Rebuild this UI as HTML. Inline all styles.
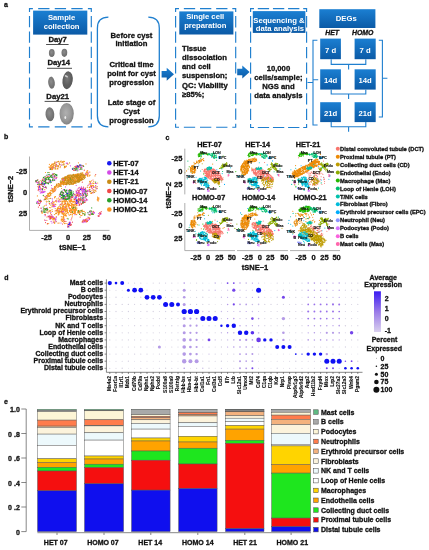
<!DOCTYPE html>
<html><head><meta charset="utf-8"><style>
html,body{margin:0;padding:0;background:#fff;width:429px;height:550px;overflow:hidden}
svg{display:block;font-family:"Liberation Sans",Arial,sans-serif}
</style></head><body>
<svg width="429" height="550" viewBox="0 0 429 550">
<defs>
<linearGradient id="hdr" x1="0" y1="0" x2="0" y2="1">
<stop offset="0" stop-color="#1b7fd2"/><stop offset="1" stop-color="#0b5aa6"/></linearGradient>
<radialGradient id="kidA" cx="0.45" cy="0.4" r="0.65">
<stop offset="0" stop-color="#8e8e8e"/><stop offset="0.6" stop-color="#767676"/><stop offset="0.88" stop-color="#6e6e6e"/><stop offset="1" stop-color="#c8c8c8"/></radialGradient>
<radialGradient id="kidB" cx="0.45" cy="0.4" r="0.65">
<stop offset="0" stop-color="#7a7a7a"/><stop offset="0.6" stop-color="#5e5e5e"/><stop offset="0.88" stop-color="#5a5a5a"/><stop offset="1" stop-color="#b8b8b8"/></radialGradient>
<radialGradient id="kidC" cx="0.45" cy="0.45" r="0.6">
<stop offset="0" stop-color="#b0b0b0"/><stop offset="0.6" stop-color="#999"/><stop offset="0.88" stop-color="#858585"/><stop offset="1" stop-color="#c8c8c8"/></radialGradient>
<linearGradient id="cbar" x1="0" y1="0" x2="0" y2="1">
<stop offset="0" stop-color="#3a1cf2"/><stop offset="0.5" stop-color="#9a7ae8"/><stop offset="1" stop-color="#d9d0ee"/></linearGradient>
</defs>
<rect width="429" height="550" fill="#fff"/>
<text x="4" y="7.2" font-size="7" text-anchor="start" fill="#111" font-weight="bold" stroke="#111" stroke-width="0.3">a</text>
<path d="M32.9,8.6 L29.5,8.6 L29.5,12.0" fill="none" stroke="#1f7fcf" stroke-width="1.15"/>
<path d="M87.89999999999999,8.6 L91.3,8.6 L91.3,12.0" fill="none" stroke="#1f7fcf" stroke-width="1.15"/>
<path d="M32.9,126.9 L29.5,126.9 L29.5,123.5" fill="none" stroke="#1f7fcf" stroke-width="1.15"/>
<path d="M87.89999999999999,126.9 L91.3,126.9 L91.3,123.5" fill="none" stroke="#1f7fcf" stroke-width="1.15"/>
<path d="M38.17,8.6h11.3M54.75,8.6h11.3M71.33,8.6h11.3" stroke="#1f7fcf" stroke-width="1.15" fill="none"/>
<path d="M38.17,126.9h11.3M54.75,126.9h11.3M71.33,126.9h11.3" stroke="#1f7fcf" stroke-width="1.15" fill="none"/>
<path d="M29.5,16.05v11.3M29.5,31.40v11.3M29.5,46.75v11.3M29.5,62.10v11.3M29.5,77.45v11.3M29.5,92.80v11.3M29.5,108.15v11.3" stroke="#1f7fcf" stroke-width="1.15" fill="none"/>
<path d="M91.3,16.05v11.3M91.3,31.40v11.3M91.3,46.75v11.3M91.3,62.10v11.3M91.3,77.45v11.3M91.3,92.80v11.3M91.3,108.15v11.3" stroke="#1f7fcf" stroke-width="1.15" fill="none"/>
<rect x="33.1" y="10.6" width="54.20" height="24.00" fill="url(#hdr)"/>
<text x="61.6" y="19.9" font-size="7.7" text-anchor="middle" fill="#fff" font-weight="bold">Sample</text>
<text x="61.6" y="28.7" font-size="7.7" text-anchor="middle" fill="#fff" font-weight="bold">collection</text>
<text x="57.7" y="41.6" font-size="7.7" text-anchor="middle" fill="#111" font-weight="bold" stroke="#111" stroke-width="0.3">Day7</text>
<line x1="46.1" y1="44.5" x2="68.6" y2="44.5" stroke="#222" stroke-width="0.8"/>
<text x="58.8" y="64.6" font-size="7.7" text-anchor="middle" fill="#111" font-weight="bold" stroke="#111" stroke-width="0.3">Day14</text>
<line x1="47" y1="68.3" x2="72" y2="68.3" stroke="#222" stroke-width="0.8"/>
<text x="57.7" y="98.6" font-size="7.7" text-anchor="middle" fill="#111" font-weight="bold" stroke="#111" stroke-width="0.3">Day21</text>
<line x1="44.6" y1="101.4" x2="70.7" y2="101.4" stroke="#222" stroke-width="0.8"/>
<ellipse cx="51.8" cy="53.0" rx="2.9" ry="4.0" fill="url(#kidA)"/>
<ellipse cx="64.4" cy="52.8" rx="2.9" ry="4.1" fill="url(#kidA)"/>
<ellipse cx="51.5" cy="82.7" rx="3.3" ry="6.1" transform="rotate(-6 51.5 82.7)" fill="url(#kidA)"/>
<ellipse cx="67.6" cy="80.3" rx="5.1" ry="9.0" transform="rotate(8 67.6 80.3)" fill="url(#kidB)"/>
<ellipse cx="66.3" cy="76.3" rx="1.8" ry="0.9" transform="rotate(30 66.3 76.3)" fill="#e8e8e8" opacity="0.8"/>
<ellipse cx="49.9" cy="114.3" rx="4.4" ry="7.0" transform="rotate(-5 49.9 114.3)" fill="url(#kidA)"/>
<ellipse cx="66.7" cy="113.8" rx="7.1" ry="10.9" fill="url(#kidC)"/>
<ellipse cx="65.3" cy="117.5" rx="0.9" ry="1.6" fill="#f4f4f4" opacity="0.9"/>
<path d="M108.4,17.2 Q97.4,17.2 97.4,28.2 V115.8 Q97.4,126.8 108.4,126.8" fill="none" stroke="#1f7fcf" stroke-width="1.3"/>
<path d="M148.3,17.2 Q159.3,17.2 159.3,28.2 V115.8 Q159.3,126.8 148.3,126.8" fill="none" stroke="#1f7fcf" stroke-width="1.3"/>
<text x="131.5" y="37.6" font-size="7.7" text-anchor="middle" fill="#111" font-weight="bold" stroke="#111" stroke-width="0.3">Before cyst</text>
<text x="131.5" y="46.4" font-size="7.7" text-anchor="middle" fill="#111" font-weight="bold" stroke="#111" stroke-width="0.3">initiation</text>
<text x="131.5" y="67.0" font-size="7.7" text-anchor="middle" fill="#111" font-weight="bold" stroke="#111" stroke-width="0.3">Critical time</text>
<text x="131.5" y="76.0" font-size="7.7" text-anchor="middle" fill="#111" font-weight="bold" stroke="#111" stroke-width="0.3">point for cyst</text>
<text x="131.5" y="85.2" font-size="7.7" text-anchor="middle" fill="#111" font-weight="bold" stroke="#111" stroke-width="0.3">progression</text>
<text x="131.5" y="104.8" font-size="7.7" text-anchor="middle" fill="#111" font-weight="bold" stroke="#111" stroke-width="0.3">Late stage of</text>
<text x="131.5" y="114.0" font-size="7.7" text-anchor="middle" fill="#111" font-weight="bold" stroke="#111" stroke-width="0.3">Cyst</text>
<text x="131.5" y="122.9" font-size="7.7" text-anchor="middle" fill="#111" font-weight="bold" stroke="#111" stroke-width="0.3">progression</text>
<path d="M161.6,71.1 H166.7 V67.8 L174.0,74.3 L166.7,80.8 V77.5 H161.6 Z" fill="url(#hdr)"/>
<path d="M237.2,68.8 H242.29999999999998 V65.5 L249.6,72.0 L242.29999999999998,78.5 V75.2 H237.2 Z" fill="url(#hdr)"/>
<path d="M179.0,8.6 L175.6,8.6 L175.6,12.0" fill="none" stroke="#1f7fcf" stroke-width="1.15"/>
<path d="M232.29999999999998,8.6 L235.7,8.6 L235.7,12.0" fill="none" stroke="#1f7fcf" stroke-width="1.15"/>
<path d="M179.0,127.2 L175.6,127.2 L175.6,123.8" fill="none" stroke="#1f7fcf" stroke-width="1.15"/>
<path d="M232.29999999999998,127.2 L235.7,127.2 L235.7,123.8" fill="none" stroke="#1f7fcf" stroke-width="1.15"/>
<path d="M183.85,8.6h11.3M200.00,8.6h11.3M216.15,8.6h11.3" stroke="#1f7fcf" stroke-width="1.15" fill="none"/>
<path d="M183.85,127.2h11.3M200.00,127.2h11.3M216.15,127.2h11.3" stroke="#1f7fcf" stroke-width="1.15" fill="none"/>
<path d="M175.6,16.09v11.3M175.6,31.48v11.3M175.6,46.86v11.3M175.6,62.25v11.3M175.6,77.64v11.3M175.6,93.03v11.3M175.6,108.41v11.3" stroke="#1f7fcf" stroke-width="1.15" fill="none"/>
<path d="M235.7,16.09v11.3M235.7,31.48v11.3M235.7,46.86v11.3M235.7,62.25v11.3M235.7,77.64v11.3M235.7,93.03v11.3M235.7,108.41v11.3" stroke="#1f7fcf" stroke-width="1.15" fill="none"/>
<rect x="179.3" y="11.4" width="54.10" height="23.10" fill="url(#hdr)"/>
<text x="205.2" y="19.1" font-size="7.7" text-anchor="middle" fill="#fff" font-weight="bold">Single cell</text>
<text x="205.3" y="27.8" font-size="7.7" text-anchor="middle" fill="#fff" font-weight="bold">preparation</text>
<text x="182.1" y="51.0" font-size="7.7" text-anchor="start" fill="#111" font-weight="bold" stroke="#111" stroke-width="0.3">Tissue</text>
<text x="182.1" y="60.15" font-size="7.7" text-anchor="start" fill="#111" font-weight="bold" stroke="#111" stroke-width="0.3">dissociation</text>
<text x="182.1" y="69.3" font-size="7.7" text-anchor="start" fill="#111" font-weight="bold" stroke="#111" stroke-width="0.3">and cell</text>
<text x="182.1" y="78.45" font-size="7.7" text-anchor="start" fill="#111" font-weight="bold" stroke="#111" stroke-width="0.3">suspension;</text>
<text x="182.1" y="87.6" font-size="7.7" text-anchor="start" fill="#111" font-weight="bold" stroke="#111" stroke-width="0.3">QC: Viability</text>
<text x="182.1" y="96.75" font-size="7.7" text-anchor="start" fill="#111" font-weight="bold" stroke="#111" stroke-width="0.3">≥85%;</text>
<path d="M254.0,8.6 L250.6,8.6 L250.6,12.0" fill="none" stroke="#1f7fcf" stroke-width="1.15"/>
<path d="M303.20000000000005,8.6 L306.6,8.6 L306.6,12.0" fill="none" stroke="#1f7fcf" stroke-width="1.15"/>
<path d="M254.0,127.5 L250.6,127.5 L250.6,124.1" fill="none" stroke="#1f7fcf" stroke-width="1.15"/>
<path d="M303.20000000000005,127.5 L306.6,127.5 L306.6,124.1" fill="none" stroke="#1f7fcf" stroke-width="1.15"/>
<path d="M257.82,8.6h11.3M272.95,8.6h11.3M288.07,8.6h11.3" stroke="#1f7fcf" stroke-width="1.15" fill="none"/>
<path d="M257.82,127.5h11.3M272.95,127.5h11.3M288.07,127.5h11.3" stroke="#1f7fcf" stroke-width="1.15" fill="none"/>
<path d="M250.6,16.12v11.3M250.6,31.55v11.3M250.6,46.98v11.3M250.6,62.40v11.3M250.6,77.83v11.3M250.6,93.25v11.3M250.6,108.67v11.3" stroke="#1f7fcf" stroke-width="1.15" fill="none"/>
<path d="M306.6,16.12v11.3M306.6,31.55v11.3M306.6,46.98v11.3M306.6,62.40v11.3M306.6,77.83v11.3M306.6,93.25v11.3M306.6,108.67v11.3" stroke="#1f7fcf" stroke-width="1.15" fill="none"/>
<rect x="252.8" y="11.1" width="52.60" height="21.80" fill="url(#hdr)"/>
<text x="278.9" y="22.7" font-size="7.7" text-anchor="middle" fill="#fff" font-weight="bold">Sequencing &amp;</text>
<text x="279.9" y="31.1" font-size="7.7" text-anchor="middle" fill="#fff" font-weight="bold">data analysis</text>
<text x="278.4" y="70.9" font-size="7.7" text-anchor="middle" fill="#111" font-weight="bold" stroke="#111" stroke-width="0.3">10,000</text>
<text x="278.4" y="79.8" font-size="7.7" text-anchor="middle" fill="#111" font-weight="bold" stroke="#111" stroke-width="0.3">cells/sample;</text>
<text x="278.4" y="88.8" font-size="7.7" text-anchor="middle" fill="#111" font-weight="bold" stroke="#111" stroke-width="0.3">NGS and</text>
<text x="278.4" y="97.9" font-size="7.7" text-anchor="middle" fill="#111" font-weight="bold" stroke="#111" stroke-width="0.3">data analysis</text>
<rect x="319.3" y="9.2" width="56.10" height="18.80" fill="url(#hdr)"/>
<text x="346.2" y="21.4" font-size="7.7" text-anchor="middle" fill="#fff" font-weight="bold">DEGs</text>
<text x="332.2" y="34.6" font-size="6.9" text-anchor="middle" fill="#111" font-weight="bold" font-style="italic" stroke="#111" stroke-width="0.3">HET</text>
<text x="362.7" y="34.6" font-size="6.9" text-anchor="middle" fill="#111" font-weight="bold" font-style="italic" stroke="#111" stroke-width="0.3">HOMO</text>
<rect x="320.2" y="38.6" width="20.70" height="20.60" fill="url(#hdr)"/>
<text x="330.54999999999995" y="52.50000000000001" font-size="7.7" text-anchor="middle" fill="#fff" font-weight="bold">7 d</text>
<rect x="354.6" y="38.6" width="21.10" height="20.60" fill="url(#hdr)"/>
<text x="365.15" y="52.50000000000001" font-size="7.7" text-anchor="middle" fill="#fff" font-weight="bold">7 d</text>
<rect x="320.2" y="69.3" width="20.70" height="20.30" fill="url(#hdr)"/>
<text x="330.54999999999995" y="83.04999999999998" font-size="7.7" text-anchor="middle" fill="#fff" font-weight="bold">14d</text>
<rect x="354.6" y="69.3" width="21.10" height="20.30" fill="url(#hdr)"/>
<text x="365.15" y="83.04999999999998" font-size="7.7" text-anchor="middle" fill="#fff" font-weight="bold">14d</text>
<rect x="320.2" y="102.2" width="20.70" height="19.90" fill="url(#hdr)"/>
<text x="330.54999999999995" y="115.75" font-size="7.7" text-anchor="middle" fill="#fff" font-weight="bold">21d</text>
<rect x="354.6" y="102.2" width="21.10" height="19.90" fill="url(#hdr)"/>
<text x="365.15" y="115.75" font-size="7.7" text-anchor="middle" fill="#fff" font-weight="bold">21d</text>
<path d="M331.2,59.2 V64.4 H365.8 V59.2 M348.6,64.4 V69.4" fill="none" stroke="#1f7fcf" stroke-width="1.1"/>
<path d="M331.2,89.6 V94.0 H365.8 V89.6 M348.6,94.0 V99.0" fill="none" stroke="#1f7fcf" stroke-width="1.1"/>
<path d="M331.2,122.1 V126.7 H365.8 V122.1 M348.6,126.7 V131.7" fill="none" stroke="#1f7fcf" stroke-width="1.1"/>
<path d="M317.4,40.2 H313.0 V125.0 H317.6 M313,79.8 H318.2 M307.5,82.5 H313" fill="none" stroke="#1f7fcf" stroke-width="1.1"/>
<path d="M378.8,40.2 H382.4 V117.0 H378.8 M382.4,78.2 H387.4" fill="none" stroke="#1f7fcf" stroke-width="1.1"/>
<text x="4" y="138.5" font-size="7" text-anchor="start" fill="#111" font-weight="bold" stroke="#111" stroke-width="0.3">b</text>
<path d="M29.5,156.5 V230.4 H109.5" fill="none" stroke="#9a9a9a" stroke-width="0.8"/>
<text x="27.2" y="173.8" font-size="7.5" text-anchor="end" fill="#111" font-weight="bold" stroke="#111" stroke-width="0.3">-25</text>
<text x="27.2" y="195.2" font-size="7.5" text-anchor="end" fill="#111" font-weight="bold" stroke="#111" stroke-width="0.3">0</text>
<text x="27.2" y="215.6" font-size="7.5" text-anchor="end" fill="#111" font-weight="bold" stroke="#111" stroke-width="0.3">25</text>
<text x="46.6" y="240.2" font-size="7.5" text-anchor="middle" fill="#111" font-weight="bold" stroke="#111" stroke-width="0.3">-25</text>
<text x="68" y="240.2" font-size="7.5" text-anchor="middle" fill="#111" font-weight="bold" stroke="#111" stroke-width="0.3">0</text>
<text x="86.8" y="240.2" font-size="7.5" text-anchor="middle" fill="#111" font-weight="bold" stroke="#111" stroke-width="0.3">25</text>
<text x="106.7" y="240.2" font-size="7.5" text-anchor="middle" fill="#111" font-weight="bold" stroke="#111" stroke-width="0.3">50</text>
<text x="72.5" y="249.6" font-size="7.5" text-anchor="middle" fill="#111" font-weight="bold" stroke="#111" stroke-width="0.3">tSNE−1</text>
<text x="13.2" y="189" font-size="7.5" text-anchor="middle" fill="#111" font-weight="bold" transform="rotate(-90 13.2 189)" stroke="#111" stroke-width="0.3">tSNE−2</text>
<path stroke="#c98c16" stroke-width="1.20" stroke-linecap="round" d="M54.4 163.4h0M55.0 167.0h0M55.1 168.8h0M53.6 167.2h0M57.5 161.8h0M63.8 165.0h0M55.2 167.9h0M60.0 164.8h0M67.2 163.4h0M50.3 169.0h0M54.1 165.5h0M57.6 166.1h0M56.6 164.7h0M62.3 164.8h0M61.2 161.1h0M64.6 167.4h0M55.0 162.2h0M58.5 161.4h0M52.5 169.1h0M65.9 166.5h0M62.7 162.3h0M53.8 164.4h0M52.1 164.3h0M58.4 166.8h0M64.5 166.4h0M63.9 161.3h0M57.9 168.8h0M55.6 165.8h0M58.6 165.8h0M52.0 166.6h0M59.3 163.8h0M63.8 164.4h0M47.2 177.5h0M54.3 173.6h0M49.5 181.9h0M41.0 180.5h0M43.7 179.0h0M48.0 176.6h0M46.2 177.5h0M56.1 178.0h0M49.2 177.2h0M62.3 180.0h0M73.6 180.0h0M74.2 178.7h0M75.4 182.5h0M68.8 177.7h0M74.9 179.4h0M76.2 175.9h0M61.3 182.0h0M73.6 183.6h0M65.0 182.0h0M75.3 181.9h0M66.8 178.5h0M80.8 180.4h0M76.9 178.0h0M69.9 177.0h0M68.3 182.7h0M79.7 179.9h0M72.6 178.6h0M71.5 177.1h0M65.6 178.1h0M68.4 184.0h0M66.5 184.7h0M71.5 183.0h0M79.4 177.2h0M72.7 177.3h0M73.4 174.8h0M67.3 176.7h0M61.6 183.6h0M76.4 180.9h0M73.3 177.7h0M62.0 178.5h0M78.8 179.3h0M74.0 176.8h0M63.0 183.9h0M67.3 179.6h0M65.6 178.5h0M72.3 182.9h0M60.8 180.9h0M77.3 176.7h0M71.8 176.5h0M60.3 181.8h0M77.5 175.0h0M68.8 183.5h0M81.0 175.3h0M76.0 178.5h0M73.7 174.7h0M76.5 181.4h0M68.0 179.2h0M64.4 178.6h0M71.3 178.3h0M65.4 180.4h0M77.8 180.8h0M67.7 178.5h0M79.6 179.4h0M63.9 180.5h0M72.5 175.5h0M79.6 175.1h0M67.5 182.4h0M63.0 177.8h0M67.6 180.5h0M78.6 180.4h0M65.0 182.3h0M64.7 179.8h0M69.8 182.8h0M71.8 180.8h0M63.7 182.2h0M77.8 182.3h0M73.7 181.6h0M65.9 183.0h0M78.1 180.1h0M75.8 180.0h0M67.6 181.6h0M70.3 182.6h0M73.9 176.4h0M70.7 180.9h0M76.3 182.9h0M75.6 181.5h0M72.3 184.2h0M71.8 176.0h0M81.5 177.6h0M73.3 179.5h0M72.1 180.8h0M65.4 182.7h0M67.3 175.9h0M68.2 175.2h0M70.1 181.8h0M65.6 177.9h0M81.5 177.7h0M78.1 177.0h0M63.7 184.0h0M74.5 178.6h0M68.5 181.6h0M78.5 177.7h0M71.8 175.6h0M69.0 183.6h0M68.2 177.7h0M76.0 176.3h0M67.0 180.2h0M74.9 180.4h0M81.2 180.3h0M79.2 179.2h0M74.5 176.3h0M62.9 178.6h0M67.3 176.8h0M77.4 174.9h0M74.5 181.7h0M81.0 180.4h0M65.1 182.8h0M76.8 177.7h0M72.2 176.9h0M63.4 181.2h0M70.0 176.2h0M71.5 179.9h0M70.9 180.3h0M78.9 176.6h0M74.9 180.2h0M71.7 179.3h0M74.0 177.3h0M68.4 179.9h0M77.0 175.4h0M69.9 180.4h0M67.5 183.7h0M71.1 177.2h0M82.5 178.7h0M67.3 178.5h0M73.7 180.4h0M80.3 178.1h0M74.3 180.5h0M81.0 178.6h0M74.8 180.8h0M75.0 175.8h0M71.1 182.3h0M78.5 182.2h0M69.2 183.3h0M72.4 176.8h0M69.4 178.1h0M75.6 183.1h0M72.1 174.7h0M78.6 178.8h0M69.3 175.0h0M70.8 178.8h0M74.2 176.0h0M75.9 175.9h0M78.1 180.3h0M75.8 174.3h0M67.7 182.6h0M79.6 177.6h0M68.7 180.9h0M74.7 175.2h0M68.7 181.6h0M69.4 178.8h0M72.6 177.1h0M78.5 176.3h0M73.4 177.1h0M80.0 176.4h0M74.6 182.9h0M66.0 179.9h0M79.4 181.8h0M79.6 181.0h0M72.6 176.9h0M78.8 179.8h0M67.2 176.2h0M77.6 175.1h0M74.3 180.7h0M64.4 178.5h0M78.0 177.7h0M79.0 180.7h0M74.1 183.0h0M71.9 179.2h0M63.9 178.0h0M75.7 177.2h0M69.3 180.1h0M67.8 176.2h0M77.2 174.8h0M68.1 180.4h0M79.7 177.6h0M66.7 183.4h0M64.1 177.8h0M61.5 182.2h0M71.5 184.1h0M61.9 182.5h0M66.2 181.3h0M82.1 179.0h0M69.0 184.1h0M78.4 180.2h0M75.1 176.7h0M76.5 174.4h0M65.3 177.0h0M63.5 178.5h0M75.8 175.5h0M79.5 179.1h0M68.6 183.4h0M73.6 175.4h0M62.0 183.7h0M66.1 179.8h0M67.1 183.9h0M64.0 181.0h0M80.7 179.3h0M70.5 177.5h0M62.0 179.4h0M62.0 183.8h0M78.1 176.5h0M71.4 176.3h0M80.2 174.8h0M62.7 178.1h0M75.6 175.5h0M62.4 182.5h0M65.8 177.7h0M76.8 181.6h0M76.5 177.5h0M68.5 183.6h0M70.3 174.8h0M71.7 183.3h0M65.1 184.2h0M63.7 179.8h0M60.4 182.1h0M71.1 175.7h0M79.4 181.6h0M76.0 177.3h0M81.7 177.3h0M72.3 179.7h0M66.5 183.8h0M62.8 183.4h0M60.9 182.8h0M72.4 181.4h0M80.3 179.9h0M63.0 181.2h0M65.8 176.9h0M63.5 182.1h0M63.7 181.9h0M68.8 179.3h0M77.4 176.6h0M79.3 181.4h0M65.7 179.9h0M68.5 180.4h0M70.0 179.9h0M75.1 181.9h0M74.2 176.5h0M73.7 176.5h0M70.9 184.2h0M67.4 181.9h0M74.6 183.5h0M66.2 180.3h0M62.8 179.2h0M66.2 178.0h0M73.2 182.6h0M73.4 180.6h0M76.2 178.1h0M74.0 178.7h0M65.1 178.0h0M69.0 180.9h0M68.9 183.7h0M72.8 179.1h0M76.9 174.9h0M79.7 177.1h0M68.9 179.4h0M76.2 175.0h0M68.5 181.9h0M80.0 181.0h0M77.4 180.7h0M71.5 182.4h0M77.7 179.1h0M82.1 178.0h0M78.7 181.8h0M68.7 179.6h0M76.1 176.4h0M72.5 178.1h0M78.7 181.5h0M69.6 176.7h0M63.7 181.9h0M68.3 183.7h0M70.7 183.9h0M61.5 182.3h0M73.4 184.2h0M72.3 181.2h0M68.5 181.1h0M81.9 179.1h0M62.2 180.2h0M73.0 179.9h0M81.9 177.1h0M68.0 180.5h0M78.9 178.1h0M80.8 179.5h0M69.0 176.5h0M71.8 179.5h0M64.6 182.3h0M73.6 174.4h0M77.6 176.2h0M79.4 178.7h0M64.7 180.9h0M66.5 182.1h0M68.7 176.2h0M76.5 174.4h0M64.1 181.3h0M74.7 182.0h0M68.0 182.5h0M63.6 178.8h0M80.8 178.4h0M70.1 178.6h0M70.4 181.0h0M79.1 176.0h0M78.2 176.1h0M65.5 179.7h0M64.8 179.0h0M71.8 182.4h0M63.9 179.7h0M72.1 175.4h0M68.7 179.1h0M63.7 184.5h0M65.1 177.7h0M74.9 177.2h0M75.3 174.5h0M70.9 183.1h0M63.5 179.7h0M69.7 184.6h0M81.7 177.4h0M69.7 176.1h0M66.9 184.6h0M68.0 177.6h0M65.8 184.5h0M71.9 179.9h0M77.4 177.1h0M72.6 177.3h0M79.0 176.1h0M62.8 182.0h0M71.1 177.5h0M66.7 177.7h0M75.9 176.3h0M81.3 180.2h0M75.9 180.2h0M69.9 181.5h0M66.6 184.1h0M73.7 175.8h0M81.3 179.8h0M63.3 178.2h0M67.9 175.6h0M73.9 175.7h0M73.5 181.3h0M70.4 181.6h0M77.3 176.1h0M79.7 178.9h0M64.9 176.9h0M76.3 174.3h0M69.6 182.4h0M70.7 184.1h0M77.6 181.6h0M69.5 175.4h0M63.7 183.8h0M76.7 181.5h0M73.5 183.9h0M72.0 176.8h0M68.1 179.3h0M66.5 176.9h0M74.8 176.1h0M67.7 178.2h0M63.6 181.8h0M78.7 178.5h0M64.4 182.7h0M71.2 182.3h0M62.4 179.3h0M65.9 177.6h0M69.5 176.0h0M70.5 178.3h0M72.1 175.4h0M69.4 176.8h0M74.4 176.3h0M78.4 181.5h0M64.7 182.4h0M78.6 181.4h0M78.4 174.4h0M78.6 175.8h0M79.6 179.2h0M76.1 177.8h0M83.9 177.5h0M84.9 175.7h0M76.9 175.6h0M76.6 178.6h0M80.6 180.1h0M75.9 176.8h0M84.3 178.6h0M79.5 175.0h0M80.5 175.9h0M80.1 177.8h0M78.4 176.4h0M78.6 174.5h0M82.1 178.6h0M82.4 177.0h0M81.8 179.8h0M81.7 174.7h0M77.7 178.4h0M76.6 178.4h0M81.2 175.7h0M81.0 175.6h0M80.5 173.5h0M77.5 173.9h0M78.0 176.9h0M77.9 177.5h0M80.7 177.1h0M79.0 173.5h0M84.1 176.2h0M82.2 173.1h0M81.5 178.4h0M77.7 176.0h0M81.1 174.2h0M82.4 175.6h0M82.2 179.1h0M77.6 178.9h0M83.3 177.4h0M76.6 176.2h0M85.2 177.4h0M81.0 173.3h0M81.9 174.4h0M80.4 179.1h0M77.1 179.4h0M80.8 174.8h0M78.9 174.0h0M81.1 177.9h0M78.5 174.2h0M84.6 178.1h0M77.8 179.4h0M79.4 176.5h0M83.8 175.1h0M81.0 173.1h0M78.2 179.9h0M79.1 176.5h0M79.2 175.6h0M81.1 175.1h0M80.7 180.2h0M77.2 178.4h0M78.3 176.9h0M81.5 178.4h0M83.4 177.0h0M78.9 175.1h0M82.0 174.7h0M82.9 176.2h0M79.1 177.1h0M76.0 176.0h0M85.3 175.5h0M77.6 175.0h0M84.1 175.5h0M80.9 174.9h0M76.0 175.8h0M79.5 179.9h0M81.9 180.0h0M83.1 175.5h0M76.2 177.1h0M78.0 175.1h0M76.9 175.3h0M77.6 176.2h0M82.0 179.0h0M80.9 173.2h0M84.0 174.7h0M77.5 177.3h0M82.4 179.4h0M79.1 178.7h0M79.8 178.0h0M76.0 176.6h0M81.5 175.0h0M81.1 174.5h0M81.8 180.0h0M81.9 178.0h0M77.3 179.1h0M83.5 175.4h0M81.4 176.8h0M81.3 175.1h0M78.4 178.5h0M83.0 174.6h0M85.1 175.3h0M81.3 179.8h0M75.6 177.2h0M78.2 178.9h0M76.2 177.3h0M78.7 174.1h0M83.4 179.2h0M80.7 177.5h0M83.4 175.7h0M82.2 172.8h0M80.0 179.4h0M81.0 175.7h0M85.0 176.7h0M77.7 175.2h0M60.4 185.7h0M60.2 184.6h0M63.4 183.4h0M63.5 184.8h0M62.4 181.6h0M62.1 181.8h0M61.1 186.3h0M59.2 186.4h0M60.6 183.1h0M61.0 182.9h0M60.5 186.2h0M63.5 182.8h0M64.9 182.7h0M59.4 184.9h0M59.2 186.4h0M62.0 183.3h0M63.5 183.5h0M64.9 182.7h0M61.0 184.2h0M64.0 181.1h0M60.6 183.8h0M64.8 183.8h0M62.7 182.5h0M64.2 182.2h0M63.4 184.1h0M63.0 182.6h0M63.1 184.0h0M62.9 183.5h0M55.8 189.2h0M53.5 191.5h0M49.9 192.5h0M47.6 197.0h0M48.6 194.8h0M51.9 191.0h0M49.9 193.4h0M54.0 191.5h0M52.9 190.7h0M48.0 193.7h0M46.4 195.5h0M52.8 188.5h0M60.8 183.8h0M58.9 185.7h0M56.5 185.3h0M50.0 192.6h0M50.6 194.1h0M54.2 189.0h0M57.2 186.0h0M56.8 184.6h0M54.6 187.5h0M54.6 186.5h0M58.3 183.9h0M48.9 196.4h0M47.2 196.5h0M56.6 184.7h0M49.7 193.3h0M50.8 194.9h0M55.6 186.1h0M62.3 211.2h0M66.8 209.1h0M75.9 210.2h0M75.0 211.1h0M76.9 208.0h0M66.8 204.0h0M72.8 207.1h0M70.4 214.6h0M73.3 205.9h0M68.7 200.0h0M62.8 214.0h0M62.3 205.8h0M69.6 211.4h0M62.1 202.5h0M65.1 208.8h0M60.6 207.3h0M74.9 205.6h0M70.9 209.8h0M73.6 204.7h0M70.8 202.8h0M70.1 197.9h0M67.5 210.1h0M65.0 200.8h0M72.9 208.6h0M67.1 201.7h0M70.3 201.5h0M66.5 200.1h0M92.7 192.4h0M97.2 188.6h0M95.3 182.8h0M95.7 185.7h0M89.8 189.6h0M87.8 190.9h0M94.9 190.6h0M89.9 189.4h0M89.2 189.6h0M93.8 191.9h0M95.1 187.4h0M91.3 193.4h0M90.6 182.1h0M94.6 192.5h0M90.6 185.9h0M87.3 187.2h0M91.4 193.3h0M96.8 188.2h0M91.4 187.5h0M89.8 181.4h0M58.7 214.1h0M58.8 210.7h0M57.9 207.8h0M57.0 211.2h0M58.4 211.1h0M56.8 210.1h0M50.9 205.1h0M46.2 212.2h0M63.0 199.5h0M65.0 202.8h0M48.0 201.5h0M60.1 206.6h0M64.0 198.0h0M62.8 206.3h0M49.7 210.9h0M49.1 198.5h0M58.1 212.0h0M56.2 221.7h0M54.2 222.2h0M55.0 197.0h0M48.9 211.8h0M52.3 217.4h0M50.7 198.4h0M55.7 213.7h0M50.1 210.7h0M58.6 183.6h0M68.0 203.2h0M80.3 199.3h0M71.4 210.3h0M92.2 185.4h0M49.2 172.6h0M59.3 195.0h0M73.7 183.6h0M85.6 200.8h0M85.5 196.9h0M86.1 174.5h0M69.6 162.9h0"/>
<path stroke="#fb9420" stroke-width="1.20" stroke-linecap="round" d="M50.2 167.6h0M49.9 167.4h0M56.5 162.2h0M57.6 168.5h0M53.8 163.5h0M55.3 168.9h0M60.3 166.3h0M58.7 161.7h0M53.1 168.2h0M66.2 165.8h0M57.3 168.0h0M49.1 167.2h0M63.1 161.3h0M57.0 169.0h0M65.4 167.2h0M51.7 164.6h0M58.4 166.3h0M56.2 165.1h0M60.4 161.3h0M52.2 163.9h0M60.1 162.1h0M55.3 165.0h0M57.8 165.5h0M50.4 165.9h0M64.3 161.4h0M67.4 163.9h0M61.9 162.7h0M63.7 162.9h0M54.9 162.2h0M55.4 163.8h0M52.7 169.2h0M62.3 161.9h0M55.7 166.5h0M52.4 164.7h0M53.6 167.3h0M49.0 167.0h0M60.1 167.6h0M59.2 163.2h0M64.3 167.8h0M52.5 167.5h0M52.8 167.3h0M51.9 169.7h0M50.9 167.8h0M53.5 165.7h0M51.7 165.4h0M50.1 168.3h0M53.0 168.3h0M51.6 167.4h0M53.5 165.8h0M52.1 166.7h0M51.2 168.6h0M52.2 167.2h0M51.3 168.1h0M50.3 166.3h0M53.2 166.4h0M51.7 169.6h0M50.9 165.7h0M52.3 168.5h0M50.1 168.4h0M53.6 174.7h0M43.5 180.3h0M50.1 180.3h0M45.6 180.2h0M45.7 182.2h0M45.5 178.4h0M44.6 180.8h0M47.8 179.5h0M44.8 189.7h0M38.6 184.6h0M41.9 191.4h0M46.3 187.9h0M39.8 189.5h0M74.7 178.3h0M76.2 180.2h0M68.2 178.4h0M65.3 183.5h0M67.0 177.3h0M75.8 174.5h0M62.3 180.3h0M71.8 178.5h0M76.6 174.6h0M74.3 180.8h0M74.5 183.3h0M74.8 174.9h0M76.1 178.1h0M69.6 176.4h0M64.0 183.7h0M69.5 175.8h0M64.5 179.6h0M64.6 184.3h0M71.9 178.4h0M67.7 179.7h0M72.8 183.9h0M66.5 181.0h0M62.1 178.7h0M63.7 179.3h0M80.5 178.4h0M81.8 177.3h0M65.7 176.5h0M69.9 180.0h0M71.7 178.9h0M62.6 183.6h0M75.0 180.1h0M78.7 176.5h0M82.5 173.2h0M79.0 174.2h0M83.0 173.1h0M81.2 176.6h0M82.8 176.5h0M77.8 178.8h0M83.0 175.0h0M59.6 184.5h0M62.4 182.6h0M61.2 186.0h0M64.0 181.6h0M63.4 181.2h0M65.1 182.5h0M61.1 184.7h0M60.3 183.9h0M62.8 184.3h0M60.7 184.7h0M61.8 183.2h0M62.1 182.7h0M53.2 191.4h0M52.0 190.2h0M59.1 184.2h0M54.2 190.8h0M49.2 196.2h0M57.0 183.9h0M58.5 186.3h0M47.5 195.1h0M51.8 193.4h0M51.3 190.2h0M60.5 183.5h0M48.6 196.2h0M52.6 189.6h0M50.5 192.6h0M49.0 195.2h0M49.1 195.8h0M54.3 188.4h0M57.0 185.5h0M55.2 190.3h0M60.1 183.9h0M54.9 187.6h0M56.3 186.4h0M46.6 197.8h0M53.3 191.9h0M53.6 191.8h0M56.0 188.5h0M47.0 197.8h0M57.5 187.1h0M55.9 187.3h0M55.5 187.4h0M47.6 195.4h0M47.3 199.1h0M49.2 193.6h0M58.2 185.2h0M50.7 190.6h0M48.8 193.4h0M53.2 189.6h0M53.1 190.9h0M52.6 188.6h0M53.2 189.8h0M53.2 192.2h0M52.4 191.8h0M57.0 184.0h0M49.6 196.3h0M54.9 187.4h0M47.9 193.9h0M58.1 187.3h0M54.7 186.9h0M49.4 193.0h0M50.6 193.4h0M50.3 191.0h0M54.3 187.7h0M52.5 192.0h0M61.1 184.1h0M54.1 191.6h0M53.7 191.6h0M52.5 188.9h0M50.3 195.6h0M55.6 190.1h0M59.6 184.2h0M50.5 192.9h0M86.9 190.9h0M76.0 194.0h0M77.2 199.5h0M79.3 195.1h0M80.5 188.6h0M83.9 198.1h0M80.7 196.2h0M79.0 191.6h0M77.8 194.1h0M77.6 193.6h0M75.3 196.6h0M77.1 192.8h0M82.0 200.1h0M81.9 190.2h0M82.3 189.5h0M79.5 194.7h0M86.3 196.4h0M81.0 203.7h0M76.1 202.5h0M84.3 189.7h0M66.5 208.2h0M65.7 204.0h0M71.3 199.8h0M64.3 209.6h0M66.4 200.9h0M62.7 206.4h0M63.2 206.3h0M70.6 212.4h0M70.9 199.5h0M71.6 212.2h0M63.8 210.4h0M66.6 199.0h0M71.9 204.5h0M65.3 201.6h0M63.8 204.4h0M70.5 201.6h0M65.7 198.8h0M68.2 203.8h0M64.7 209.2h0M73.6 199.0h0M73.2 206.1h0M75.8 208.3h0M65.0 206.5h0M64.1 202.1h0M72.3 210.6h0M62.5 213.5h0M69.5 200.8h0M72.2 215.0h0M65.9 205.4h0M63.2 212.8h0M65.5 214.6h0M69.5 204.0h0M67.9 212.7h0M67.4 204.1h0M74.6 210.6h0M63.3 211.3h0M76.0 203.1h0M70.3 212.5h0M69.9 201.2h0M74.9 207.6h0M72.2 214.0h0M73.6 201.3h0M62.7 206.6h0M68.4 204.7h0M66.1 199.2h0M64.3 210.0h0M67.5 210.3h0M65.2 211.6h0M64.7 213.2h0M72.3 201.3h0M65.2 209.4h0M70.9 214.1h0M65.8 209.3h0M71.7 204.7h0M61.7 212.3h0M72.9 205.2h0M63.9 207.2h0M74.1 209.4h0M61.0 209.0h0M74.1 211.4h0M76.0 202.2h0M65.8 210.5h0M70.9 211.2h0M66.6 210.8h0M72.7 204.3h0M67.1 212.8h0M64.9 212.9h0M75.7 209.8h0M75.2 202.7h0M67.2 211.4h0M71.6 205.9h0M71.5 199.7h0M68.2 206.2h0M66.6 198.5h0M65.2 198.9h0M65.8 211.7h0M77.1 205.2h0M66.5 215.9h0M70.3 208.5h0M70.9 199.7h0M71.7 212.3h0M64.7 204.4h0M61.8 207.7h0M69.7 200.6h0M68.1 206.7h0M66.0 207.0h0M72.6 201.8h0M66.3 207.0h0M64.4 200.6h0M65.9 215.2h0M62.8 213.7h0M66.3 213.6h0M65.5 207.8h0M60.5 204.4h0M71.7 200.5h0M65.1 206.8h0M64.0 213.3h0M66.5 199.3h0M61.9 211.9h0M62.0 213.8h0M75.0 201.0h0M74.1 204.8h0M69.2 210.5h0M71.6 209.5h0M76.6 205.7h0M66.0 198.5h0M75.9 203.3h0M69.2 208.6h0M73.1 199.0h0M69.4 201.9h0M61.9 210.7h0M62.4 203.7h0M63.8 210.4h0M68.4 214.0h0M65.1 214.3h0M63.4 201.1h0M71.4 206.8h0M65.2 214.6h0M64.7 201.2h0M73.2 213.5h0M73.5 202.1h0M61.6 203.9h0M60.4 208.3h0M71.3 201.4h0M66.2 209.3h0M65.0 203.3h0M67.8 201.8h0M65.0 203.3h0M70.2 200.6h0M65.2 215.8h0M62.3 204.2h0M62.4 207.7h0M73.6 208.8h0M71.2 200.5h0M76.2 202.5h0M61.0 205.2h0M64.6 209.3h0M60.4 208.0h0M73.4 202.0h0M74.9 201.9h0M62.6 201.2h0M72.5 214.9h0M66.1 215.7h0M74.9 211.4h0M68.9 206.8h0M66.5 206.3h0M66.0 201.2h0M69.2 205.6h0M63.4 205.3h0M71.0 212.4h0M69.7 204.9h0M65.3 209.9h0M66.4 210.9h0M68.9 204.2h0M64.3 210.4h0M66.1 200.3h0M69.5 211.1h0M73.3 204.5h0M75.4 204.5h0M60.1 209.3h0M69.4 204.7h0M66.6 210.6h0M68.2 205.2h0M75.3 206.6h0M75.1 208.6h0M73.7 206.8h0M75.2 208.9h0M71.9 203.5h0M67.8 204.1h0M64.4 210.6h0M70.3 210.4h0M71.9 204.2h0M63.7 206.6h0M69.5 197.7h0M69.9 209.8h0M65.0 199.3h0M68.3 204.0h0M61.6 211.3h0M70.8 205.5h0M70.6 214.5h0M62.6 201.7h0M68.2 212.7h0M70.2 205.4h0M64.3 200.0h0M63.6 215.1h0M70.2 201.8h0M67.0 204.9h0M63.6 209.0h0M68.7 207.0h0M76.4 204.6h0M67.6 203.1h0M71.2 203.7h0M76.6 208.0h0M70.7 208.7h0M63.1 211.7h0M63.6 214.3h0M69.7 200.5h0M71.5 207.3h0M62.1 210.1h0M74.6 207.2h0M74.1 213.4h0M68.7 206.5h0M62.3 207.2h0M63.6 207.8h0M72.9 202.2h0M65.2 206.5h0M67.3 208.9h0M64.1 208.7h0M68.1 212.7h0M64.7 204.0h0M67.5 211.8h0M63.9 214.7h0M74.0 201.3h0M62.1 211.3h0M73.4 209.7h0M75.0 208.8h0M71.1 208.9h0M60.7 211.7h0M73.5 201.4h0M76.5 209.5h0M61.7 212.8h0M74.3 204.0h0M74.6 211.0h0M71.9 207.8h0M63.2 209.6h0M63.0 208.5h0M66.4 206.2h0M69.3 215.2h0M65.3 202.3h0M71.7 206.5h0M68.0 206.9h0M62.1 208.7h0M64.0 207.7h0M73.8 210.6h0M75.0 211.8h0M71.1 209.9h0M76.7 214.6h0M77.7 212.7h0M72.3 208.0h0M75.5 208.7h0M76.8 210.1h0M75.5 211.0h0M75.4 211.6h0M77.9 211.9h0M72.6 209.6h0M74.1 210.1h0M75.4 212.8h0M74.5 212.4h0M72.8 207.2h0M75.9 209.8h0M75.2 210.2h0M78.2 210.7h0M71.2 209.4h0M72.7 212.4h0M75.3 210.8h0M75.8 214.2h0M73.7 211.1h0M74.4 211.1h0M74.0 213.0h0M74.7 213.4h0M72.9 207.7h0M77.9 211.1h0M75.6 212.7h0M75.2 209.8h0M75.2 208.2h0M72.2 211.0h0M74.2 212.7h0M78.0 166.8h0M83.3 165.8h0M89.2 176.1h0M89.0 176.1h0M87.7 173.3h0M86.9 171.2h0M89.9 172.0h0M85.8 173.5h0M87.7 175.3h0M87.7 170.6h0M87.5 176.2h0M90.1 175.2h0M86.4 172.3h0M87.4 174.4h0M86.2 172.5h0M87.5 175.5h0M88.5 174.0h0M87.3 172.1h0M85.4 173.8h0M88.0 172.9h0M89.4 175.3h0M86.5 174.0h0M86.8 175.1h0M90.0 191.9h0M93.6 190.9h0M92.3 188.4h0M92.2 185.5h0M91.9 192.7h0M90.1 182.5h0M95.4 183.5h0M96.0 191.2h0M95.8 187.9h0M89.3 187.6h0M89.9 181.8h0M90.3 191.9h0M87.3 190.3h0M93.8 181.6h0M91.4 180.9h0M87.9 185.5h0M89.6 190.1h0M93.5 186.7h0M89.3 183.9h0M92.0 190.5h0M89.9 187.2h0M91.8 193.0h0M91.0 193.4h0M95.8 191.2h0M91.7 185.8h0M95.3 190.0h0M93.5 185.3h0M90.4 185.9h0M91.2 183.8h0M92.7 183.2h0M93.8 189.5h0M93.7 183.4h0M39.7 203.6h0M41.3 201.6h0M38.7 200.1h0M38.3 203.2h0M39.5 200.9h0M44.5 208.7h0M45.1 208.7h0M44.1 209.3h0M41.8 212.6h0M41.2 211.1h0M42.4 211.9h0M47.0 210.2h0M42.2 213.2h0M47.4 208.3h0M45.6 209.5h0M41.9 213.0h0M44.3 208.4h0M44.2 211.1h0M41.6 211.7h0M53.2 202.4h0M53.4 205.0h0M54.9 204.1h0M52.8 201.4h0M54.3 205.8h0M54.3 201.9h0M53.8 205.9h0M54.0 205.1h0M53.5 205.8h0M52.2 203.5h0M53.3 204.4h0M53.1 203.5h0M53.1 203.6h0M53.0 202.2h0M50.4 216.9h0M55.1 218.7h0M53.0 219.8h0M53.8 218.8h0M48.2 216.7h0M54.1 219.9h0M54.5 217.9h0M50.6 217.5h0M51.0 218.7h0M53.4 218.1h0M49.0 216.5h0M49.7 217.9h0M49.9 215.5h0M50.1 216.2h0M54.2 218.9h0M50.7 219.0h0M51.5 216.8h0M51.6 217.9h0M52.3 216.4h0M57.8 209.4h0M57.5 210.3h0M59.2 208.3h0M57.2 209.4h0M59.0 213.0h0M59.2 210.6h0M58.0 207.9h0M58.2 213.9h0M56.2 212.8h0M57.7 208.5h0M58.5 212.2h0M57.3 209.3h0M57.8 212.5h0M59.5 211.9h0M58.0 208.4h0M59.6 208.5h0M58.9 214.1h0M58.2 215.0h0M56.5 213.4h0M57.3 208.5h0M56.9 210.6h0M58.9 212.5h0M58.9 208.3h0M57.5 211.0h0M61.3 219.1h0M62.8 221.2h0M61.3 219.6h0M63.1 216.7h0M64.0 218.0h0M63.0 216.5h0M62.6 221.1h0M63.8 217.5h0M63.6 218.7h0M61.3 220.7h0M63.6 214.7h0M63.8 218.5h0M63.4 217.4h0M63.1 219.2h0M62.4 221.4h0M64.7 215.7h0M64.7 215.7h0M63.5 220.3h0M63.5 216.3h0M63.3 219.6h0M87.8 218.9h0M85.7 220.4h0M86.5 219.0h0M86.4 222.0h0M86.4 218.9h0M83.0 220.7h0M88.4 217.9h0M89.8 218.2h0M82.7 222.1h0M82.7 221.3h0M87.5 221.2h0M88.5 217.5h0M82.1 221.9h0M86.3 221.2h0M87.1 221.6h0M90.5 210.9h0M90.4 215.0h0M93.0 212.5h0M92.2 213.6h0M89.4 214.9h0M93.4 214.4h0M92.8 211.8h0M91.1 214.2h0M92.7 213.3h0M92.5 214.0h0M83.0 211.4h0M81.2 211.6h0M79.4 211.6h0M78.5 211.8h0M81.9 215.5h0M79.8 213.9h0M78.2 213.0h0M80.1 212.3h0M80.0 211.9h0M80.9 211.9h0M84.7 214.4h0M85.2 212.7h0M79.0 213.0h0M78.9 211.9h0M83.4 213.8h0M81.0 210.4h0M79.4 212.1h0M81.1 215.6h0M82.6 214.0h0M79.5 210.8h0M83.1 213.8h0M84.8 214.5h0M82.3 211.0h0M80.8 215.3h0M78.7 211.3h0M82.2 210.2h0M82.5 213.6h0M84.2 211.4h0M97.7 198.7h0M98.8 199.2h0M98.4 200.8h0M98.8 197.9h0M97.8 197.9h0M97.2 199.8h0M97.8 199.8h0M98.9 198.1h0M98.0 200.8h0M97.6 197.1h0M55.8 204.7h0M64.3 223.6h0M49.1 203.1h0M49.6 216.8h0M47.0 210.2h0M63.6 208.6h0M61.3 201.2h0M54.6 197.8h0M53.3 221.9h0M60.3 198.9h0M45.0 198.4h0M51.8 216.1h0M62.4 198.6h0M59.2 199.4h0M58.0 223.1h0M46.6 202.0h0M44.2 196.3h0M49.8 203.4h0M46.1 205.4h0M56.4 213.0h0M61.0 210.5h0M46.2 201.0h0M45.7 199.0h0M62.5 212.3h0M46.0 199.2h0M55.2 210.9h0M52.5 218.8h0M51.8 203.1h0M63.8 222.3h0M50.6 213.3h0M59.0 200.5h0M56.9 198.9h0M55.4 220.0h0M44.4 205.9h0M52.6 205.0h0M54.5 222.0h0M55.5 196.5h0M45.0 199.5h0M65.2 223.3h0M54.2 218.7h0M59.5 196.2h0M56.7 201.1h0M48.8 200.0h0M52.3 206.1h0M50.8 211.1h0M47.3 223.9h0M53.4 218.4h0M54.4 214.6h0M62.4 209.0h0M52.4 211.5h0M58.9 206.7h0M52.1 209.7h0M62.3 219.7h0M49.6 207.5h0M55.2 208.6h0M45.4 214.8h0M61.7 197.7h0M64.6 221.3h0M50.1 210.4h0M55.0 222.8h0M52.0 203.7h0M59.8 212.8h0M48.7 223.6h0M57.4 210.8h0M63.7 205.1h0M58.4 198.1h0M54.4 223.3h0M56.7 201.8h0M56.3 216.7h0M46.9 220.3h0M62.2 218.1h0M61.4 211.6h0M45.3 197.7h0M60.0 212.2h0M51.9 206.9h0M64.1 164.0h0M45.5 172.5h0M93.6 211.3h0M95.0 175.9h0M66.9 223.5h0M77.5 166.0h0M71.6 178.7h0M78.4 162.8h0M86.0 163.9h0M46.6 198.4h0M61.3 216.7h0M78.9 195.5h0M62.6 213.7h0M50.2 207.7h0M61.4 192.7h0M68.1 164.2h0M97.7 183.0h0M78.5 196.7h0M66.2 166.6h0M47.9 210.9h0M67.2 218.4h0M61.5 188.5h0M54.7 197.1h0M49.4 164.3h0M59.1 223.0h0M72.3 216.8h0M37.4 195.9h0M40.9 208.2h0M46.9 217.0h0"/>
<path stroke="#d44ae6" stroke-width="1.20" stroke-linecap="round" d="M53.3 167.7h0M67.3 163.2h0M50.7 168.5h0M56.3 165.1h0M61.5 165.1h0M56.3 162.8h0M66.3 163.2h0M45.2 178.8h0M53.9 176.0h0M54.1 175.6h0M47.7 182.9h0M47.0 179.7h0M44.8 178.3h0M50.4 180.8h0M44.1 183.5h0M55.9 177.1h0M52.7 173.7h0M50.4 179.6h0M54.8 178.8h0M48.5 178.1h0M53.0 179.8h0M45.9 182.2h0M51.1 176.0h0M49.0 175.5h0M44.0 179.0h0M56.5 178.6h0M52.6 176.8h0M52.7 176.4h0M42.9 181.9h0M44.5 180.1h0M55.4 175.8h0M53.2 178.5h0M45.5 182.0h0M52.8 181.0h0M49.6 180.4h0M46.1 179.6h0M45.2 183.7h0M44.2 180.4h0M46.2 175.8h0M48.7 182.2h0M50.0 176.2h0M54.8 180.5h0M45.0 183.9h0M55.3 178.8h0M49.8 180.7h0M44.3 180.3h0M40.1 188.7h0M44.1 184.7h0M42.7 186.1h0M46.4 188.1h0M42.7 192.7h0M45.3 187.4h0M39.5 186.6h0M43.4 184.7h0M40.4 190.0h0M42.4 183.2h0M43.8 187.0h0M40.3 193.0h0M42.6 186.4h0M41.2 192.2h0M38.3 189.3h0M42.0 184.1h0M42.2 192.7h0M46.3 187.8h0M43.1 191.6h0M44.6 184.9h0M45.1 191.6h0M41.0 183.9h0M44.0 192.4h0M42.6 190.8h0M41.3 189.7h0M44.5 187.5h0M41.8 183.7h0M41.4 183.5h0M40.9 193.0h0M44.1 191.5h0M40.0 191.5h0M42.0 192.6h0M39.9 188.1h0M43.6 192.3h0M42.8 189.8h0M38.8 189.3h0M42.1 192.4h0M39.5 189.7h0M64.2 189.8h0M61.3 195.1h0M67.2 190.1h0M73.2 194.4h0M68.1 191.6h0M60.6 195.8h0M71.4 192.8h0M61.2 191.7h0M66.7 194.5h0M72.7 197.3h0M71.0 190.0h0M66.9 199.0h0M69.9 193.3h0M68.3 198.2h0M73.2 194.0h0M69.3 189.8h0M70.5 198.8h0M65.5 197.2h0M69.1 197.9h0M65.3 199.6h0M68.1 198.1h0M66.3 198.2h0M70.6 194.2h0M61.0 195.0h0M69.5 193.5h0M61.6 192.4h0M73.5 196.0h0M67.0 198.4h0M68.1 193.4h0M63.8 198.3h0M71.7 190.7h0M69.9 196.7h0M63.9 189.7h0M63.1 190.0h0M60.8 193.9h0M68.8 197.0h0M65.6 194.6h0M66.4 196.5h0M63.7 195.2h0M72.1 196.9h0M65.0 198.9h0M73.7 193.8h0M62.8 194.0h0M66.6 193.4h0M70.0 191.6h0M63.2 193.3h0M71.5 196.0h0M69.9 191.1h0M68.7 195.5h0M82.3 192.2h0M85.1 195.9h0M83.9 190.9h0M82.1 193.3h0M76.3 192.6h0M81.4 195.2h0M84.6 200.8h0M82.2 203.0h0M79.6 199.7h0M78.9 192.7h0M85.0 192.3h0M81.5 186.8h0M78.2 198.0h0M79.9 204.8h0M76.9 203.1h0M78.6 190.9h0M84.4 191.0h0M79.9 187.4h0M77.2 200.5h0M76.5 191.4h0M77.9 201.9h0M84.3 199.9h0M78.1 188.6h0M82.8 191.0h0M78.5 199.9h0M85.5 192.0h0M82.6 188.8h0M85.5 192.7h0M85.3 191.4h0M77.8 193.2h0M81.5 188.7h0M85.0 188.9h0M81.8 189.9h0M81.5 188.7h0M83.1 188.1h0M82.2 191.2h0M86.6 191.4h0M76.6 203.4h0M85.4 188.6h0M81.8 190.0h0M82.9 196.6h0M81.4 189.1h0M79.2 199.1h0M76.3 201.6h0M79.0 193.9h0M84.9 189.7h0M76.5 196.9h0M76.6 203.7h0M82.4 188.9h0M85.9 198.2h0M84.3 191.9h0M83.2 199.2h0M77.1 190.0h0M76.6 193.4h0M81.3 189.8h0M76.2 200.3h0M83.1 190.6h0M80.7 200.3h0M76.2 198.9h0M78.8 196.0h0M80.0 195.4h0M81.9 200.0h0M84.0 200.9h0M83.3 187.7h0M75.5 196.7h0M83.0 189.4h0M78.5 190.9h0M80.7 200.3h0M84.8 191.3h0M87.1 191.4h0M83.9 191.9h0M85.4 193.1h0M86.0 196.1h0M85.8 189.3h0M79.6 195.4h0M84.1 191.2h0M86.2 199.2h0M80.0 198.5h0M80.2 198.2h0M81.6 188.1h0M80.3 202.3h0M75.9 200.2h0M80.2 188.6h0M83.0 192.3h0M83.0 200.9h0M79.8 190.9h0M79.0 205.1h0M86.1 193.5h0M84.7 193.6h0M78.4 193.0h0M79.5 193.4h0M76.2 203.0h0M83.2 202.4h0M76.2 195.9h0M81.8 195.3h0M77.9 192.4h0M76.5 191.9h0M85.7 191.6h0M74.7 199.5h0M85.2 197.1h0M77.7 192.8h0M86.2 200.7h0M84.1 202.1h0M77.8 203.6h0M77.9 167.5h0M76.5 168.0h0M80.6 165.9h0M72.2 168.8h0M76.9 165.3h0M76.7 166.8h0M75.4 168.7h0M77.5 166.4h0M81.8 167.7h0M81.7 167.4h0M81.7 165.0h0M79.5 164.8h0M79.5 165.6h0M78.3 166.1h0M76.6 170.6h0M75.1 168.1h0M77.1 167.5h0M82.0 166.2h0M77.7 166.5h0M79.1 169.7h0M75.9 166.1h0M86.9 174.1h0M85.7 174.1h0M89.0 172.2h0M87.0 173.8h0M91.6 187.7h0M93.5 187.4h0M90.7 183.4h0M93.0 192.9h0M88.1 191.2h0M87.8 190.6h0M95.0 186.6h0M89.2 190.8h0M90.1 184.2h0M91.4 187.9h0M90.7 191.4h0M96.6 188.8h0M95.6 183.3h0M88.3 185.0h0M96.3 183.6h0M37.4 201.3h0M36.8 202.2h0M40.5 200.7h0M40.8 200.6h0M37.8 202.5h0M40.4 202.7h0M38.1 201.8h0M37.9 203.7h0M40.5 200.0h0M38.0 202.6h0M38.2 201.6h0M39.7 203.8h0M46.6 208.4h0M47.0 208.0h0M41.4 211.6h0M44.9 212.5h0M42.1 210.1h0M47.1 207.9h0M45.7 208.5h0M47.4 209.9h0M52.2 204.1h0M53.4 206.7h0M52.9 206.3h0M52.5 201.2h0M54.4 205.0h0M53.6 204.4h0M51.6 216.7h0M53.6 217.3h0M55.8 219.5h0M49.1 216.0h0M52.6 217.3h0M55.7 220.2h0M55.3 219.3h0M49.8 216.0h0M53.2 216.6h0M49.2 217.7h0M85.7 221.9h0M89.5 219.0h0M88.0 217.2h0M88.3 220.2h0M82.8 222.1h0M86.3 219.5h0M83.3 219.5h0M84.8 221.5h0M87.9 219.9h0M89.4 219.5h0M84.3 221.3h0M83.8 220.6h0M84.4 221.9h0M83.1 222.6h0M88.0 220.4h0M69.3 224.4h0M70.5 222.5h0M69.7 222.7h0M68.4 224.0h0M68.5 223.9h0M70.1 223.8h0M68.6 224.2h0M67.5 226.5h0M69.9 221.9h0M92.7 213.6h0M91.9 211.7h0M89.2 212.2h0M90.4 212.7h0M89.9 211.1h0M88.3 214.0h0M94.4 212.6h0M93.1 213.4h0M94.5 213.0h0M90.4 214.1h0M93.7 212.2h0M100.3 213.1h0M98.6 213.6h0M100.7 214.3h0M98.8 216.5h0M101.0 213.7h0M38.4 183.5h0M37.4 184.0h0M36.5 180.3h0M36.1 181.9h0M36.2 180.7h0M37.5 182.4h0M65.0 207.3h0M61.0 223.0h0M62.0 199.5h0M51.4 202.6h0M51.9 223.0h0M54.2 206.7h0M58.0 201.1h0M59.7 196.6h0M50.8 212.4h0M45.9 196.5h0M52.4 198.9h0M58.8 201.1h0M64.6 219.7h0M53.7 222.3h0M45.7 220.3h0M51.1 221.4h0M60.1 200.0h0M45.1 215.7h0M62.7 211.9h0M49.9 219.4h0M56.2 217.4h0M59.1 209.7h0M51.9 215.2h0M46.2 204.1h0M48.1 216.2h0M61.2 204.1h0M56.0 218.9h0M70.4 165.8h0M63.4 211.4h0M59.0 201.9h0M63.4 180.1h0M51.5 185.5h0M76.0 202.1h0M41.3 208.2h0M87.6 199.9h0M55.2 206.4h0M65.5 186.9h0M69.0 196.7h0M51.7 188.2h0M93.0 189.6h0M59.5 205.0h0M55.9 221.5h0M74.9 214.7h0M63.1 179.2h0M76.2 185.5h0"/>
<path stroke="#f04848" stroke-width="1.20" stroke-linecap="round" d="M59.8 164.3h0M56.1 166.6h0M54.6 177.2h0M45.2 176.8h0M54.3 176.6h0M51.3 175.3h0M56.8 177.5h0M42.4 179.2h0M47.9 176.7h0M45.3 181.4h0M52.6 174.7h0M41.4 181.5h0M47.9 182.7h0M46.0 182.9h0M52.8 179.7h0M38.4 187.7h0M38.5 189.1h0M39.3 185.3h0M40.3 184.7h0M41.1 188.6h0M40.8 184.7h0M45.6 187.2h0M42.9 188.6h0M40.3 187.1h0M41.4 182.8h0M41.9 185.1h0M42.1 182.9h0M38.2 190.6h0M38.1 186.4h0M43.2 186.8h0M42.7 186.5h0M41.5 184.4h0M64.6 198.3h0M62.8 195.9h0M64.9 190.8h0M72.7 197.2h0M71.6 197.6h0M71.1 196.5h0M63.0 192.9h0M69.6 189.5h0M62.6 192.0h0M65.1 191.5h0M65.3 199.2h0M67.3 196.4h0M64.6 190.5h0M62.6 192.4h0M70.8 193.3h0M70.6 194.5h0M72.6 197.2h0M71.1 191.3h0M71.1 194.2h0M72.7 196.8h0M65.4 197.9h0M64.5 195.9h0M63.1 196.4h0M71.0 198.8h0M85.5 190.0h0M75.4 198.7h0M81.5 204.4h0M77.9 200.7h0M85.0 202.4h0M80.9 198.9h0M77.1 194.1h0M82.6 201.0h0M86.5 199.7h0M82.7 198.2h0M79.4 204.8h0M83.6 195.4h0M82.8 198.0h0M87.6 194.9h0M79.6 190.1h0M79.8 200.4h0M77.6 195.4h0M77.8 190.2h0M79.3 205.2h0M78.1 194.6h0M78.6 203.1h0M86.0 195.3h0M84.5 202.5h0M79.2 196.1h0M74.7 199.6h0M80.1 199.2h0M74.8 194.4h0M87.0 191.9h0M78.7 198.7h0M82.5 193.5h0M83.3 202.9h0M76.8 201.5h0M78.3 191.0h0M83.8 194.3h0M82.7 202.2h0M78.9 187.8h0M83.3 188.8h0M82.2 199.9h0M85.3 188.2h0M76.1 195.3h0M78.5 199.7h0M80.0 199.9h0M74.6 199.7h0M76.0 191.0h0M83.6 187.0h0M81.5 203.6h0M83.5 199.9h0M87.4 193.5h0M83.2 188.8h0M78.7 202.9h0M82.4 194.9h0M81.4 188.2h0M80.5 193.6h0M79.0 192.4h0M76.8 196.2h0M79.7 204.1h0M76.0 166.6h0M80.2 169.5h0M74.9 166.7h0M75.1 169.2h0M76.9 166.9h0M75.3 167.3h0M78.9 165.9h0M73.4 169.1h0M83.2 165.9h0M79.6 167.0h0M77.4 167.0h0M73.7 170.5h0M78.1 166.5h0M74.7 170.2h0M81.4 167.9h0M90.1 191.3h0M91.4 186.6h0M91.9 186.3h0M38.7 200.1h0M41.3 201.1h0M39.0 203.6h0M40.3 201.2h0M40.6 201.8h0M40.4 200.7h0M39.0 203.4h0M40.2 201.5h0M38.9 203.3h0M38.6 203.5h0M48.8 216.6h0M51.8 216.9h0M54.0 218.5h0M50.3 217.5h0M50.3 216.7h0M50.7 218.4h0M87.1 221.5h0M84.0 220.9h0M82.8 221.2h0M85.3 219.4h0M86.0 220.6h0M85.0 221.0h0M84.3 220.1h0M87.2 221.4h0M89.4 218.2h0M87.2 220.9h0M69.7 224.5h0M71.3 224.5h0M72.4 222.2h0M70.1 225.1h0M69.2 222.6h0M67.7 227.1h0M68.0 224.3h0M68.0 225.5h0M69.7 225.5h0M70.7 223.8h0M70.9 225.4h0M68.5 226.6h0M100.7 213.1h0M101.2 211.7h0M100.4 213.5h0M99.9 212.9h0M99.6 212.9h0M98.3 216.2h0M99.3 215.8h0M99.8 214.5h0M98.2 215.8h0M98.2 215.7h0M36.6 181.9h0M39.1 181.3h0M39.0 182.4h0M35.9 180.8h0M37.9 179.8h0M44.1 199.8h0M62.1 209.1h0M44.5 220.0h0M45.9 196.9h0M56.0 200.6h0M62.5 224.0h0M64.1 221.2h0M45.0 214.4h0M51.2 214.5h0M47.5 209.6h0M65.4 203.5h0M55.5 201.1h0M65.9 221.4h0M50.2 218.5h0M47.5 223.6h0M45.5 222.6h0M61.3 211.6h0M59.8 211.3h0M45.5 209.5h0M71.7 218.1h0M82.3 182.2h0M69.4 207.9h0M95.7 174.6h0M54.9 191.0h0M54.3 189.1h0M93.0 180.0h0M49.6 204.0h0M50.1 169.4h0M97.1 186.6h0M38.4 207.1h0M78.8 211.8h0M39.5 205.4h0M78.5 201.7h0M60.0 194.0h0M80.1 217.1h0M60.2 201.5h0M71.1 219.8h0M56.1 210.6h0M47.8 212.9h0M84.3 170.2h0M83.0 203.1h0"/>
<path stroke="#2aa02a" stroke-width="1.20" stroke-linecap="round" d="M52.3 180.4h0M54.7 175.9h0M51.5 182.1h0M43.1 182.0h0M45.6 180.6h0M53.0 177.6h0M50.2 182.7h0M50.9 177.2h0M42.9 184.2h0M51.0 175.9h0M45.5 180.2h0M56.9 175.8h0M44.1 181.3h0M43.6 177.4h0M54.0 180.4h0M52.7 179.2h0M51.9 177.5h0M50.2 180.0h0M51.9 175.2h0M46.0 182.7h0M49.7 174.5h0M45.9 182.9h0M48.3 174.5h0M48.3 179.0h0M47.3 177.5h0M47.0 175.2h0M48.7 178.7h0M42.5 180.5h0M54.4 179.9h0M45.1 179.6h0M46.5 179.5h0M50.6 180.4h0M50.5 176.2h0M48.0 177.9h0M45.7 182.1h0M49.5 177.7h0M56.9 174.8h0M44.9 176.9h0M48.9 177.8h0M53.8 173.9h0M43.4 177.7h0M48.5 179.7h0M50.6 176.3h0M49.7 179.5h0M44.9 181.9h0M51.6 175.9h0M47.1 183.0h0M45.4 183.2h0M56.4 175.5h0M55.4 174.3h0M42.0 183.9h0M46.3 178.6h0M48.3 183.8h0M48.5 183.4h0M48.3 183.3h0M45.2 178.6h0M56.0 174.6h0M45.5 178.8h0M45.0 183.4h0M43.6 177.4h0M43.5 183.8h0M39.7 184.2h0M42.5 189.5h0M39.3 183.9h0M45.8 186.8h0M43.2 186.5h0M42.5 188.9h0M68.3 194.1h0M61.8 195.4h0M65.2 196.3h0M66.7 190.6h0M66.9 194.9h0M66.5 190.8h0M67.1 193.0h0M65.7 191.2h0M63.4 198.6h0M68.0 196.6h0M70.5 190.7h0M60.4 193.3h0M64.1 198.8h0M71.0 196.8h0M66.5 199.1h0M73.2 193.5h0M69.5 190.7h0M62.0 191.2h0M69.4 197.2h0M71.2 195.5h0M67.4 199.4h0M63.5 198.2h0M62.8 194.0h0M71.6 193.5h0M69.1 198.2h0M60.1 194.4h0M61.5 197.9h0M68.5 194.0h0M68.7 192.2h0M63.8 196.7h0M69.3 197.9h0M68.5 198.8h0M67.0 199.5h0M71.6 190.8h0M63.5 192.9h0M67.7 198.5h0M66.2 199.5h0M69.3 196.0h0M69.6 195.1h0M68.2 195.3h0M63.9 197.4h0M69.7 192.1h0M64.9 190.5h0M70.3 190.9h0M60.7 192.3h0M62.8 192.5h0M61.5 191.9h0M65.4 199.6h0M70.9 192.5h0M69.4 197.3h0M65.1 199.1h0M64.0 195.9h0M71.6 195.2h0M73.2 191.9h0M70.4 192.8h0M71.3 192.8h0M72.2 194.8h0M69.4 198.9h0M64.7 189.7h0M69.1 198.7h0M71.5 192.0h0M65.0 196.7h0M71.7 192.6h0M68.8 190.5h0M63.1 195.9h0M64.6 195.3h0M71.3 194.9h0M67.1 193.7h0M61.0 194.3h0M66.4 192.8h0M65.6 192.1h0M70.3 194.7h0M62.8 196.7h0M70.1 196.9h0M63.7 192.9h0M64.3 189.5h0M66.4 190.1h0M62.2 197.6h0M67.9 194.6h0M63.0 195.4h0M71.0 194.1h0M72.4 194.9h0M66.8 196.0h0M63.4 199.0h0M61.5 195.5h0M68.9 196.8h0M60.9 197.0h0M69.7 194.2h0M72.7 195.6h0M68.9 199.1h0M62.3 194.6h0M67.8 198.0h0M82.8 203.1h0M81.9 199.0h0M83.0 202.1h0M86.9 195.3h0M86.1 191.6h0M82.9 195.8h0M83.9 197.7h0M86.0 194.3h0M81.0 197.6h0M77.1 200.0h0M78.9 201.8h0M85.6 193.8h0M83.7 201.9h0M86.2 196.3h0M84.6 193.0h0M85.8 190.7h0M80.8 201.0h0M74.9 195.0h0M78.2 211.8h0M73.4 207.5h0M75.2 207.8h0M72.9 208.5h0M72.5 211.9h0M78.4 210.5h0M72.6 169.1h0M74.5 168.6h0M77.8 170.8h0M75.8 169.1h0M73.2 168.1h0M77.6 165.8h0M77.1 168.9h0M80.4 167.9h0M78.1 168.0h0M76.4 167.9h0M79.8 165.0h0M76.9 169.5h0M83.7 166.3h0M75.4 170.2h0M82.0 165.5h0M82.0 169.1h0M80.1 165.7h0M80.9 169.1h0M39.9 200.8h0M36.7 203.2h0M40.1 200.4h0M41.7 211.0h0M43.7 210.1h0M46.9 210.1h0M44.9 210.2h0M45.4 208.8h0M46.6 208.6h0M45.1 212.1h0M44.7 212.5h0M43.5 211.9h0M44.9 211.7h0M43.9 208.7h0M47.7 209.4h0M45.9 209.7h0M91.8 213.2h0M91.0 211.0h0M91.8 214.4h0M92.7 213.9h0M93.0 214.3h0M89.1 214.6h0M87.9 212.7h0M91.5 211.1h0M89.7 211.3h0M79.6 214.3h0M84.9 213.8h0M83.1 213.5h0M84.7 215.2h0M84.9 214.9h0M81.1 210.6h0M82.2 212.0h0M36.0 180.6h0M35.8 181.6h0M38.4 182.0h0M37.4 180.2h0M91.7 207.9h0M70.7 179.1h0M90.2 191.5h0M68.1 218.9h0M45.0 199.5h0M67.6 195.6h0M50.6 169.1h0M37.7 184.5h0M48.1 172.5h0M43.2 207.1h0M49.4 201.5h0M95.7 182.0h0M43.3 195.4h0M47.9 172.6h0M85.7 194.7h0"/>
<path stroke="#1a1af0" stroke-width="1.20" stroke-linecap="round" d="M50.3 181.7h0M39.5 186.9h0M42.1 183.1h0M44.6 183.8h0M63.4 195.6h0M67.0 193.0h0M67.6 193.6h0M63.2 198.5h0M70.6 190.1h0M74.7 198.0h0M84.1 189.7h0M80.5 189.4h0M82.7 198.0h0M76.6 200.9h0M76.6 200.5h0M77.6 202.1h0M76.3 203.3h0M83.4 194.1h0M80.8 194.1h0M76.6 200.0h0M76.0 197.6h0M72.5 169.1h0M80.2 164.9h0M77.7 166.1h0M78.5 166.8h0M68.9 226.8h0M69.6 223.1h0M69.7 224.2h0M68.4 224.6h0"/>
<circle cx="109.3" cy="163.30" r="2.3" fill="#1a1af0"/>
<text x="113.2" y="165.90" font-size="7.5" text-anchor="start" fill="#111" font-weight="bold" stroke="#111" stroke-width="0.3">HET-07</text>
<circle cx="109.3" cy="172.55" r="2.3" fill="#d44ae6"/>
<text x="113.2" y="175.15" font-size="7.5" text-anchor="start" fill="#111" font-weight="bold" stroke="#111" stroke-width="0.3">HET-14</text>
<circle cx="109.3" cy="181.80" r="2.3" fill="#c98c16"/>
<text x="113.2" y="184.40" font-size="7.5" text-anchor="start" fill="#111" font-weight="bold" stroke="#111" stroke-width="0.3">HET-21</text>
<circle cx="109.3" cy="191.05" r="2.3" fill="#f04848"/>
<text x="113.2" y="193.65" font-size="7.5" text-anchor="start" fill="#111" font-weight="bold" stroke="#111" stroke-width="0.3">HOMO-07</text>
<circle cx="109.3" cy="200.30" r="2.3" fill="#2aa02a"/>
<text x="113.2" y="202.90" font-size="7.5" text-anchor="start" fill="#111" font-weight="bold" stroke="#111" stroke-width="0.3">HOMO-14</text>
<circle cx="109.3" cy="209.55" r="2.3" fill="#fb9420"/>
<text x="113.2" y="212.15" font-size="7.5" text-anchor="start" fill="#111" font-weight="bold" stroke="#111" stroke-width="0.3">HOMO-21</text>
<text x="165.6" y="139.5" font-size="7" text-anchor="start" fill="#111" font-weight="bold" stroke="#111" stroke-width="0.3">c</text>
<text x="209.5" y="146.8" font-size="7.3" text-anchor="middle" fill="#111" font-weight="bold" stroke="#111" stroke-width="0.3">HET-07</text>
<path stroke="#24B700" stroke-width="1.10" stroke-linecap="round" d="M200.8 154.9h0M200.8 154.7h0M199.1 155.6h0M198.9 153.6h0M201.2 152.1h0M204.2 153.5h0M200.2 152.7h0M200.7 154.4h0M201.4 155.0h0M201.9 153.8h0M203.5 154.1h0M198.9 154.6h0M202.4 153.2h0M201.3 156.6h0M203.4 152.9h0M199.4 153.2h0M202.2 152.6h0M201.0 156.9h0M198.1 154.9h0M199.2 155.9h0M199.6 156.5h0M201.0 152.5h0M198.8 154.6h0M202.4 152.7h0M199.0 155.1h0M201.0 152.5h0M198.7 154.6h0M199.5 154.3h0M198.7 156.2h0M201.3 153.7h0M203.7 152.8h0M202.5 152.0h0M198.8 154.2h0M201.5 153.8h0M199.9 156.2h0M203.2 153.7h0M199.5 156.5h0M199.5 155.7h0M201.2 153.3h0M199.5 155.1h0M198.7 155.1h0M198.5 155.3h0M202.3 154.2h0M203.9 153.8h0M198.4 156.7h0M207.2 153.8h0M204.0 153.2h0M207.7 155.0h0M205.2 154.0h0M207.8 154.2h0M207.6 154.6h0M205.4 153.8h0M203.9 153.4h0M207.6 155.0h0M207.0 154.4h0M206.5 153.9h0M206.9 154.1h0M208.2 154.0h0M204.9 153.9h0M206.8 153.9h0M221.4 180.8h0M207.1 183.0h0M223.1 156.1h0M209.0 153.3h0M199.3 162.1h0M203.7 173.9h0M189.2 166.7h0M219.7 186.5h0"/>
<path stroke="#00BE70" stroke-width="1.10" stroke-linecap="round" d="M212.5 155.4h0M212.6 156.4h0M216.4 156.8h0M214.2 153.3h0M214.7 158.4h0M212.4 153.8h0M212.7 153.9h0M214.6 154.8h0M216.7 157.5h0M215.0 155.1h0M215.3 153.5h0M213.7 152.9h0M214.9 155.9h0M213.8 157.4h0M216.0 155.2h0M213.2 156.2h0M213.3 153.9h0M213.7 156.0h0M212.5 156.1h0M216.4 155.1h0M213.4 157.6h0M213.1 157.3h0M216.5 157.4h0M211.7 155.0h0M214.1 157.0h0M216.4 157.8h0M211.7 156.3h0M214.5 153.2h0M213.4 156.8h0M212.8 153.4h0M213.4 156.4h0M213.6 158.1h0M212.4 154.3h0M214.8 157.1h0M215.6 157.3h0M212.3 156.3h0M211.3 155.5h0M213.9 155.9h0M214.2 155.7h0M214.4 155.2h0M214.4 155.7h0M211.5 153.7h0M212.8 154.4h0M212.6 156.4h0M214.5 154.7h0M210.5 155.2h0M208.8 153.8h0M209.3 154.0h0M208.4 154.8h0M210.0 153.8h0M210.1 154.2h0M209.7 154.4h0M208.8 154.6h0M210.1 155.0h0M211.4 153.8h0M222.6 171.5h0M191.9 172.3h0M216.6 160.3h0M200.6 158.7h0M187.9 161.1h0"/>
<path stroke="#00ACFC" stroke-width="1.10" stroke-linecap="round" d="M219.2 157.3h0M219.0 158.2h0M219.6 158.4h0M219.5 158.1h0M218.9 158.1h0M219.8 158.3h0M220.4 157.0h0M220.0 157.7h0M218.7 156.9h0M219.7 158.3h0M219.7 157.7h0M220.1 156.5h0M196.1 177.2h0M198.8 165.0h0M216.8 169.8h0M224.5 184.4h0M219.6 153.7h0"/>
<path stroke="#8CAB00" stroke-width="1.10" stroke-linecap="round" d="M225.8 163.7h0M225.3 164.7h0M220.8 168.3h0M227.0 164.5h0M226.6 164.4h0M224.3 165.7h0M225.6 164.0h0M225.8 165.3h0M223.3 167.6h0M225.4 165.6h0M223.0 167.3h0M222.2 167.2h0M222.5 167.4h0M221.9 168.7h0M222.4 167.6h0M223.6 165.9h0M224.9 165.8h0M226.7 162.6h0M225.1 164.4h0M219.5 168.5h0M220.0 168.3h0M223.9 166.0h0M224.7 166.8h0M225.4 163.7h0M225.0 163.9h0M220.7 168.3h0M223.6 166.5h0M227.0 163.5h0M224.1 165.5h0M224.8 165.5h0M225.0 164.6h0M220.9 167.0h0M225.4 164.6h0M224.9 164.0h0M226.5 162.9h0M222.9 166.7h0M221.5 167.9h0M225.2 164.9h0M226.2 164.6h0M224.4 165.5h0M221.8 165.4h0M224.2 166.0h0M223.1 165.6h0M226.2 165.4h0M222.9 163.8h0M226.2 165.8h0M223.1 166.0h0M225.1 165.8h0M222.6 164.3h0M223.1 165.0h0M222.1 165.5h0M222.0 166.0h0M225.3 164.8h0M222.8 164.7h0M222.2 166.5h0M226.1 164.2h0M223.0 166.5h0M223.5 165.5h0M227.0 165.0h0M224.9 165.2h0M188.2 169.0h0"/>
<path stroke="#FF65AC" stroke-width="1.10" stroke-linecap="round" d="M228.2 176.1h0M228.0 175.8h0M228.2 176.0h0M228.2 174.2h0M228.9 174.9h0M228.8 175.5h0"/>
<path stroke="#EC8A06" stroke-width="1.10" stroke-linecap="round" d="M192.6 172.0h0M191.9 168.4h0M195.4 167.0h0M192.2 168.1h0M192.3 166.6h0M194.8 169.7h0M193.4 166.4h0M195.3 167.3h0M193.1 169.7h0M195.8 170.7h0M190.4 169.7h0M194.4 172.9h0M193.8 166.1h0M193.9 167.0h0M194.6 169.5h0M192.4 167.8h0M194.0 169.2h0M194.3 171.2h0M192.5 172.2h0M195.1 172.1h0M193.8 169.5h0M194.8 168.6h0M190.9 171.5h0M192.3 166.3h0M192.5 167.4h0M190.4 167.6h0M193.9 171.8h0M190.4 168.9h0M191.3 166.9h0M193.6 166.8h0M191.7 166.4h0M191.9 169.7h0M192.9 167.1h0M195.5 167.9h0M195.7 169.1h0M194.8 168.3h0M193.1 167.3h0M193.9 166.9h0M192.8 168.1h0M194.3 170.3h0M190.9 167.7h0M195.2 169.4h0M193.2 166.2h0M195.1 172.2h0M191.6 171.2h0M192.9 169.0h0M193.5 172.5h0M194.7 168.6h0M191.3 169.7h0M190.9 172.3h0M191.9 165.5h0M192.8 171.2h0M194.1 165.8h0M192.8 173.5h0M192.3 171.2h0M193.4 168.9h0M191.2 170.3h0M192.3 169.7h0M192.0 168.3h0M191.5 166.6h0M192.0 173.3h0M194.3 167.8h0M190.6 170.9h0M191.1 168.4h0M193.6 165.6h0M192.4 165.5h0M192.6 169.4h0M194.6 172.2h0M192.0 168.5h0M192.4 171.1h0M194.7 170.7h0M192.1 170.7h0M192.3 169.4h0M195.0 170.3h0M194.6 172.9h0M192.1 169.3h0M193.1 171.2h0M193.8 166.6h0M191.5 170.0h0M192.0 173.2h0M198.3 160.7h0M195.3 163.6h0M199.7 161.2h0M203.9 160.7h0M199.8 160.1h0M197.0 163.0h0M200.1 161.7h0M199.2 160.2h0M195.8 163.6h0M200.6 160.3h0M201.5 160.1h0M202.0 159.1h0M198.4 160.7h0M199.5 160.3h0M196.5 162.4h0M200.2 159.8h0M195.4 163.7h0M198.6 161.2h0M201.3 161.1h0M199.2 162.4h0M202.8 159.7h0M200.0 161.9h0M199.2 161.1h0M196.7 161.1h0M203.6 160.2h0M201.6 159.9h0M194.0 162.2h0M199.0 161.1h0M201.2 160.6h0M196.8 161.9h0M194.6 163.9h0M201.1 161.4h0M202.1 159.5h0M200.0 161.9h0M201.9 159.4h0M203.6 158.5h0M196.7 161.7h0M203.6 160.4h0M197.5 162.1h0M194.1 164.0h0M195.6 180.3h0M186.6 170.9h0M212.7 164.1h0M198.7 163.2h0"/>
<path stroke="#F8766D" stroke-width="1.10" stroke-linecap="round" d="M210.5 178.6h0M213.4 171.2h0M205.7 175.2h0M213.6 170.8h0M216.2 172.3h0M217.3 174.2h0M217.9 179.4h0M213.8 180.2h0M208.2 174.9h0M208.2 169.1h0M218.1 175.4h0M218.7 178.3h0M207.1 177.0h0M208.0 173.9h0M221.1 177.6h0M215.1 170.0h0M209.9 170.1h0M206.4 168.8h0M209.2 170.1h0M210.7 176.5h0M219.9 177.7h0M212.8 176.2h0M213.9 178.4h0M211.0 177.8h0M210.8 179.0h0M218.9 173.2h0M208.2 171.6h0M216.1 179.5h0M213.6 171.4h0M214.6 169.7h0M215.9 176.7h0M208.6 168.3h0M212.7 173.6h0M207.0 175.4h0M219.2 178.3h0M218.7 174.0h0M211.4 168.2h0M214.5 175.5h0M215.9 170.9h0M208.0 169.2h0M214.2 179.1h0M205.4 169.9h0M204.7 170.5h0M210.6 176.4h0M206.2 176.1h0M211.6 171.4h0M217.8 173.5h0M214.6 172.1h0M220.6 176.4h0M220.3 179.3h0M210.1 175.0h0M208.9 175.0h0M212.3 178.9h0M209.1 176.9h0M218.7 173.7h0M206.8 172.3h0M208.7 169.1h0M209.4 172.2h0M213.9 179.4h0M212.5 169.1h0M211.2 171.0h0M208.1 169.4h0M218.8 179.8h0M211.7 169.7h0M208.8 175.8h0M210.0 171.7h0M219.9 175.6h0M214.9 170.0h0M206.0 172.4h0M209.6 172.0h0M205.3 173.4h0M215.6 177.8h0M208.4 169.7h0M211.4 172.4h0M208.7 170.0h0M203.7 171.8h0M208.2 174.4h0M206.7 173.9h0M207.3 173.5h0M211.8 172.6h0M211.3 171.7h0M210.3 169.1h0M213.6 170.8h0M209.9 168.2h0M212.8 170.2h0M215.7 176.4h0M204.8 169.4h0M205.4 169.8h0M212.0 175.1h0M210.6 170.4h0M208.0 177.0h0M207.6 174.1h0M211.4 175.2h0M209.8 174.0h0M216.6 177.7h0M211.4 172.7h0M208.6 177.4h0M206.2 171.4h0M207.9 177.9h0M208.5 169.1h0M213.7 173.6h0M211.7 175.7h0M214.4 175.9h0M221.3 176.4h0M220.0 175.5h0M215.0 177.7h0M219.7 173.5h0M212.0 174.9h0M207.7 175.1h0M209.1 169.7h0M206.9 171.8h0M204.7 173.1h0M210.4 176.6h0M205.0 175.2h0M211.3 177.3h0M217.4 173.6h0M210.3 171.3h0M216.9 180.3h0M210.2 175.7h0M216.8 180.0h0M209.6 175.0h0M211.9 179.4h0M205.3 173.2h0M215.2 174.3h0M217.9 172.2h0M207.7 174.9h0M206.7 169.6h0M213.3 174.5h0M207.8 175.8h0M209.3 171.5h0M209.7 175.3h0M219.3 173.2h0M208.3 172.2h0M215.3 171.3h0M209.9 169.8h0M211.3 170.8h0M211.2 168.6h0M209.9 179.1h0M218.9 177.1h0M218.3 175.7h0M212.6 176.3h0M206.6 176.9h0M221.3 177.7h0M217.9 172.9h0M205.8 169.5h0M209.2 172.9h0M204.0 170.6h0M216.4 179.0h0M216.2 180.0h0M220.7 176.9h0M206.3 176.4h0M215.1 172.2h0M209.5 174.8h0M209.5 174.6h0M206.8 176.6h0M206.3 169.4h0M206.4 174.4h0M217.1 172.5h0M207.0 169.9h0M204.0 170.4h0M209.3 173.2h0M205.6 175.7h0M218.7 172.4h0M209.1 178.4h0M210.0 175.6h0M207.8 174.2h0M210.9 169.7h0M215.4 174.2h0M207.0 173.1h0M218.0 178.4h0M215.5 171.0h0M216.0 175.4h0M211.6 172.5h0M213.9 175.8h0M203.9 171.8h0M213.7 176.0h0M206.7 171.2h0M217.5 174.3h0M221.4 177.3h0M213.6 171.6h0M213.0 179.9h0M217.6 176.8h0M217.3 173.5h0M211.5 174.3h0M208.3 169.7h0M204.9 171.4h0M213.5 171.7h0M217.4 179.9h0M207.1 170.2h0M205.2 169.0h0M207.5 170.6h0M212.6 179.2h0M213.0 179.1h0M206.5 173.5h0M208.7 174.1h0M213.4 177.1h0M205.2 173.2h0M219.6 178.9h0M214.7 178.2h0M209.7 171.9h0M215.1 174.6h0M211.1 173.1h0M220.8 176.3h0M207.6 173.0h0M219.9 175.2h0M215.8 175.3h0M209.4 175.8h0M213.6 169.5h0M209.0 172.0h0M208.0 174.6h0M208.5 171.4h0M220.5 175.0h0M208.3 176.2h0M213.8 175.5h0M210.7 172.0h0M216.1 174.1h0M214.9 175.1h0M212.7 172.2h0M212.1 179.8h0M217.5 178.4h0M212.3 173.0h0M208.1 170.7h0M209.6 175.9h0M206.1 173.1h0M217.8 173.8h0M215.2 178.9h0M214.2 169.2h0M205.0 169.0h0M214.9 170.7h0M209.0 172.8h0M215.4 171.2h0M213.7 172.3h0M208.5 171.4h0M207.9 171.6h0M210.2 177.5h0M220.1 173.7h0M213.4 173.6h0M213.3 168.7h0M216.9 179.2h0M206.4 171.9h0M206.7 169.2h0M213.3 178.9h0M213.0 169.4h0M209.6 172.8h0M213.7 174.9h0M211.6 171.5h0M209.0 171.0h0M212.8 172.7h0M213.7 169.4h0M204.8 171.1h0M212.1 170.7h0M211.2 171.4h0M206.7 174.6h0M204.5 169.4h0M221.1 176.7h0M211.2 171.3h0M214.9 173.2h0M211.6 177.0h0M206.6 168.6h0M217.9 175.9h0M211.8 171.4h0M219.0 175.2h0M216.7 179.7h0M204.1 171.9h0M219.2 179.1h0M217.0 175.4h0M210.3 176.3h0M211.9 173.3h0M208.3 175.2h0M215.1 176.1h0M206.8 169.3h0M211.6 179.0h0M210.9 174.0h0M214.2 169.4h0M209.6 175.1h0M211.5 176.1h0M219.1 172.6h0M206.4 172.5h0M211.4 169.7h0M214.0 175.2h0M212.2 178.3h0M214.0 174.8h0M208.6 174.9h0M207.3 174.7h0M210.3 168.0h0M209.4 175.5h0M214.2 175.8h0M219.8 177.1h0M206.7 174.7h0M207.6 176.2h0M215.6 176.6h0M211.2 169.5h0M215.6 179.5h0M218.7 173.8h0M212.6 175.7h0M216.7 177.2h0M218.9 179.6h0M207.2 176.2h0M209.6 169.9h0M214.3 172.1h0M210.0 168.6h0M209.6 170.3h0M210.9 178.1h0M214.2 175.6h0M212.4 176.2h0M218.4 174.1h0M220.7 176.4h0M208.1 171.7h0M214.4 180.6h0M214.3 173.3h0M219.4 179.4h0M215.4 171.0h0M207.5 176.5h0M217.4 171.3h0M211.5 179.7h0M217.3 180.0h0M205.1 171.2h0M213.6 173.1h0M206.3 173.9h0M214.2 170.0h0M211.3 179.5h0M207.1 169.4h0M213.9 180.3h0M204.3 170.3h0M215.2 176.9h0M210.7 179.0h0M215.7 176.0h0M215.5 179.4h0M211.7 171.9h0M208.0 173.2h0M219.5 180.3h0M218.9 181.6h0M218.4 177.8h0M222.2 178.3h0M221.4 177.9h0M219.0 181.6h0M218.9 178.1h0M221.9 180.3h0M220.7 176.8h0M219.0 177.6h0M219.6 181.8h0M219.8 177.1h0M222.2 178.3h0M219.8 178.0h0M221.9 179.2h0M217.6 179.3h0M218.4 177.5h0M219.6 181.9h0M221.8 182.0h0M218.3 180.4h0M220.2 178.5h0M219.1 181.9h0M218.6 178.4h0M219.3 177.4h0M220.7 179.5h0M222.1 179.5h0M218.0 178.2h0M223.0 179.3h0M219.5 179.7h0M220.3 179.9h0M220.3 177.4h0M222.1 178.7h0M218.5 177.3h0M218.8 181.1h0M221.4 179.1h0M221.2 178.5h0M221.2 178.2h0M222.8 179.8h0M220.7 179.1h0M223.0 177.7h0M205.5 171.3h0M202.2 169.5h0M189.0 176.2h0M195.9 183.5h0M209.3 190.8h0M213.2 187.6h0M213.3 156.6h0"/>
<path stroke="#00C1AB" stroke-width="1.10" stroke-linecap="round" d="M207.0 168.7h0M207.6 167.5h0M207.5 168.8h0M211.5 167.2h0M210.0 167.7h0M209.2 169.6h0M208.9 167.6h0M209.8 168.1h0M209.0 168.2h0M208.4 167.1h0M207.6 169.5h0M207.8 169.7h0M208.6 168.5h0M208.9 168.3h0M211.0 168.0h0M207.1 167.8h0M211.6 168.4h0M210.4 169.0h0M207.3 169.6h0M207.7 169.8h0M209.0 167.8h0M209.9 169.4h0M209.6 166.9h0M211.1 167.4h0M210.3 168.9h0M209.5 167.1h0M210.7 168.9h0M209.6 169.5h0M208.9 168.0h0M210.6 167.2h0M210.7 168.6h0M207.8 167.8h0M210.0 168.7h0M208.2 169.7h0M208.0 169.9h0M201.8 180.8h0M204.1 182.3h0M205.4 178.7h0M205.3 177.4h0M199.4 180.0h0M202.6 181.8h0M206.8 181.5h0M200.6 181.0h0M205.9 179.8h0M201.4 184.1h0M200.5 181.1h0M201.9 179.1h0M204.1 180.2h0M201.1 179.4h0M200.3 182.1h0M200.7 181.0h0M204.6 183.5h0M201.6 179.4h0M206.1 183.1h0M200.7 180.3h0M205.9 177.8h0M204.4 185.4h0M204.2 184.8h0M206.6 182.7h0M199.9 179.1h0M198.6 179.8h0M198.3 181.7h0M199.7 179.7h0M198.8 179.4h0M200.1 178.6h0M198.4 180.2h0M199.2 179.6h0M198.8 181.3h0M200.2 178.9h0M200.0 178.9h0M199.2 179.0h0M199.8 181.0h0M197.6 180.1h0M200.2 180.5h0M199.0 178.8h0M197.8 180.4h0M199.9 181.6h0M198.0 181.0h0M201.0 180.5h0M201.0 181.0h0M198.6 181.4h0M199.4 178.3h0M198.6 180.7h0M199.5 178.5h0M229.1 173.3h0M187.3 178.8h0M203.6 154.4h0M200.6 171.0h0M189.9 176.7h0M200.7 155.5h0"/>
<path stroke="#BE9C00" stroke-width="1.10" stroke-linecap="round" d="M214.0 179.9h0M214.9 178.7h0M215.2 180.9h0M213.5 179.5h0M213.4 180.1h0M212.3 180.3h0M217.7 181.7h0M214.4 179.7h0M214.6 181.9h0M215.3 181.7h0M217.4 179.8h0M218.0 181.1h0M212.9 181.3h0M216.3 182.1h0M216.6 181.7h0M214.7 180.7h0M214.8 183.3h0M213.6 182.0h0M212.8 180.6h0M216.5 180.5h0M216.1 181.6h0M216.3 179.1h0M214.8 178.6h0M214.3 180.8h0M214.9 181.4h0M213.8 179.6h0M215.1 180.6h0M217.3 179.8h0M216.2 180.7h0M214.6 180.8h0M215.7 180.6h0M216.6 180.8h0M217.3 180.8h0M216.7 180.5h0M216.4 180.0h0M217.7 181.8h0M214.6 181.8h0M216.6 181.2h0M214.1 182.1h0M214.5 182.3h0M215.7 179.6h0M215.5 182.6h0M214.3 181.5h0M216.6 182.2h0M213.5 182.0h0M218.7 184.8h0M219.6 182.8h0M218.8 183.4h0M217.2 183.7h0M219.2 182.7h0M218.2 182.2h0M218.3 183.4h0M218.8 184.7h0M219.5 182.0h0M219.3 183.9h0M218.0 182.6h0M218.6 181.9h0M202.2 163.7h0M184.9 172.7h0M208.7 183.0h0"/>
<path stroke="#00BBDA" stroke-width="1.10" stroke-linecap="round" d="M204.9 178.1h0M201.2 178.4h0M205.7 179.2h0M206.4 184.5h0M205.3 183.1h0M206.9 178.8h0M201.0 178.8h0M202.1 180.8h0M205.1 178.3h0M206.9 178.8h0M201.1 183.3h0M203.9 182.0h0M204.4 184.6h0M205.3 178.4h0M205.0 183.1h0M203.2 179.4h0M202.2 180.0h0M201.6 179.1h0M201.8 182.1h0M203.2 181.4h0M207.0 183.6h0M204.9 183.0h0M202.7 180.3h0M203.2 181.6h0M206.1 184.8h0M204.6 179.4h0M206.8 184.3h0M205.2 183.5h0M203.9 181.4h0M202.5 182.6h0M204.1 185.3h0M205.9 182.1h0M205.1 178.8h0M203.9 179.8h0M204.7 177.0h0M204.9 178.7h0M204.0 177.7h0M200.3 178.6h0M200.7 182.5h0M201.3 183.2h0M203.5 185.5h0M201.5 185.1h0M205.0 182.5h0M205.5 181.2h0M203.4 180.3h0M207.8 180.1h0M200.6 181.3h0M205.9 181.9h0M200.7 183.3h0M206.4 178.1h0M206.9 180.2h0M204.4 185.0h0M200.0 179.4h0M200.0 178.6h0M200.5 178.3h0M202.4 178.1h0M203.6 180.3h0M199.4 182.3h0M207.0 182.1h0M203.9 185.3h0M202.5 183.2h0M205.4 185.0h0M205.7 184.6h0M200.3 180.4h0M200.2 183.8h0M204.7 179.3h0M206.7 186.3h0M208.4 185.5h0M205.9 186.4h0M208.7 186.5h0M206.7 184.7h0M204.3 183.6h0M208.1 184.6h0M205.9 185.4h0M206.6 184.4h0M209.1 185.5h0M208.5 186.4h0M208.0 184.8h0M207.9 184.1h0M206.4 183.6h0M207.3 185.7h0M208.6 185.2h0M207.1 185.5h0M208.1 184.3h0M208.6 187.1h0M206.9 187.4h0M204.1 183.9h0M205.8 187.0h0M205.1 184.7h0M204.3 185.1h0M205.8 184.5h0M207.8 185.9h0M208.2 186.3h0M206.1 184.4h0M208.8 187.1h0M207.4 186.2h0M189.0 176.5h0M189.4 176.1h0M188.2 176.1h0M188.8 176.0h0M189.2 176.9h0M221.8 168.8h0M194.1 166.4h0M222.2 173.6h0M211.5 157.1h0M230.6 167.7h0"/>
<path stroke="#F962DD" stroke-width="1.10" stroke-linecap="round" d="M195.0 182.0h0M193.6 181.9h0M193.7 182.0h0M193.3 182.6h0M193.2 181.7h0M193.5 183.2h0M194.1 181.6h0M194.0 181.8h0M193.1 182.6h0M193.8 181.6h0"/>
<path stroke="#8B93FF" stroke-width="1.10" stroke-linecap="round" d="M199.6 187.6h0M199.5 188.2h0M198.7 188.2h0M198.2 189.2h0M199.5 187.8h0M197.2 188.3h0M197.3 188.0h0M201.1 189.0h0M199.6 188.6h0M199.9 188.0h0M198.6 188.5h0M199.8 188.8h0M198.2 188.2h0M199.4 188.1h0M198.2 189.1h0"/>
<path stroke="#D575FE" stroke-width="1.10" stroke-linecap="round" d="M207.5 189.9h0M208.7 190.9h0M208.5 189.8h0M207.9 190.9h0M207.6 189.8h0M208.2 189.7h0M209.1 191.3h0M207.8 189.6h0M207.9 191.5h0M208.4 189.6h0"/>
<text x="200.2" y="153.5" font-size="3.7" font-weight="bold" fill="#111" stroke="#111" stroke-width="0.12">Mac</text>
<text x="213.0" y="154.0" font-size="3.7" font-weight="bold" fill="#111" stroke="#111" stroke-width="0.12">LOH</text>
<text x="218.8" y="158.5" font-size="3.7" font-weight="bold" fill="#111" stroke="#111" stroke-width="0.12">EPC</text>
<text x="223.2" y="166.5" font-size="3.7" font-weight="bold" fill="#111" stroke="#111" stroke-width="0.12">Endo</text>
<text x="226.5" y="173.0" font-size="3.7" font-weight="bold" fill="#111" stroke="#111" stroke-width="0.12">Mas</text>
<text x="193.8" y="168.5" font-size="3.7" font-weight="bold" fill="#111" stroke="#111" stroke-width="0.12">PT</text>
<text x="212.3" y="173.5" font-size="3.7" font-weight="bold" fill="#111" stroke="#111" stroke-width="0.12">DCT</text>
<text x="186.1" y="177.5" font-size="3.7" font-weight="bold" fill="#111" stroke="#111" stroke-width="0.12">T/NK</text>
<text x="214.3" y="181.0" font-size="3.7" font-weight="bold" fill="#111" stroke="#111" stroke-width="0.12">CD</text>
<text x="193.1" y="183.0" font-size="3.7" font-weight="bold" fill="#111" stroke="#111" stroke-width="0.12">B</text>
<text x="197.5" y="183.0" font-size="3.7" font-weight="bold" fill="#111" stroke="#111" stroke-width="0.12">Fibro</text>
<text x="197.6" y="190.0" font-size="3.7" font-weight="bold" fill="#111" stroke="#111" stroke-width="0.12">Neu</text>
<text x="207.2" y="190.0" font-size="3.7" font-weight="bold" fill="#111" stroke="#111" stroke-width="0.12">Podo</text>
<text x="257.7" y="146.8" font-size="7.3" text-anchor="middle" fill="#111" font-weight="bold" stroke="#111" stroke-width="0.3">HET-14</text>
<path stroke="#24B700" stroke-width="1.10" stroke-linecap="round" d="M250.2 153.8h0M248.3 155.2h0M250.7 154.3h0M248.8 154.5h0M252.1 154.4h0M249.7 156.4h0M250.1 156.5h0M248.7 153.8h0M251.4 155.5h0M250.6 153.6h0M251.6 153.3h0M248.6 154.5h0M253.8 154.6h0M250.5 152.6h0M253.8 154.6h0M248.8 156.9h0M251.1 155.4h0M251.9 153.3h0M253.0 154.9h0M249.1 155.3h0M250.4 152.8h0M249.8 153.9h0M249.1 155.2h0M253.9 153.7h0M253.5 153.6h0M251.4 153.5h0M248.8 156.6h0M253.0 155.4h0M252.3 155.3h0M249.7 152.8h0M252.6 155.4h0M253.3 153.8h0M252.3 155.5h0M253.9 152.6h0M249.3 153.0h0M249.9 154.0h0M248.1 155.2h0M248.9 156.2h0M252.5 152.8h0M249.2 155.7h0M252.9 152.3h0M250.6 153.5h0M248.0 155.4h0M253.5 154.4h0M252.4 155.6h0M256.9 155.0h0M257.6 153.5h0M256.5 154.2h0M258.2 154.6h0M258.4 154.4h0M257.0 153.5h0M255.0 153.7h0M256.4 155.0h0M254.6 154.1h0M256.7 153.0h0M257.0 154.2h0M256.0 153.7h0M255.8 154.8h0M254.0 153.6h0M255.0 154.1h0M262.4 176.0h0M260.8 167.6h0M235.8 171.6h0M280.1 166.0h0"/>
<path stroke="#00BE70" stroke-width="1.10" stroke-linecap="round" d="M263.5 155.2h0M261.6 156.0h0M265.9 156.2h0M265.9 154.2h0M261.2 153.9h0M267.1 156.8h0M263.6 152.9h0M264.2 155.2h0M267.0 156.8h0M265.5 154.1h0M263.4 157.4h0M265.9 155.4h0M265.1 157.9h0M265.7 154.0h0M266.5 156.7h0M264.2 153.7h0M264.1 156.6h0M265.6 154.0h0M266.4 156.0h0M263.0 153.9h0M261.2 153.5h0M263.7 158.2h0M263.5 153.1h0M262.7 154.7h0M265.3 156.1h0M261.9 156.9h0M263.8 158.2h0M264.6 155.9h0M265.9 154.8h0M264.0 156.5h0M266.9 155.6h0M262.1 153.9h0M265.4 157.9h0M262.6 157.0h0M264.8 158.2h0M264.6 153.1h0M262.3 157.2h0M262.5 156.6h0M264.1 158.1h0M262.4 154.9h0M263.5 158.0h0M261.9 154.2h0M265.1 153.7h0M264.9 157.8h0M264.0 155.1h0M261.2 154.4h0M258.6 154.2h0M259.7 153.6h0M260.4 155.0h0M258.6 153.9h0M260.3 154.6h0M259.7 155.0h0M260.4 153.8h0M260.2 154.1h0M258.8 153.7h0M274.1 171.7h0M243.0 174.9h0"/>
<path stroke="#00ACFC" stroke-width="1.10" stroke-linecap="round" d="M268.3 157.9h0M270.1 158.7h0M269.1 158.0h0M270.6 157.1h0M270.3 158.6h0M271.2 157.9h0M270.2 157.2h0M268.4 158.0h0M268.6 158.4h0M270.6 157.2h0M270.1 158.7h0M270.0 157.3h0M272.6 160.9h0M264.1 175.9h0M267.2 164.9h0M277.4 174.8h0M242.3 175.8h0"/>
<path stroke="#8CAB00" stroke-width="1.10" stroke-linecap="round" d="M273.2 165.8h0M276.7 164.7h0M268.5 169.8h0M276.2 164.5h0M274.0 166.2h0M273.6 166.5h0M269.5 169.3h0M276.7 163.2h0M273.1 166.6h0M274.9 163.9h0M270.5 167.7h0M269.3 169.8h0M274.5 166.0h0M273.0 167.2h0M273.0 167.5h0M275.2 165.4h0M274.1 166.1h0M270.9 168.0h0M275.5 165.6h0M277.9 164.7h0M277.7 163.6h0M268.5 168.6h0M275.2 165.5h0M272.8 167.8h0M274.3 166.0h0M272.8 165.5h0M274.7 165.2h0M272.3 166.2h0M271.1 167.1h0M270.5 169.5h0M274.0 167.8h0M275.4 163.2h0M276.6 163.8h0M272.1 166.3h0M273.1 168.0h0M273.3 166.5h0M275.8 165.0h0M277.3 163.8h0M274.1 167.3h0M274.3 165.7h0M269.5 168.6h0M272.5 167.6h0M274.0 165.9h0M275.3 164.1h0M273.1 166.1h0M274.8 165.2h0M271.4 169.3h0M276.2 164.1h0M273.7 166.3h0M274.3 167.4h0M270.2 170.7h0M269.5 170.6h0M268.2 169.4h0M275.3 163.3h0M267.8 169.2h0M273.0 168.0h0M276.3 170.3h0M275.7 168.2h0M274.6 166.5h0M274.5 166.6h0M276.6 169.4h0M271.6 163.6h0M273.7 167.7h0M275.2 169.0h0M277.8 171.0h0M273.7 167.0h0M270.8 164.2h0M271.6 162.9h0M272.3 164.5h0M274.3 166.3h0M277.2 171.5h0M273.9 168.0h0M276.5 169.2h0M272.0 163.5h0M271.7 164.9h0M277.2 170.7h0M277.2 170.8h0M274.1 167.1h0M274.3 169.3h0M272.7 165.9h0M272.7 166.9h0M273.8 167.2h0M276.1 168.7h0M272.0 165.4h0M275.4 168.6h0M275.1 167.0h0M272.7 165.0h0M273.4 167.5h0M275.7 167.7h0M272.3 163.5h0M277.5 170.8h0M275.3 169.5h0M276.7 168.7h0M275.4 170.0h0M273.5 167.9h0M274.8 167.0h0M271.8 164.8h0M273.5 167.2h0M275.2 168.3h0M273.5 168.2h0M247.6 168.5h0M261.5 172.0h0M273.1 180.3h0M241.8 174.3h0M267.2 182.8h0"/>
<path stroke="#FF65AC" stroke-width="1.10" stroke-linecap="round" d="M279.0 176.1h0M278.6 174.5h0M278.8 174.5h0M278.6 175.6h0M278.1 174.7h0M279.1 174.8h0"/>
<path stroke="#EC8A06" stroke-width="1.10" stroke-linecap="round" d="M244.7 167.2h0M246.6 172.4h0M244.7 167.5h0M242.5 172.6h0M245.5 168.7h0M243.7 174.5h0M248.1 165.7h0M242.1 174.0h0M247.1 173.4h0M246.0 162.7h0M244.2 172.7h0M247.3 163.6h0M240.9 168.7h0M247.1 167.5h0M246.8 169.6h0M242.7 164.9h0M244.8 174.7h0M245.4 164.2h0M245.3 173.4h0M242.9 167.5h0M243.5 169.2h0M243.7 162.7h0M244.6 171.6h0M248.3 170.4h0M242.1 173.5h0M248.7 165.3h0M247.4 164.2h0M242.2 166.2h0M243.9 166.1h0M245.1 162.5h0M243.2 171.0h0M246.0 173.3h0M249.0 167.8h0M241.5 165.8h0M248.3 162.8h0M244.0 173.0h0M241.5 170.0h0M246.2 167.3h0M245.1 165.1h0M249.4 166.9h0M244.9 170.7h0M241.7 165.3h0M244.5 170.9h0M242.6 165.1h0M244.0 162.6h0M244.6 171.9h0M240.8 170.8h0M241.8 167.6h0M247.5 168.8h0M245.0 161.6h0M243.2 172.6h0M244.3 168.7h0M244.8 171.6h0M245.6 163.7h0M244.1 170.7h0M244.1 162.6h0M245.3 165.3h0M245.7 165.4h0M248.2 169.5h0M244.9 170.9h0M244.2 169.7h0M246.7 166.4h0M242.4 167.7h0M246.3 162.2h0M247.7 164.0h0M246.4 172.4h0M244.3 166.7h0M240.9 167.1h0M244.9 171.6h0M244.6 171.0h0M245.4 174.5h0M244.9 168.4h0M242.9 163.6h0M246.3 162.0h0M247.6 170.9h0M245.2 167.8h0M243.7 163.6h0M240.6 169.6h0M244.4 167.6h0M246.4 168.1h0M247.6 166.0h0M246.5 172.1h0M241.0 171.1h0M247.3 170.4h0M241.6 165.8h0M243.4 173.0h0M243.6 162.1h0M247.5 171.6h0M242.5 165.3h0M246.4 172.3h0M246.6 162.7h0M245.5 173.1h0M243.9 174.9h0M244.2 170.1h0M244.7 174.5h0M244.8 161.6h0M244.9 174.8h0M246.4 172.2h0M246.6 167.7h0M243.3 166.1h0M245.9 165.9h0M246.9 172.2h0M243.2 167.4h0M248.6 164.7h0M245.7 162.0h0M245.7 169.9h0M241.0 168.5h0M243.9 164.2h0M245.2 166.4h0M247.1 165.5h0M242.3 171.3h0M245.3 171.7h0M244.3 174.0h0M247.9 166.8h0M247.0 163.4h0M241.0 169.7h0M245.7 166.2h0M248.8 166.1h0M249.5 167.4h0M243.4 174.7h0M244.4 170.3h0M249.1 166.7h0M246.3 162.7h0M244.4 172.2h0M246.4 163.9h0M241.5 166.7h0M248.2 163.5h0M245.6 169.6h0M244.5 163.1h0M243.6 169.5h0M241.4 166.6h0M248.5 170.6h0M245.8 161.5h0M245.0 168.8h0M246.2 165.8h0M245.3 163.7h0M247.1 162.9h0M242.7 166.6h0M243.5 174.6h0M242.0 168.4h0M242.5 163.9h0M245.8 173.7h0M248.8 164.9h0M245.6 170.1h0M246.1 164.7h0M246.7 162.7h0M248.8 170.7h0M244.3 166.2h0M240.8 166.8h0M248.4 168.9h0M243.1 171.6h0M243.1 171.4h0M242.3 166.7h0M247.5 165.2h0M247.5 170.1h0M246.5 171.3h0M245.7 174.4h0M246.3 169.2h0M249.4 166.2h0M245.5 165.7h0M242.1 169.5h0M246.7 168.2h0M241.1 169.3h0M246.0 168.6h0M243.7 172.5h0M241.9 172.3h0M242.6 167.7h0M246.8 169.8h0M245.4 172.0h0M242.3 173.6h0M245.5 171.8h0M247.5 165.6h0M242.7 164.5h0M244.3 163.2h0M245.9 172.9h0M244.0 174.9h0M244.6 172.6h0M247.6 172.7h0M243.6 167.9h0M245.1 174.8h0M242.3 167.3h0M245.2 170.6h0M242.1 169.0h0M243.6 166.8h0M245.2 174.8h0M246.4 166.6h0M245.6 170.0h0M245.5 162.5h0M242.1 170.6h0M242.3 164.5h0M247.8 163.4h0M241.6 168.1h0M243.2 167.3h0M245.3 174.4h0M244.4 164.1h0M244.5 164.1h0M243.5 172.8h0M247.8 168.4h0M243.1 166.7h0M241.4 167.0h0M243.5 165.7h0M246.8 162.1h0M243.7 163.5h0M245.7 173.9h0M242.7 165.2h0M247.1 173.4h0M243.7 167.1h0M244.6 162.9h0M242.9 165.3h0M245.1 164.4h0M247.4 166.7h0M248.8 170.9h0M240.9 168.2h0M248.4 165.2h0M247.1 162.1h0M246.7 170.9h0M249.4 166.2h0M245.4 168.2h0M243.2 173.0h0M244.1 165.6h0M248.9 159.4h0M254.3 159.8h0M247.9 162.4h0M245.6 161.8h0M245.9 161.5h0M253.4 159.8h0M247.8 162.4h0M255.5 159.7h0M254.6 161.2h0M255.5 161.2h0M254.2 160.7h0M249.0 160.5h0M254.3 161.5h0M251.5 161.3h0M245.1 163.6h0M252.9 159.6h0M253.9 158.5h0M253.0 160.1h0M252.4 161.7h0M249.2 160.4h0M254.0 161.7h0M255.1 161.4h0M253.0 158.7h0M250.0 159.5h0M248.8 160.3h0M250.8 160.1h0M252.1 160.2h0M245.2 162.8h0M250.4 160.8h0M255.0 158.1h0M253.9 159.3h0M249.5 160.3h0M245.7 162.2h0M248.8 162.0h0M251.6 159.1h0M251.3 161.0h0M245.0 162.3h0M247.5 160.5h0M246.9 160.3h0M252.3 161.7h0M251.9 161.8h0M247.6 161.1h0M255.9 160.0h0M248.3 159.9h0M247.4 162.1h0M252.4 161.8h0M246.6 160.3h0M255.4 159.4h0M246.6 161.3h0M248.2 162.2h0M252.0 158.7h0M256.2 158.9h0M256.6 159.6h0M250.4 161.3h0M247.6 160.8h0M252.5 158.8h0M251.0 162.4h0M252.7 161.1h0M250.2 159.1h0M244.6 160.9h0M248.6 161.2h0M245.1 160.8h0M256.7 160.8h0M247.2 163.0h0M246.4 162.4h0M255.9 160.7h0M253.7 161.6h0M256.4 160.3h0M252.9 159.9h0M255.7 159.8h0M250.2 162.2h0M250.7 162.3h0M247.4 162.3h0M245.0 163.8h0M254.3 158.1h0M247.9 160.4h0M254.2 160.4h0M245.7 161.2h0M254.2 160.7h0M255.0 159.8h0M256.1 188.5h0M260.5 154.9h0M258.8 177.4h0M262.9 179.7h0M266.1 188.3h0M269.0 153.6h0M275.2 157.8h0"/>
<path stroke="#F8766D" stroke-width="1.10" stroke-linecap="round" d="M269.2 178.6h0M268.5 181.6h0M270.6 175.7h0M269.5 174.8h0M265.3 177.6h0M272.4 177.0h0M266.5 177.5h0M261.7 173.4h0M270.7 177.2h0M272.8 178.4h0M262.6 170.1h0M261.0 177.3h0M256.6 168.7h0M260.4 172.5h0M271.3 176.6h0M258.3 175.4h0M253.5 169.7h0M261.4 174.8h0M260.3 173.9h0M267.7 174.2h0M258.4 176.7h0M267.3 175.9h0M260.5 178.7h0M264.6 177.9h0M255.4 171.8h0M265.1 179.2h0M260.8 171.3h0M262.5 174.3h0M266.9 181.0h0M255.2 169.5h0M260.6 173.3h0M272.5 180.5h0M254.9 172.7h0M260.6 173.7h0M265.8 177.6h0M263.5 172.6h0M260.5 176.6h0M267.1 178.5h0M253.3 172.4h0M259.6 174.2h0M270.0 179.3h0M252.5 169.1h0M263.4 176.9h0M272.1 179.3h0M267.5 178.1h0M253.3 170.3h0M268.6 181.5h0M263.7 173.2h0M259.8 177.0h0M263.0 176.1h0M266.9 175.6h0M260.0 175.6h0M263.4 179.8h0M262.6 173.6h0M267.9 173.3h0M257.2 173.6h0M259.3 170.4h0M262.3 178.6h0M264.4 178.7h0M260.3 175.3h0M266.0 181.2h0M258.3 168.6h0M260.7 170.4h0M263.1 175.5h0M263.7 178.5h0M265.4 179.9h0M267.2 173.1h0M260.7 175.8h0M262.5 174.4h0M256.3 168.8h0M260.3 171.9h0M271.6 179.0h0M253.3 172.0h0M264.0 173.7h0M259.7 177.0h0M261.8 169.4h0M259.5 173.5h0M258.5 172.4h0M255.7 171.4h0M263.0 177.7h0M255.3 168.8h0M262.0 171.4h0M258.1 173.0h0M255.0 170.1h0M262.4 177.2h0M260.9 175.7h0M271.9 179.8h0M253.8 169.0h0M269.7 178.6h0M268.4 177.0h0M264.6 171.7h0M255.6 174.2h0M263.4 173.1h0M259.8 173.9h0M267.3 179.1h0M257.3 169.2h0M260.9 174.0h0M258.1 172.6h0M267.4 172.4h0M264.9 174.8h0M255.3 168.2h0M268.2 176.3h0M256.6 168.7h0M261.9 177.6h0M270.4 180.4h0M265.4 173.2h0M259.8 171.3h0M267.6 179.1h0M265.1 180.3h0M251.8 170.2h0M263.5 175.4h0M262.1 179.0h0M267.9 177.3h0M268.2 177.9h0M267.4 172.7h0M260.5 174.8h0M271.2 179.2h0M255.7 175.4h0M263.8 174.8h0M263.7 175.8h0M262.6 172.4h0M259.4 168.5h0M259.7 170.8h0M257.1 174.3h0M267.6 174.9h0M259.5 173.3h0M262.7 176.5h0M257.0 172.6h0M270.5 178.8h0M271.9 178.8h0M272.1 180.8h0M267.9 178.8h0M266.9 174.6h0M268.3 180.4h0M269.7 174.4h0M269.2 181.6h0M255.3 173.5h0M252.4 169.8h0M269.9 179.1h0M272.8 177.7h0M267.8 178.3h0M256.1 173.9h0M257.9 177.1h0M254.5 172.2h0M269.2 176.9h0M270.8 175.7h0M263.0 171.0h0M258.6 174.0h0M268.1 173.7h0M262.0 174.2h0M253.6 173.8h0M266.7 179.6h0M264.4 173.7h0M259.8 176.4h0M261.9 169.9h0M261.4 172.9h0M260.6 171.0h0M253.9 172.2h0M268.9 176.5h0M258.2 171.6h0M257.6 171.4h0M260.1 176.9h0M258.3 175.0h0M266.2 179.1h0M264.5 179.8h0M266.7 179.2h0M268.3 177.7h0M261.8 177.2h0M260.2 177.2h0M270.9 177.6h0M266.4 177.7h0M255.6 170.2h0M265.8 178.6h0M256.9 168.0h0M252.2 169.6h0M270.8 180.6h0M253.4 169.7h0M261.4 175.1h0M258.0 176.0h0M257.3 168.6h0M270.8 178.2h0M258.0 176.6h0M268.0 173.6h0M254.4 173.1h0M252.0 170.9h0M266.3 176.2h0M258.7 170.7h0M256.7 168.6h0M260.0 170.3h0M251.9 169.5h0M259.5 170.9h0M270.7 181.7h0M255.3 172.4h0M267.2 177.4h0M256.9 176.7h0M268.7 178.5h0M259.8 178.3h0M272.9 178.3h0M263.6 175.9h0M271.3 176.0h0M263.5 174.3h0M266.9 177.9h0M259.5 171.3h0M260.5 172.3h0M271.8 180.3h0M262.0 173.1h0M254.6 173.2h0M263.1 180.1h0M263.2 175.4h0M261.6 169.7h0M268.4 179.9h0M264.4 172.3h0M256.3 172.7h0M270.6 179.2h0M256.1 167.9h0M253.5 173.8h0M260.8 177.0h0M264.6 170.9h0M271.3 180.2h0M265.3 176.3h0M264.4 178.1h0M268.3 179.8h0M257.4 168.8h0M263.3 170.0h0M255.8 168.7h0M254.5 174.1h0M269.3 177.1h0M265.4 178.7h0M267.6 173.9h0M270.0 175.0h0M253.9 171.1h0M257.4 177.3h0M264.6 170.8h0M253.6 171.4h0M257.3 168.1h0M266.7 174.8h0M257.5 172.7h0M266.2 174.4h0M265.4 171.1h0M266.6 173.9h0M251.9 169.4h0M265.1 172.2h0M269.0 179.7h0M270.9 176.8h0M260.1 170.4h0M264.5 170.9h0M255.5 173.1h0M271.1 180.0h0M267.7 178.3h0M254.2 173.7h0M259.5 178.5h0M269.1 174.7h0M266.4 174.2h0M268.2 175.3h0M270.3 178.5h0M266.9 174.4h0M255.7 171.4h0M271.1 176.8h0M262.3 171.0h0M261.4 176.2h0M255.7 170.9h0M254.9 172.5h0M267.1 172.7h0M258.7 170.3h0M265.8 178.3h0M262.7 177.1h0M270.9 181.6h0M254.6 169.9h0M255.1 173.9h0M257.0 170.1h0M255.8 170.3h0M252.6 170.2h0M259.5 171.3h0M262.1 172.4h0M259.8 169.7h0M267.2 175.7h0M259.3 170.6h0M272.2 180.5h0M268.4 180.8h0M256.5 175.2h0M257.8 168.8h0M255.7 173.0h0M253.6 171.9h0M259.1 171.6h0M262.8 176.4h0M266.7 173.2h0M267.6 179.2h0M267.7 176.0h0M252.4 170.5h0M262.7 171.7h0M255.9 169.8h0M255.9 175.4h0M268.2 174.2h0M263.3 173.2h0M255.2 174.2h0M267.1 172.7h0M256.2 173.3h0M267.2 175.8h0M254.8 172.2h0M260.8 174.9h0M254.7 173.7h0M254.8 172.8h0M255.6 173.4h0M272.6 180.1h0M271.6 177.1h0M260.0 172.5h0M269.4 175.0h0M273.3 179.5h0M264.8 178.4h0M261.4 170.7h0M257.6 175.3h0M269.5 174.8h0M270.0 177.2h0M257.7 169.1h0M251.8 169.8h0M262.1 178.3h0M261.8 174.1h0M258.4 169.2h0M264.5 173.2h0M271.5 178.9h0M262.4 174.3h0M263.1 177.3h0M259.1 170.6h0M262.5 170.6h0M263.5 180.4h0M255.6 172.3h0M256.5 174.9h0M260.4 168.8h0M271.5 179.4h0M263.3 172.7h0M270.6 178.2h0M267.7 178.6h0M270.4 179.5h0M270.2 178.1h0M268.2 178.6h0M272.4 180.8h0M268.6 181.3h0M270.8 179.0h0M270.3 182.0h0M269.7 179.5h0M269.9 178.5h0M271.5 180.3h0M270.6 180.3h0M270.4 180.5h0M272.4 177.7h0M273.3 180.0h0M268.7 177.4h0M270.7 181.7h0M273.5 179.3h0M272.7 178.1h0M269.9 180.3h0M273.1 180.0h0M271.6 178.5h0M270.6 181.5h0M270.7 177.6h0M268.9 178.1h0M273.2 177.9h0M271.9 181.9h0M269.3 178.8h0M268.1 179.6h0M255.2 184.6h0M264.6 162.5h0M271.1 188.3h0M268.4 185.6h0"/>
<path stroke="#00C1AB" stroke-width="1.10" stroke-linecap="round" d="M257.6 169.5h0M259.5 168.7h0M256.8 169.4h0M256.6 168.0h0M256.8 167.9h0M260.7 168.0h0M260.5 168.3h0M258.6 167.5h0M258.0 168.7h0M257.8 168.2h0M261.3 168.1h0M258.4 168.9h0M257.4 169.0h0M259.4 169.7h0M260.0 168.3h0M256.1 168.6h0M257.2 168.4h0M261.6 167.9h0M259.3 168.5h0M260.8 167.8h0M260.7 168.6h0M260.2 169.3h0M260.0 168.3h0M259.4 169.1h0M258.9 168.7h0M259.6 169.5h0M260.5 168.7h0M261.8 168.2h0M258.8 168.1h0M258.2 169.4h0M258.6 168.4h0M261.2 168.9h0M258.8 167.0h0M260.5 167.9h0M258.2 168.4h0M250.7 180.5h0M255.8 179.2h0M255.2 183.0h0M254.5 177.3h0M256.7 183.9h0M256.9 178.4h0M257.0 180.6h0M257.1 182.1h0M252.2 179.3h0M249.4 180.0h0M252.3 179.8h0M251.1 183.6h0M256.0 183.9h0M254.2 181.2h0M253.6 185.1h0M249.1 182.1h0M250.1 179.1h0M252.7 178.7h0M253.9 181.0h0M255.0 184.0h0M255.0 182.5h0M249.6 179.9h0M255.2 178.8h0M254.1 182.1h0M249.7 179.0h0M248.3 181.0h0M251.1 179.6h0M249.0 180.2h0M249.9 181.1h0M250.1 181.6h0M248.6 179.3h0M248.0 179.1h0M250.3 181.3h0M248.1 179.7h0M251.5 180.1h0M248.5 179.4h0M249.1 181.0h0M248.8 178.8h0M250.6 179.0h0M250.9 179.0h0M250.2 180.3h0M249.8 178.4h0M248.6 181.7h0M248.1 181.5h0M248.0 179.6h0M250.5 179.0h0M249.7 178.9h0M248.3 179.5h0M249.4 180.0h0M280.0 168.9h0M276.0 164.2h0M254.7 179.8h0M248.9 186.3h0M254.7 188.3h0"/>
<path stroke="#BE9C00" stroke-width="1.10" stroke-linecap="round" d="M263.0 180.6h0M264.6 178.2h0M266.9 185.4h0M270.6 181.1h0M272.0 186.6h0M268.2 180.4h0M268.4 178.1h0M267.2 178.4h0M262.8 180.8h0M271.9 179.7h0M267.5 186.0h0M264.7 178.5h0M267.5 184.2h0M268.0 181.9h0M262.3 183.3h0M264.0 180.6h0M268.6 177.4h0M263.8 177.7h0M271.1 181.1h0M261.9 179.8h0M263.4 184.2h0M267.5 182.1h0M263.8 180.1h0M267.3 179.4h0M266.0 182.7h0M267.7 187.4h0M269.4 184.1h0M271.1 184.7h0M270.2 183.9h0M266.7 181.5h0M267.2 181.3h0M272.2 184.5h0M267.9 183.1h0M266.3 178.8h0M262.6 183.1h0M267.3 177.6h0M269.6 185.1h0M271.0 178.9h0M273.3 181.8h0M269.4 187.3h0M270.1 187.5h0M272.6 181.5h0M269.1 187.0h0M265.5 183.4h0M269.7 181.8h0M263.4 181.2h0M263.2 182.6h0M268.2 183.0h0M261.9 179.5h0M270.9 180.3h0M264.2 185.8h0M261.5 180.9h0M269.8 181.6h0M271.5 181.5h0M263.2 180.8h0M271.1 179.4h0M262.9 179.5h0M271.7 182.4h0M268.0 182.5h0M267.5 180.9h0M266.8 187.4h0M272.8 180.9h0M266.0 184.8h0M265.2 182.1h0M265.5 182.7h0M272.7 183.7h0M264.5 186.2h0M263.1 179.8h0M262.4 180.2h0M265.6 181.7h0M264.8 177.9h0M268.8 183.5h0M270.0 186.7h0M268.8 181.0h0M264.3 184.5h0M263.8 179.6h0M268.8 187.6h0M262.6 179.1h0M270.1 180.4h0M271.4 181.2h0M267.2 177.7h0M268.5 178.1h0M265.4 179.6h0M272.6 181.6h0M264.0 185.0h0M242.1 171.6h0M257.9 179.9h0M252.0 186.1h0M251.8 168.1h0M243.7 166.2h0"/>
<path stroke="#00BBDA" stroke-width="1.10" stroke-linecap="round" d="M253.2 182.0h0M257.1 183.6h0M256.6 178.2h0M251.6 181.9h0M253.9 179.1h0M250.0 183.9h0M253.6 182.7h0M255.6 180.9h0M254.8 184.0h0M254.2 183.2h0M251.9 181.4h0M252.6 184.8h0M250.7 181.7h0M254.4 178.2h0M253.6 185.6h0M255.8 182.4h0M253.9 185.7h0M251.7 184.9h0M254.3 181.0h0M251.9 184.5h0M253.0 182.3h0M250.7 181.9h0M255.7 183.9h0M253.0 177.6h0M255.3 177.3h0M249.8 183.6h0M256.7 180.7h0M256.3 179.7h0M253.2 181.3h0M251.0 178.7h0M251.1 182.5h0M252.5 181.0h0M256.5 179.0h0M254.2 177.8h0M250.6 180.2h0M257.0 179.2h0M253.7 180.9h0M252.3 185.2h0M251.8 180.1h0M256.9 181.9h0M254.4 184.9h0M253.9 180.8h0M257.7 182.6h0M249.8 182.6h0M253.2 178.7h0M251.0 178.8h0M252.4 180.1h0M253.4 180.7h0M256.8 182.5h0M256.8 179.4h0M256.1 184.5h0M251.4 181.4h0M251.3 180.7h0M257.0 179.1h0M253.2 179.2h0M253.4 180.0h0M253.9 184.4h0M251.3 184.3h0M254.1 183.7h0M251.6 182.2h0M256.0 177.9h0M253.0 177.3h0M249.4 181.6h0M253.0 184.2h0M254.8 185.4h0M254.4 179.2h0M258.4 186.0h0M256.0 187.1h0M259.1 186.8h0M254.6 183.7h0M255.8 185.2h0M255.1 185.4h0M258.3 185.5h0M257.0 185.4h0M256.3 186.4h0M255.8 183.1h0M255.1 184.2h0M256.2 183.2h0M257.9 185.4h0M255.1 183.6h0M256.0 184.1h0M256.0 186.2h0M258.8 187.2h0M256.2 184.1h0M256.3 185.3h0M258.9 186.0h0M258.9 185.7h0M258.4 185.5h0M256.8 184.1h0M255.9 184.1h0M255.9 184.4h0M256.5 185.8h0M257.8 185.7h0M256.7 187.4h0M257.3 187.0h0M255.6 187.0h0M239.3 176.1h0M238.5 176.7h0M238.9 176.8h0M238.8 176.9h0M237.9 176.4h0M259.3 162.7h0M273.2 157.4h0M266.4 181.1h0M252.9 181.3h0M270.4 178.6h0"/>
<path stroke="#F962DD" stroke-width="1.10" stroke-linecap="round" d="M245.3 182.7h0M244.4 181.9h0M244.9 183.2h0M244.6 182.4h0M245.0 181.6h0M243.5 181.9h0M244.9 182.8h0M243.4 181.9h0M243.5 181.5h0M243.4 181.7h0"/>
<path stroke="#8B93FF" stroke-width="1.10" stroke-linecap="round" d="M247.9 187.5h0M248.4 187.7h0M248.7 187.6h0M247.4 188.2h0M250.0 187.8h0M247.1 188.7h0M250.5 188.6h0M248.3 188.7h0M249.9 188.5h0M249.5 188.1h0M247.7 189.1h0M248.6 188.3h0M247.2 188.5h0M248.1 188.0h0M250.7 189.2h0"/>
<path stroke="#D575FE" stroke-width="1.10" stroke-linecap="round" d="M258.7 190.6h0M258.6 190.1h0M258.7 191.2h0M259.5 190.8h0M258.6 189.7h0M259.1 190.2h0M259.4 190.3h0M258.9 190.3h0M259.4 189.8h0M258.6 189.9h0"/>
<text x="250.2" y="153.5" font-size="3.7" font-weight="bold" fill="#111" stroke="#111" stroke-width="0.12">Mac</text>
<text x="263.0" y="154.0" font-size="3.7" font-weight="bold" fill="#111" stroke="#111" stroke-width="0.12">LOH</text>
<text x="268.8" y="158.5" font-size="3.7" font-weight="bold" fill="#111" stroke="#111" stroke-width="0.12">EPC</text>
<text x="273.2" y="166.5" font-size="3.7" font-weight="bold" fill="#111" stroke="#111" stroke-width="0.12">Endo</text>
<text x="276.5" y="173.0" font-size="3.7" font-weight="bold" fill="#111" stroke="#111" stroke-width="0.12">Mas</text>
<text x="247.5" y="164.2" font-size="3.7" font-weight="bold" fill="#111" stroke="#111" stroke-width="0.12">PT</text>
<text x="262.3" y="173.5" font-size="3.7" font-weight="bold" fill="#111" stroke="#111" stroke-width="0.12">DCT</text>
<text x="236.1" y="177.5" font-size="3.7" font-weight="bold" fill="#111" stroke="#111" stroke-width="0.12">T/NK</text>
<text x="257.0" y="179.0" font-size="3.7" font-weight="bold" fill="#111" stroke="#111" stroke-width="0.12">CD</text>
<text x="243.1" y="183.0" font-size="3.7" font-weight="bold" fill="#111" stroke="#111" stroke-width="0.12">B</text>
<text x="247.5" y="183.0" font-size="3.7" font-weight="bold" fill="#111" stroke="#111" stroke-width="0.12">Fibro</text>
<text x="247.6" y="190.0" font-size="3.7" font-weight="bold" fill="#111" stroke="#111" stroke-width="0.12">Neu</text>
<text x="257.2" y="190.0" font-size="3.7" font-weight="bold" fill="#111" stroke="#111" stroke-width="0.12">Podo</text>
<text x="308" y="146.8" font-size="7.3" text-anchor="middle" fill="#111" font-weight="bold" stroke="#111" stroke-width="0.3">HET-21</text>
<path stroke="#24B700" stroke-width="1.10" stroke-linecap="round" d="M303.2 153.9h0M303.0 154.8h0M300.3 154.5h0M298.4 155.7h0M301.6 152.9h0M300.3 156.0h0M304.2 154.2h0M301.7 153.7h0M302.0 153.7h0M300.8 153.0h0M302.9 153.4h0M299.0 155.8h0M302.2 154.2h0M301.3 153.9h0M301.3 156.4h0M299.2 155.7h0M303.6 152.3h0M300.8 153.5h0M302.8 153.6h0M302.4 153.5h0M301.2 152.4h0M299.8 153.1h0M301.8 155.2h0M299.4 154.4h0M302.0 155.3h0M300.1 154.1h0M302.2 153.8h0M301.7 153.7h0M301.3 154.9h0M299.5 155.1h0M300.9 154.3h0M299.8 155.9h0M304.0 154.5h0M303.3 155.9h0M299.0 155.4h0M300.2 155.9h0M299.1 155.8h0M301.2 154.0h0M303.7 153.2h0M300.5 153.7h0M299.7 156.4h0M302.2 155.0h0M304.3 152.7h0M303.8 154.4h0M301.9 152.9h0M307.3 154.0h0M306.4 152.5h0M305.8 154.5h0M305.6 154.1h0M305.8 154.5h0M307.1 154.3h0M307.5 154.6h0M306.7 153.9h0M307.5 153.1h0M308.1 154.3h0M306.7 154.7h0M305.5 153.8h0M308.0 154.1h0M305.3 153.6h0M306.1 153.2h0M295.9 187.0h0M295.6 175.0h0M298.5 184.0h0M305.1 153.6h0"/>
<path stroke="#00BE70" stroke-width="1.10" stroke-linecap="round" d="M314.3 153.2h0M314.4 157.5h0M317.1 157.0h0M316.3 154.5h0M314.6 153.8h0M313.0 154.6h0M315.7 158.0h0M313.3 153.1h0M315.9 155.4h0M314.9 155.3h0M314.7 156.4h0M313.3 152.8h0M312.2 156.1h0M316.6 157.7h0M314.2 153.3h0M312.1 156.0h0M314.5 157.3h0M316.7 156.1h0M315.8 155.6h0M314.3 154.0h0M315.8 157.1h0M314.1 156.0h0M313.0 154.3h0M317.2 156.0h0M316.0 155.1h0M317.3 156.4h0M317.2 155.8h0M313.4 157.5h0M311.6 153.9h0M313.0 156.0h0M315.1 155.3h0M314.4 156.2h0M316.5 157.3h0M315.6 154.4h0M312.5 154.2h0M312.6 153.7h0M315.3 154.4h0M313.9 155.5h0M315.7 156.2h0M316.0 154.2h0M317.3 156.3h0M314.8 156.2h0M315.2 153.3h0M313.3 153.8h0M316.4 154.3h0M309.7 154.3h0M309.3 153.9h0M309.1 154.0h0M310.6 154.7h0M309.8 154.2h0M309.3 153.7h0M309.5 155.1h0M311.4 153.8h0M311.4 154.6h0M308.7 154.5h0M295.9 186.2h0M292.4 180.2h0M322.1 167.6h0M314.2 175.3h0M321.2 182.9h0M324.3 157.0h0"/>
<path stroke="#00ACFC" stroke-width="1.10" stroke-linecap="round" d="M320.0 158.8h0M320.5 158.8h0M321.2 158.5h0M319.4 156.9h0M320.2 158.0h0M320.1 157.2h0M320.9 157.2h0M321.6 158.3h0M319.5 158.2h0M321.6 157.5h0M319.8 157.9h0M320.7 158.3h0M321.4 180.0h0M323.8 177.7h0M297.7 180.0h0M315.0 183.7h0M318.0 156.5h0M318.6 166.3h0M301.1 165.8h0M310.3 163.2h0M322.8 157.5h0M304.9 166.4h0"/>
<path stroke="#8CAB00" stroke-width="1.10" stroke-linecap="round" d="M325.8 163.5h0M321.2 169.6h0M323.5 167.9h0M320.2 169.8h0M327.5 165.3h0M319.5 169.6h0M325.3 164.7h0M327.0 165.2h0M319.0 168.6h0M319.4 169.0h0M325.5 164.3h0M320.8 169.8h0M326.5 165.7h0M323.4 166.3h0M328.2 164.4h0M326.8 165.2h0M322.7 166.6h0M321.1 170.3h0M326.3 165.8h0M321.5 169.7h0M320.9 170.5h0M325.8 165.0h0M324.8 164.9h0M320.3 169.0h0M327.1 164.6h0M324.5 164.3h0M326.5 164.8h0M326.6 163.6h0M320.9 170.2h0M327.0 164.8h0M320.2 170.1h0M324.3 165.4h0M324.2 166.6h0M326.7 163.5h0M321.4 168.4h0M328.2 164.1h0M320.0 167.8h0M327.5 164.1h0M320.0 169.8h0M324.6 166.9h0M326.3 164.9h0M327.4 163.3h0M324.4 164.9h0M324.4 165.0h0M321.5 168.6h0M327.0 163.4h0M327.6 163.4h0M321.6 169.7h0M322.5 167.3h0M322.2 167.5h0M324.2 165.3h0M320.8 168.4h0M326.8 164.2h0M320.7 170.5h0M320.0 171.1h0M323.0 163.7h0M324.4 167.4h0M321.3 163.7h0M327.4 169.2h0M322.2 166.5h0M327.2 170.0h0M324.5 167.6h0M324.4 166.7h0M322.2 166.5h0M325.6 167.2h0M325.8 170.7h0M321.8 162.8h0M322.0 165.6h0M327.0 169.7h0M325.1 169.6h0M322.8 167.0h0M325.1 168.7h0M325.6 167.4h0M321.6 164.6h0M327.1 171.8h0M320.9 164.8h0M324.7 169.1h0M326.6 169.3h0M324.1 166.0h0M325.5 167.5h0M324.9 168.6h0M325.3 168.5h0M323.5 166.5h0M324.1 166.6h0M320.8 165.0h0M321.4 163.7h0M322.4 164.9h0M323.2 165.6h0M321.0 163.3h0M323.1 165.2h0M321.1 163.4h0M322.6 166.5h0M324.0 167.2h0M327.6 170.3h0M323.5 166.4h0M323.1 164.7h0M327.0 168.9h0M324.4 166.9h0M327.2 170.1h0M320.3 164.1h0M312.4 177.5h0M317.1 190.0h0M294.4 184.8h0"/>
<path stroke="#FF65AC" stroke-width="1.10" stroke-linecap="round" d="M328.7 174.3h0M329.1 175.4h0M329.4 176.6h0M329.8 174.9h0M328.6 176.2h0M329.6 175.8h0"/>
<path stroke="#EC8A06" stroke-width="1.10" stroke-linecap="round" d="M304.7 169.2h0M294.8 175.0h0M300.2 170.4h0M304.7 166.4h0M310.3 168.5h0M292.7 173.0h0M317.0 159.5h0M293.3 173.5h0M311.4 163.0h0M315.4 162.2h0M300.4 170.2h0M296.4 172.8h0M296.3 170.8h0M302.3 167.2h0M301.2 168.6h0M314.5 165.1h0M297.4 174.7h0M318.7 163.4h0M310.7 164.8h0M302.3 170.5h0M297.4 173.3h0M314.3 167.1h0M306.1 168.7h0M312.8 166.1h0M312.7 163.8h0M295.2 176.7h0M311.3 163.5h0M318.8 163.7h0M316.1 164.8h0M316.7 165.6h0M314.8 163.7h0M308.7 170.6h0M301.5 171.6h0M310.7 167.9h0M315.4 161.9h0M314.7 165.8h0M313.0 161.0h0M297.4 175.5h0M297.2 173.5h0M303.1 170.3h0M318.6 161.3h0M309.0 166.2h0M309.8 163.4h0M304.8 169.6h0M307.8 170.3h0M293.1 174.0h0M316.1 161.0h0M309.4 165.1h0M305.2 169.9h0M293.4 175.2h0M310.7 167.9h0M293.4 174.2h0M293.9 176.3h0M315.7 160.5h0M318.6 163.5h0M305.2 172.4h0M299.3 170.2h0M319.3 162.8h0M304.4 169.1h0M309.8 166.3h0M320.1 164.4h0M297.7 171.4h0M303.9 171.9h0M319.4 162.8h0M303.4 169.0h0M311.8 164.6h0M313.9 165.9h0M299.9 168.8h0M299.6 168.5h0M311.1 163.1h0M294.5 176.7h0M299.5 171.1h0M314.4 160.3h0M307.8 165.8h0M319.8 164.3h0M302.8 167.8h0M309.8 162.8h0M312.2 166.9h0M309.7 164.0h0M315.5 163.7h0M307.8 171.3h0M299.2 175.5h0M307.0 171.5h0M313.3 163.7h0M309.9 164.6h0M316.7 161.9h0M294.7 174.1h0M300.9 174.6h0M303.2 173.4h0M307.5 168.8h0M313.7 162.8h0M308.5 170.3h0M318.0 164.7h0M314.4 160.5h0M303.6 169.3h0M294.7 171.4h0M299.9 172.3h0M297.6 176.7h0M309.7 164.7h0M308.8 168.7h0M297.7 175.0h0M316.3 166.4h0M308.0 165.9h0M299.8 172.6h0M307.0 165.3h0M314.4 160.8h0M316.8 161.6h0M302.9 166.9h0M310.8 168.4h0M301.4 174.2h0M295.5 174.2h0M304.7 167.1h0M297.1 175.7h0M306.0 168.8h0M298.4 172.4h0M297.4 171.2h0M295.1 171.7h0M312.9 165.8h0M299.6 173.6h0M315.7 159.5h0M310.0 166.3h0M293.3 172.8h0M297.7 170.0h0M307.4 166.6h0M318.4 162.4h0M305.7 168.2h0M294.6 174.6h0M301.5 173.6h0M300.6 173.3h0M318.2 162.3h0M313.4 162.5h0M316.9 161.5h0M304.2 166.8h0M305.6 167.9h0M304.5 168.2h0M296.8 175.3h0M305.6 167.1h0M311.8 166.6h0M295.7 172.1h0M294.3 175.3h0M300.7 171.7h0M312.2 162.1h0M307.6 168.6h0M310.9 169.3h0M303.9 167.5h0M294.8 172.4h0M303.8 166.3h0M303.0 169.0h0M302.8 170.7h0M304.9 168.4h0M306.6 171.9h0M311.0 167.9h0M309.4 167.9h0M294.8 177.6h0M295.2 175.2h0M301.6 171.5h0M314.9 162.8h0M305.0 168.3h0M298.1 172.6h0M306.2 168.4h0M312.9 162.2h0M312.3 164.5h0M313.0 161.7h0M296.0 170.7h0M315.4 160.4h0M313.3 166.8h0M306.1 168.7h0M300.2 175.2h0M301.7 174.4h0M298.9 172.6h0M298.1 169.8h0M314.0 167.5h0M315.6 165.0h0M296.8 173.1h0M295.1 173.3h0M295.3 173.9h0M307.5 167.8h0M300.4 174.0h0M307.0 165.9h0M316.2 165.7h0M300.7 168.7h0M300.2 169.3h0M310.7 163.9h0M300.5 171.6h0M318.2 164.7h0M302.1 170.0h0M309.7 168.5h0M299.8 168.6h0M292.2 173.5h0M317.3 159.2h0M313.6 161.2h0M309.4 167.8h0M314.7 162.5h0M299.4 174.8h0M298.7 171.3h0M311.9 163.3h0M299.7 172.1h0M304.1 168.7h0M312.0 161.6h0M317.7 159.9h0M315.9 165.6h0M294.3 177.5h0M314.4 160.5h0M296.4 175.5h0M302.9 172.2h0M308.2 167.5h0M311.7 162.5h0M304.8 172.2h0M300.3 169.9h0M314.3 163.7h0M296.9 171.4h0M316.9 158.9h0M297.6 171.6h0M303.0 170.8h0M306.0 171.2h0M305.1 166.6h0M298.4 171.8h0M314.2 162.7h0M306.6 170.3h0M307.3 167.5h0M311.5 162.0h0M318.3 162.2h0M301.0 168.3h0M293.1 175.9h0M300.4 170.8h0M312.2 162.2h0M304.3 173.2h0M308.2 169.6h0M312.5 163.7h0M303.4 173.3h0M294.4 171.9h0M297.9 170.3h0M299.5 170.7h0M308.4 165.1h0M292.6 173.6h0M302.5 174.2h0M306.3 165.3h0M315.7 161.9h0M308.1 164.2h0M299.6 169.3h0M297.5 174.6h0M307.8 168.1h0M303.5 171.6h0M302.5 168.4h0M293.6 175.1h0M302.4 167.4h0M305.7 169.9h0M301.4 167.5h0M304.0 168.6h0M310.4 163.8h0M304.6 166.5h0M297.5 175.9h0M296.7 173.8h0M302.1 173.7h0M296.1 176.4h0M309.4 164.6h0M317.0 161.5h0M316.0 160.5h0M317.5 161.7h0M301.3 174.6h0M305.4 169.2h0M295.9 175.1h0M315.2 160.9h0M300.8 168.0h0M306.3 168.5h0M317.0 161.2h0M293.2 174.8h0M307.7 170.9h0M294.5 172.8h0M300.3 172.4h0M301.0 169.9h0M314.2 161.9h0M303.6 171.9h0M300.8 170.0h0M299.5 173.5h0M304.0 167.4h0M315.2 160.4h0M298.5 172.9h0M314.2 166.8h0M306.4 168.8h0M299.9 169.8h0M307.9 170.2h0M302.7 168.4h0M294.5 173.9h0M309.1 169.5h0M316.7 162.8h0M296.4 176.6h0M311.9 164.0h0M306.1 168.4h0M298.1 173.7h0M305.6 166.4h0M308.5 170.1h0M302.2 172.0h0M305.6 165.3h0M317.4 162.4h0M293.0 172.4h0M313.0 162.9h0M299.0 174.2h0M316.0 164.3h0M311.1 166.3h0M316.5 161.6h0M310.4 165.9h0M300.8 169.3h0M313.7 166.3h0M315.0 165.7h0M312.0 162.9h0M308.6 164.6h0M316.7 162.7h0M312.0 161.5h0M310.4 169.3h0M300.1 175.0h0M303.0 166.8h0M293.3 175.0h0M296.4 174.0h0M313.5 167.8h0M305.2 171.5h0M303.2 169.6h0M300.4 170.3h0M294.1 177.3h0M318.2 164.3h0M298.4 174.0h0M304.3 167.1h0M317.4 159.8h0M300.2 173.6h0M318.6 164.8h0M319.9 164.4h0M308.2 167.7h0M305.6 167.6h0M302.9 168.4h0M298.8 170.4h0M305.1 171.6h0M308.5 169.8h0M296.8 176.6h0M298.2 170.1h0M311.5 165.5h0M298.2 175.4h0M316.9 161.8h0M295.8 172.8h0M308.8 168.1h0M313.4 167.0h0M298.8 176.1h0M295.6 172.9h0M295.4 174.8h0M309.2 169.9h0M299.2 170.2h0M311.5 167.9h0M308.5 164.8h0M307.6 166.9h0M303.6 170.8h0M297.0 169.9h0M312.9 165.7h0M303.6 168.9h0M307.3 169.9h0M319.0 164.7h0M314.1 167.3h0M307.0 165.5h0M298.9 170.7h0M300.4 169.0h0M315.8 163.5h0M297.6 176.7h0M298.6 169.0h0M311.6 168.4h0M294.7 178.4h0M301.9 167.5h0M310.8 164.5h0M293.6 175.2h0M315.7 162.6h0M314.6 161.8h0M311.1 169.3h0M296.1 176.8h0M302.2 173.4h0M300.4 171.5h0M295.7 172.8h0M307.2 167.5h0M314.0 167.1h0M314.6 160.7h0M309.1 169.9h0M309.5 165.8h0M298.5 172.2h0M299.3 170.6h0M296.3 174.8h0M295.1 176.1h0M292.7 174.4h0M296.6 172.9h0M298.6 173.5h0M299.3 172.8h0M294.4 170.2h0M297.6 170.4h0M297.2 172.7h0M297.4 173.9h0M296.9 170.8h0M298.0 171.7h0M292.7 173.7h0M294.7 174.4h0M298.7 175.2h0M293.9 174.2h0M297.8 176.2h0M296.0 174.9h0M297.6 175.8h0M293.6 175.0h0M294.0 175.1h0M298.5 173.9h0M299.4 172.6h0M295.1 174.8h0M294.8 176.4h0M295.5 171.6h0M293.1 172.7h0M299.1 174.7h0M297.0 174.5h0M295.6 175.8h0M297.3 176.0h0M294.8 170.6h0M298.4 172.3h0M293.5 175.4h0M295.9 174.5h0M297.4 173.9h0M294.1 172.5h0M295.9 175.2h0M295.8 173.7h0M293.1 174.5h0M314.3 159.9h0M315.8 160.8h0M317.7 162.7h0M317.9 162.3h0M313.1 164.1h0M318.0 159.8h0M319.3 161.6h0M310.8 165.6h0M317.0 161.8h0M317.2 161.2h0M312.7 167.0h0M314.1 160.5h0M311.4 165.4h0M312.4 166.1h0M318.8 164.0h0M312.2 161.5h0M314.4 164.0h0M317.3 165.3h0M311.8 163.5h0M313.2 161.5h0M315.9 160.1h0M311.9 162.2h0M315.5 165.9h0M317.8 159.6h0M312.5 165.0h0M316.6 159.8h0M312.3 162.2h0M312.4 162.1h0M313.8 165.9h0M315.3 161.5h0M318.7 161.9h0M313.6 165.7h0M319.1 162.1h0M315.1 166.2h0M311.7 164.6h0M311.6 162.8h0M314.5 163.1h0M317.0 166.2h0M314.1 166.3h0M312.6 164.8h0M312.0 163.9h0M316.8 162.0h0M313.8 164.4h0M318.7 161.1h0M313.8 161.9h0M313.6 163.8h0M312.2 166.1h0M310.8 163.4h0M312.9 165.7h0M312.2 165.6h0M310.8 163.1h0M317.3 161.5h0M318.5 163.6h0M316.7 162.7h0M310.6 164.5h0M316.7 161.6h0M312.2 165.3h0M315.7 163.5h0M313.1 162.3h0M319.5 161.6h0M315.7 162.2h0M310.9 163.2h0M312.4 162.7h0M312.7 162.2h0M316.4 162.8h0M313.7 161.8h0M313.0 161.2h0M317.7 161.2h0M312.6 161.9h0M312.6 167.1h0M319.2 162.3h0M313.8 165.4h0M311.7 166.1h0M316.8 162.0h0M314.7 165.4h0M319.1 163.3h0M314.4 160.0h0M314.1 167.2h0M316.0 161.0h0M311.9 166.5h0M293.1 171.2h0M295.6 165.6h0M316.1 189.0h0M320.4 154.4h0M298.4 178.2h0"/>
<path stroke="#F8766D" stroke-width="1.10" stroke-linecap="round" d="M315.0 181.4h0M311.2 171.9h0M312.3 180.5h0M315.8 173.3h0M308.2 180.8h0M307.1 179.2h0M317.7 184.3h0M314.4 176.3h0M319.1 174.4h0M315.0 179.2h0M316.8 177.4h0M311.0 175.3h0M323.6 177.4h0M321.1 176.8h0M307.3 179.6h0M308.4 184.3h0M318.2 179.8h0M314.3 183.4h0M313.5 184.5h0M319.9 180.9h0M306.3 179.4h0M314.2 173.2h0M314.7 176.6h0M310.3 173.4h0M307.8 172.9h0M323.8 179.7h0M313.4 176.4h0M313.5 179.7h0M308.8 184.1h0M309.1 173.0h0M317.6 173.8h0M311.8 180.0h0M317.5 176.3h0M315.7 172.9h0M305.3 180.8h0M309.3 182.6h0M307.1 183.9h0M309.0 182.7h0M320.1 173.7h0M316.1 185.0h0M324.6 181.5h0M309.1 176.0h0M313.5 171.4h0M321.9 173.3h0M322.9 174.5h0M324.1 179.5h0M321.9 184.5h0M313.6 180.2h0M316.9 179.4h0M315.6 175.1h0M312.6 185.1h0M306.6 172.6h0M317.9 178.5h0M316.7 175.7h0M320.4 179.3h0M314.5 176.2h0M319.1 174.0h0M314.3 184.6h0M320.7 171.8h0M316.6 182.8h0M309.0 174.8h0M310.0 176.0h0M313.7 172.3h0M324.5 179.0h0M317.5 181.4h0M317.0 180.3h0M309.9 179.3h0M316.3 175.1h0M315.1 185.0h0M324.1 179.3h0M310.4 173.7h0M319.6 172.5h0M318.7 171.5h0M311.8 172.8h0M314.2 174.0h0M310.1 184.4h0M313.9 181.6h0M312.8 183.8h0M312.4 180.3h0M318.0 181.0h0M317.3 183.3h0M315.0 184.4h0M305.7 179.6h0M324.5 183.2h0M315.9 171.5h0M310.7 181.7h0M313.5 178.7h0M312.6 173.3h0M314.9 173.7h0M316.9 181.0h0M294.9 184.8h0M302.1 186.2h0M298.6 157.8h0M323.5 161.1h0M318.4 167.8h0"/>
<path stroke="#00C1AB" stroke-width="1.10" stroke-linecap="round" d="M309.9 167.6h0M308.9 168.4h0M310.7 166.9h0M310.0 167.5h0M309.8 167.1h0M311.0 168.3h0M310.1 169.3h0M312.0 167.2h0M306.6 168.6h0M307.1 169.0h0M309.5 167.9h0M311.8 168.1h0M308.4 167.6h0M307.3 168.0h0M308.1 169.3h0M309.5 168.7h0M309.4 167.0h0M308.5 168.7h0M310.9 168.0h0M310.6 167.3h0M308.5 169.0h0M310.1 167.1h0M307.3 168.3h0M310.4 167.5h0M310.1 169.2h0M306.7 168.8h0M308.8 169.5h0M308.2 168.1h0M308.8 169.4h0M311.2 168.6h0M311.1 167.6h0M307.1 168.5h0M310.3 168.3h0M307.3 167.5h0M309.7 168.6h0M306.3 183.7h0M305.6 185.3h0M302.7 178.7h0M302.9 177.2h0M301.5 182.0h0M302.5 179.5h0M304.2 182.9h0M306.8 181.4h0M303.9 176.9h0M302.4 178.5h0M299.9 182.6h0M305.6 184.2h0M302.9 183.3h0M303.0 178.7h0M302.9 182.0h0M305.5 185.5h0M301.0 180.3h0M301.9 181.4h0M303.3 182.6h0M304.4 179.0h0M301.8 182.6h0M302.5 183.6h0M305.6 178.2h0M304.9 179.8h0M301.7 183.6h0M302.3 179.7h0M302.7 179.4h0M304.4 181.2h0M305.5 177.8h0M301.3 182.7h0M298.1 180.1h0M300.6 181.4h0M299.1 181.7h0M300.5 179.7h0M301.0 180.5h0M299.2 178.8h0M299.8 181.3h0M300.4 180.0h0M300.8 180.1h0M298.7 180.1h0M298.6 179.9h0M298.2 179.4h0M298.7 181.8h0M301.5 180.0h0M300.6 179.8h0M298.9 181.3h0M301.1 179.8h0M300.5 179.9h0M298.8 180.8h0M299.2 179.2h0M298.3 180.5h0M298.6 179.4h0M299.8 180.8h0M301.5 179.2h0M300.8 179.5h0M304.1 190.5h0M322.3 167.7h0M317.9 180.0h0M313.6 156.9h0M295.7 168.3h0M307.1 166.2h0M313.7 164.2h0M318.5 188.1h0M317.1 178.9h0M291.7 184.4h0"/>
<path stroke="#BE9C00" stroke-width="1.10" stroke-linecap="round" d="M314.6 184.8h0M314.9 182.3h0M315.8 183.7h0M317.5 180.9h0M314.5 182.3h0M313.7 181.8h0M312.6 179.4h0M313.2 179.3h0M319.0 181.6h0M315.0 177.6h0M314.2 184.3h0M317.9 181.1h0M314.6 182.0h0M315.8 179.7h0M314.0 183.0h0M311.9 180.3h0M317.6 180.5h0M312.3 180.3h0M313.6 179.2h0M313.0 184.8h0M314.1 182.0h0M315.8 180.2h0M314.7 179.6h0M314.8 179.5h0M314.3 180.6h0M316.3 183.2h0M315.5 182.5h0M315.6 178.4h0M316.1 178.6h0M313.4 181.4h0M317.1 183.8h0M316.7 179.6h0M314.3 183.4h0M313.2 183.5h0M317.5 182.2h0M318.4 180.9h0M315.9 182.6h0M311.2 181.8h0M316.5 182.1h0M316.3 180.5h0M313.7 178.6h0M314.3 185.0h0M314.1 179.0h0M314.3 177.8h0M315.8 180.2h0M315.9 182.4h0M318.3 182.7h0M316.5 183.5h0M311.5 182.0h0M316.9 179.8h0M321.9 164.9h0"/>
<path stroke="#00BBDA" stroke-width="1.10" stroke-linecap="round" d="M306.1 181.2h0M304.0 179.8h0M307.4 183.6h0M305.4 181.6h0M299.7 181.8h0M301.3 182.5h0M304.7 178.5h0M302.9 184.2h0M302.4 185.4h0M305.2 181.6h0M304.1 177.1h0M306.2 184.9h0M303.4 177.5h0M301.0 178.3h0M305.8 179.4h0M304.4 177.2h0M306.5 177.7h0M306.7 180.4h0M302.4 183.2h0M305.2 183.0h0M302.6 178.2h0M302.0 184.7h0M308.4 181.6h0M306.4 179.8h0M305.8 182.2h0M308.0 183.2h0M301.2 180.3h0M301.2 180.4h0M305.4 183.1h0M305.8 183.0h0M305.1 179.4h0M305.2 180.5h0M303.3 182.4h0M302.6 183.1h0M308.3 180.4h0M304.1 181.4h0M299.7 181.7h0M304.1 185.3h0M303.7 184.0h0M305.3 177.1h0M302.2 179.8h0M302.1 184.4h0M304.4 180.3h0M304.8 184.5h0M307.3 182.2h0M306.1 185.2h0M304.4 182.0h0M303.3 182.7h0M301.7 181.1h0M306.6 179.2h0M306.1 180.7h0M301.8 182.3h0M306.1 179.0h0M300.5 180.8h0M305.1 178.1h0M304.8 181.2h0M301.7 177.4h0M306.8 183.0h0M304.7 178.7h0M302.6 184.3h0M304.5 183.8h0M308.1 186.8h0M305.4 185.1h0M305.8 185.7h0M306.8 186.1h0M308.4 186.9h0M305.7 183.5h0M305.1 183.4h0M305.0 183.4h0M307.8 184.5h0M307.5 187.4h0M308.9 185.9h0M305.2 186.4h0M307.4 187.0h0M307.7 186.9h0M306.1 185.2h0M306.1 186.0h0M307.9 185.0h0M308.7 187.1h0M305.5 183.1h0M305.6 186.6h0M305.6 183.7h0M307.5 184.6h0M305.0 183.8h0M306.9 186.0h0M307.3 186.9h0M309.0 186.9h0M306.9 186.5h0M306.8 184.2h0M308.4 185.9h0M289.1 176.2h0M289.4 176.5h0M289.5 175.6h0M289.4 177.1h0M289.3 177.1h0M328.9 179.3h0M290.9 169.7h0M330.0 175.9h0"/>
<path stroke="#F962DD" stroke-width="1.10" stroke-linecap="round" d="M294.9 183.1h0M294.3 182.5h0M294.3 182.7h0M294.6 181.2h0M295.0 181.9h0M294.8 182.7h0M294.1 181.6h0M295.3 182.8h0M294.9 183.0h0M294.1 183.1h0"/>
<path stroke="#8B93FF" stroke-width="1.10" stroke-linecap="round" d="M297.5 188.6h0M300.9 189.2h0M300.4 187.9h0M300.8 188.0h0M297.5 187.9h0M300.3 188.2h0M300.9 188.5h0M300.9 188.5h0M299.9 189.2h0M297.4 188.2h0M298.6 188.5h0M300.2 189.4h0M301.5 188.7h0M298.8 187.8h0M298.5 187.8h0"/>
<path stroke="#D575FE" stroke-width="1.10" stroke-linecap="round" d="M308.3 191.4h0M308.7 190.1h0M309.8 191.1h0M308.2 190.2h0M308.6 190.1h0M308.3 191.1h0M309.5 190.9h0M309.2 190.4h0M308.1 190.0h0M309.2 190.0h0"/>
<text x="300.7" y="153.5" font-size="3.7" font-weight="bold" fill="#111" stroke="#111" stroke-width="0.12">Mac</text>
<text x="313.5" y="154.0" font-size="3.7" font-weight="bold" fill="#111" stroke="#111" stroke-width="0.12">LOH</text>
<text x="319.3" y="158.5" font-size="3.7" font-weight="bold" fill="#111" stroke="#111" stroke-width="0.12">EPC</text>
<text x="323.7" y="166.5" font-size="3.7" font-weight="bold" fill="#111" stroke="#111" stroke-width="0.12">Endo</text>
<text x="327.0" y="173.0" font-size="3.7" font-weight="bold" fill="#111" stroke="#111" stroke-width="0.12">Mas</text>
<text x="307.7" y="161.7" font-size="3.7" font-weight="bold" fill="#111" stroke="#111" stroke-width="0.12">PT</text>
<text x="312.8" y="173.5" font-size="3.7" font-weight="bold" fill="#111" stroke="#111" stroke-width="0.12">DCT</text>
<text x="286.6" y="177.5" font-size="3.7" font-weight="bold" fill="#111" stroke="#111" stroke-width="0.12">T/NK</text>
<text x="308.4" y="179.6" font-size="3.7" font-weight="bold" fill="#111" stroke="#111" stroke-width="0.12">CD</text>
<text x="293.6" y="183.0" font-size="3.7" font-weight="bold" fill="#111" stroke="#111" stroke-width="0.12">B</text>
<text x="298.0" y="183.0" font-size="3.7" font-weight="bold" fill="#111" stroke="#111" stroke-width="0.12">Fibro</text>
<text x="298.1" y="190.0" font-size="3.7" font-weight="bold" fill="#111" stroke="#111" stroke-width="0.12">Neu</text>
<text x="307.7" y="190.0" font-size="3.7" font-weight="bold" fill="#111" stroke="#111" stroke-width="0.12">Podo</text>
<text x="208.6" y="200.4" font-size="7.3" text-anchor="middle" fill="#111" font-weight="bold" stroke="#111" stroke-width="0.3">HOMO-07</text>
<path stroke="#24B700" stroke-width="1.10" stroke-linecap="round" d="M202.3 207.4h0M200.8 210.2h0M198.1 208.8h0M203.1 207.6h0M200.5 211.1h0M202.1 210.7h0M201.9 206.4h0M202.7 207.1h0M202.3 206.4h0M198.9 211.1h0M201.6 207.1h0M200.0 210.7h0M199.6 211.1h0M200.9 210.8h0M199.6 208.2h0M203.6 207.9h0M198.7 209.0h0M202.9 206.5h0M203.1 209.6h0M198.0 210.1h0M199.4 210.7h0M202.8 206.7h0M198.4 211.0h0M202.3 206.7h0M201.9 206.6h0M200.6 209.0h0M204.1 207.9h0M202.8 208.7h0M200.5 210.3h0M199.5 210.0h0M202.2 206.3h0M203.0 210.0h0M201.1 207.3h0M200.8 211.3h0M202.8 209.8h0M199.9 207.0h0M201.5 209.5h0M202.7 207.0h0M201.9 209.0h0M200.7 207.4h0M199.4 210.8h0M202.2 209.6h0M202.2 210.2h0M202.1 208.4h0M201.5 206.9h0M204.5 207.5h0M205.2 208.2h0M205.5 207.0h0M206.1 208.8h0M205.0 207.3h0M207.1 208.1h0M205.6 208.6h0M208.1 208.8h0M206.7 208.0h0M206.2 207.1h0M206.5 208.8h0M206.7 207.3h0M205.5 208.8h0M205.6 208.2h0M206.4 209.2h0M202.9 224.1h0M203.2 209.8h0M203.6 229.1h0M196.6 239.9h0M199.1 214.4h0"/>
<path stroke="#00BE70" stroke-width="1.10" stroke-linecap="round" d="M216.7 210.5h0M214.0 208.4h0M215.0 209.3h0M212.1 210.0h0M211.4 208.9h0M214.3 210.4h0M215.3 209.7h0M212.4 207.3h0M215.9 209.6h0M213.9 211.8h0M216.9 211.1h0M212.7 208.9h0M215.1 208.7h0M214.6 210.7h0M211.1 209.0h0M211.6 207.8h0M212.8 207.6h0M213.7 210.7h0M214.1 209.1h0M211.3 208.9h0M211.8 211.1h0M212.1 211.1h0M216.1 208.9h0M215.8 209.8h0M212.5 209.7h0M215.9 211.9h0M214.6 212.8h0M214.2 212.2h0M216.4 212.0h0M216.7 211.8h0M211.2 209.4h0M213.6 210.7h0M215.1 210.6h0M216.7 211.2h0M215.1 208.2h0M214.9 207.7h0M213.0 207.6h0M214.5 211.1h0M213.4 207.8h0M214.4 208.8h0M213.0 209.5h0M216.0 208.6h0M214.2 208.3h0M214.4 208.7h0M211.1 209.1h0M210.8 208.9h0M211.0 208.4h0M209.9 208.4h0M209.3 207.9h0M209.3 209.1h0M209.6 209.3h0M210.8 208.2h0M211.1 208.6h0M210.0 208.9h0M211.7 208.3h0M225.1 221.5h0M227.4 232.8h0M215.1 224.3h0M199.0 225.0h0M215.6 210.9h0M189.2 227.2h0"/>
<path stroke="#00ACFC" stroke-width="1.10" stroke-linecap="round" d="M220.8 211.8h0M220.3 212.4h0M220.7 211.8h0M221.2 212.0h0M219.3 212.1h0M220.5 211.1h0M220.8 211.5h0M220.9 212.6h0M220.5 212.4h0M220.2 211.2h0M219.9 212.3h0M218.9 211.4h0M190.0 225.0h0M213.5 229.5h0M219.2 232.3h0M212.8 212.7h0"/>
<path stroke="#8CAB00" stroke-width="1.10" stroke-linecap="round" d="M226.0 217.5h0M219.7 222.5h0M223.1 220.8h0M224.5 221.3h0M226.1 217.9h0M225.2 218.9h0M226.2 218.2h0M224.9 220.3h0M228.0 218.3h0M225.3 218.1h0M220.1 223.1h0M221.3 222.8h0M220.5 224.1h0M221.4 223.4h0M222.8 222.2h0M222.2 220.4h0M223.3 219.8h0M225.2 218.3h0M223.0 220.4h0M221.7 223.0h0M226.6 219.7h0M225.4 219.0h0M227.3 218.3h0M223.6 221.0h0M223.4 221.2h0M223.1 220.6h0M222.4 221.7h0M220.3 224.1h0M221.7 221.0h0M223.9 221.1h0M221.8 222.8h0M222.1 222.2h0M226.4 219.3h0M224.5 221.1h0M222.4 220.7h0M225.5 220.5h0M227.3 218.6h0M227.1 217.3h0M227.9 218.4h0M220.8 223.3h0M227.4 219.7h0M225.9 219.0h0M222.8 219.5h0M223.2 221.3h0M223.7 221.4h0M224.2 219.3h0M222.7 221.2h0M224.3 219.4h0M224.6 218.9h0M223.6 219.2h0M222.6 219.5h0M222.8 218.3h0M222.3 219.4h0M224.1 220.4h0M226.4 219.2h0M222.7 219.0h0M225.1 218.5h0M225.6 221.5h0M223.7 221.3h0M226.9 220.0h0M196.4 240.1h0M217.6 241.6h0M208.4 215.2h0"/>
<path stroke="#FF65AC" stroke-width="1.10" stroke-linecap="round" d="M228.5 229.8h0M228.2 229.2h0M228.2 228.5h0M228.0 230.3h0M229.3 230.0h0M228.6 228.3h0"/>
<path stroke="#EC8A06" stroke-width="1.10" stroke-linecap="round" d="M190.8 223.7h0M192.4 227.9h0M192.2 221.4h0M193.0 226.2h0M194.1 224.3h0M193.0 226.7h0M194.1 220.4h0M190.7 223.7h0M194.7 225.5h0M190.5 224.3h0M194.0 223.2h0M195.6 222.6h0M191.1 221.9h0M193.8 222.5h0M192.6 227.5h0M193.2 222.9h0M194.3 224.9h0M193.4 223.0h0M192.1 227.0h0M196.0 223.9h0M192.9 225.6h0M192.7 224.4h0M190.9 223.9h0M193.6 225.5h0M194.7 221.4h0M193.2 223.6h0M192.3 220.2h0M192.1 227.0h0M193.8 222.5h0M194.4 222.8h0M195.0 220.7h0M191.3 224.1h0M195.9 222.5h0M192.2 224.8h0M195.2 224.3h0M191.2 223.4h0M192.1 224.6h0M191.9 222.0h0M195.1 226.9h0M194.3 226.2h0M191.1 220.8h0M191.3 223.3h0M191.3 226.9h0M190.7 222.3h0M191.9 221.2h0M193.4 223.1h0M191.7 226.5h0M194.1 219.6h0M192.6 222.2h0M194.2 225.1h0M192.7 226.9h0M191.4 226.3h0M193.8 222.5h0M194.5 226.3h0M191.9 223.9h0M193.3 222.5h0M191.4 225.9h0M192.0 220.8h0M194.3 220.7h0M193.6 220.7h0M193.2 221.3h0M193.5 224.8h0M193.7 224.2h0M195.0 224.0h0M192.8 221.2h0M194.3 220.2h0M192.3 220.3h0M195.6 222.6h0M194.3 223.4h0M194.1 222.8h0M195.3 221.3h0M192.1 220.3h0M191.7 222.9h0M190.8 225.0h0M192.3 225.3h0M191.2 220.5h0M191.4 224.7h0M192.9 227.8h0M194.2 221.6h0M191.7 222.0h0M194.3 217.7h0M203.8 212.8h0M203.6 215.2h0M197.3 215.6h0M197.1 216.4h0M194.4 217.9h0M203.6 213.3h0M194.2 217.3h0M202.4 214.6h0M199.3 214.6h0M202.5 213.9h0M198.4 215.3h0M200.5 214.8h0M204.2 213.4h0M194.0 218.6h0M200.8 215.7h0M203.2 215.2h0M195.2 217.9h0M194.6 218.0h0M195.0 216.0h0M198.8 215.9h0M194.8 216.1h0M203.3 213.1h0M198.8 214.9h0M199.5 215.2h0M196.9 215.7h0M198.7 215.4h0M200.8 214.8h0M203.6 213.1h0M200.4 214.8h0M202.1 214.5h0M199.4 214.6h0M200.6 214.8h0M195.2 217.9h0M197.2 217.4h0M202.6 215.0h0M193.9 217.0h0M199.5 214.9h0M197.7 216.6h0M200.0 216.0h0M202.9 235.4h0M201.3 228.7h0M206.5 233.6h0M213.5 227.7h0M197.8 212.7h0M224.2 227.5h0M223.0 228.2h0M191.9 224.4h0"/>
<path stroke="#F8766D" stroke-width="1.10" stroke-linecap="round" d="M212.7 226.8h0M220.8 232.1h0M214.3 229.3h0M216.4 224.9h0M218.3 228.3h0M219.9 233.4h0M217.9 225.8h0M220.9 231.8h0M216.2 224.9h0M220.0 231.4h0M220.1 233.4h0M214.6 232.2h0M207.8 231.3h0M212.5 229.0h0M217.0 234.0h0M210.7 227.9h0M219.8 232.1h0M214.9 232.4h0M203.7 225.5h0M210.8 231.8h0M213.8 232.7h0M214.7 229.5h0M215.6 227.7h0M219.8 233.0h0M213.4 231.5h0M211.2 232.6h0M216.7 235.0h0M216.4 226.3h0M211.1 228.9h0M217.1 226.7h0M212.8 234.6h0M210.7 230.2h0M215.4 232.5h0M220.1 231.7h0M209.2 232.6h0M217.2 229.0h0M215.7 229.1h0M214.1 228.6h0M207.6 228.3h0M219.6 228.0h0M207.5 226.4h0M216.1 231.7h0M210.8 223.9h0M206.9 227.4h0M209.6 222.5h0M215.6 224.4h0M210.8 222.9h0M212.9 228.6h0M216.9 229.2h0M216.4 229.4h0M216.1 225.6h0M214.8 233.4h0M216.0 225.2h0M204.6 225.4h0M217.4 228.8h0M206.8 231.6h0M205.3 226.7h0M215.7 232.9h0M214.4 232.4h0M206.0 229.4h0M206.5 224.6h0M214.3 224.4h0M213.9 233.4h0M219.2 231.7h0M216.9 228.1h0M214.7 234.4h0M212.8 223.8h0M205.3 226.6h0M217.2 231.5h0M213.6 227.2h0M211.0 224.3h0M215.9 224.8h0M214.7 230.8h0M216.5 233.7h0M209.0 230.3h0M213.9 229.2h0M210.5 224.4h0M214.4 233.0h0M216.2 230.2h0M219.6 230.1h0M217.6 233.6h0M216.0 226.5h0M209.9 230.6h0M206.4 224.1h0M218.3 227.5h0M213.4 225.8h0M206.7 229.1h0M210.5 231.9h0M210.1 226.2h0M203.7 226.4h0M208.4 223.2h0M220.1 230.0h0M215.1 228.7h0M207.3 229.2h0M219.2 229.0h0M208.2 226.8h0M207.9 224.1h0M220.1 228.5h0M207.6 228.5h0M216.4 226.0h0M211.8 225.3h0M217.8 231.0h0M219.1 232.8h0M215.6 233.3h0M215.1 224.4h0M217.9 231.3h0M215.0 228.3h0M211.0 229.6h0M211.1 223.0h0M220.8 232.0h0M210.5 222.7h0M211.7 231.7h0M207.8 227.9h0M219.1 229.9h0M206.4 228.9h0M211.2 233.0h0M206.0 225.6h0M212.3 233.6h0M219.9 233.2h0M206.1 222.8h0M206.4 226.9h0M218.3 231.0h0M210.1 223.1h0M211.1 224.0h0M211.1 230.8h0M209.8 225.4h0M207.3 231.2h0M221.1 231.6h0M207.1 225.5h0M216.8 227.8h0M219.9 231.0h0M216.9 227.3h0M218.7 231.8h0M204.9 228.5h0M220.1 229.7h0M207.8 224.7h0M206.7 222.9h0M215.7 229.5h0M215.1 233.6h0M210.9 224.9h0M214.1 226.7h0M208.5 224.3h0M217.4 233.9h0M213.7 232.6h0M214.7 225.9h0M214.4 224.9h0M217.2 225.3h0M208.8 222.9h0M208.3 230.7h0M206.7 227.9h0M209.2 228.1h0M216.0 231.7h0M207.0 224.8h0M211.3 224.0h0M215.4 233.3h0M216.4 231.9h0M211.4 223.9h0M212.7 229.7h0M205.5 224.5h0M219.7 228.1h0M208.2 231.7h0M207.6 228.2h0M209.2 223.4h0M213.1 234.5h0M207.6 226.0h0M209.7 226.6h0M215.8 232.9h0M214.0 225.2h0M207.2 223.3h0M204.6 226.0h0M215.5 230.1h0M211.7 231.7h0M216.2 231.5h0M213.1 231.5h0M206.5 226.4h0M208.4 224.9h0M217.0 228.8h0M211.2 224.1h0M218.6 233.7h0M212.6 226.1h0M216.2 227.3h0M214.4 227.6h0M206.4 225.0h0M204.0 225.3h0M210.8 230.7h0M208.6 226.8h0M212.6 223.7h0M220.4 231.9h0M215.0 232.3h0M207.4 229.2h0M212.7 232.0h0M209.9 232.1h0M213.2 226.2h0M209.3 224.9h0M210.6 231.7h0M216.3 226.6h0M212.2 225.8h0M215.8 226.6h0M217.6 229.8h0M217.4 231.8h0M208.4 230.2h0M209.8 222.8h0M205.2 225.7h0M217.3 228.9h0M212.0 223.7h0M207.7 226.8h0M212.9 224.8h0M205.6 223.1h0M216.3 229.7h0M216.0 231.1h0M209.9 232.3h0M217.8 232.0h0M213.5 234.6h0M209.9 229.6h0M214.8 229.1h0M217.6 226.4h0M213.9 225.1h0M218.9 231.4h0M211.4 232.9h0M204.8 226.6h0M217.8 232.8h0M218.5 226.1h0M213.1 233.4h0M209.3 229.4h0M215.7 224.4h0M218.8 232.5h0M210.1 228.7h0M215.2 231.7h0M209.9 231.6h0M216.3 234.7h0M216.6 229.6h0M208.5 232.5h0M208.2 222.5h0M208.1 226.9h0M213.1 228.0h0M214.2 231.2h0M208.5 227.8h0M205.6 224.1h0M214.6 233.2h0M210.8 233.3h0M205.2 226.1h0M208.0 228.4h0M207.2 230.5h0M206.2 227.2h0M208.4 232.1h0M213.2 232.8h0M209.7 231.6h0M216.1 230.3h0M217.9 232.2h0M217.7 229.4h0M209.6 222.5h0M219.0 227.6h0M213.9 234.0h0M204.5 227.3h0M219.8 234.0h0M210.9 227.6h0M205.8 225.9h0M209.3 232.9h0M211.4 225.9h0M205.3 226.7h0M212.7 223.9h0M218.5 229.6h0M211.4 231.4h0M206.2 228.7h0M205.1 227.2h0M217.9 228.1h0M213.0 228.5h0M219.9 230.2h0M216.8 229.6h0M220.3 232.9h0M211.0 226.3h0M211.5 230.9h0M214.3 233.0h0M205.0 225.1h0M215.0 234.1h0M210.7 229.3h0M212.2 225.9h0M215.5 227.2h0M213.5 234.0h0M215.3 231.1h0M208.7 229.4h0M214.7 226.7h0M212.7 223.3h0M209.8 228.8h0M213.6 226.8h0M219.8 227.7h0M214.0 228.7h0M207.4 226.4h0M210.0 232.6h0M218.1 228.5h0M216.4 228.4h0M211.9 223.0h0M208.0 223.2h0M219.4 227.9h0M209.4 230.9h0M207.6 230.4h0M214.5 228.3h0M217.0 234.7h0M215.1 232.0h0M207.4 227.1h0M215.2 224.7h0M211.3 232.6h0M216.7 232.8h0M210.5 232.2h0M213.3 231.6h0M211.4 232.3h0M205.3 229.8h0M218.9 229.5h0M212.9 230.6h0M210.6 229.4h0M215.8 226.6h0M213.7 233.5h0M208.0 222.6h0M219.2 228.1h0M204.4 225.4h0M219.0 227.7h0M217.9 233.7h0M216.0 230.0h0M216.8 233.7h0M216.7 234.7h0M213.1 230.2h0M204.8 226.1h0M216.4 226.0h0M212.5 232.6h0M220.4 230.9h0M209.3 225.4h0M219.1 232.6h0M212.6 227.7h0M212.2 232.8h0M218.5 227.6h0M222.2 232.4h0M222.1 231.9h0M218.3 234.5h0M220.1 235.2h0M218.9 232.8h0M219.9 232.5h0M218.1 234.4h0M222.6 232.1h0M223.2 233.2h0M219.4 235.8h0M221.8 233.2h0M222.1 234.0h0M220.3 230.9h0M219.9 232.8h0M219.9 232.9h0M219.9 234.8h0M219.8 232.0h0M220.0 231.0h0M218.1 233.1h0M220.0 236.2h0M217.6 234.2h0M220.5 234.0h0M218.1 232.0h0M220.7 232.4h0M219.0 232.8h0M219.3 236.0h0M219.6 230.9h0M221.5 231.3h0M218.7 231.6h0M220.4 234.0h0M220.1 236.7h0M219.9 234.3h0M221.0 231.0h0M217.8 233.6h0M217.9 233.2h0M219.6 234.8h0M220.4 236.4h0M219.3 236.2h0M219.9 235.3h0M218.9 232.1h0M215.8 227.8h0M215.0 220.1h0M230.9 223.4h0"/>
<path stroke="#00C1AB" stroke-width="1.10" stroke-linecap="round" d="M209.1 223.6h0M207.1 223.6h0M211.3 222.3h0M208.0 224.0h0M211.3 223.1h0M206.2 222.7h0M208.3 222.5h0M211.7 222.2h0M210.3 222.1h0M210.1 223.1h0M208.8 222.7h0M207.9 223.1h0M207.9 224.0h0M208.7 223.5h0M210.8 223.0h0M207.3 221.9h0M210.4 222.3h0M210.3 223.5h0M209.5 221.8h0M210.9 222.7h0M210.4 223.7h0M209.9 223.9h0M207.5 224.0h0M211.4 221.7h0M208.2 223.8h0M207.5 223.4h0M208.9 222.3h0M208.8 223.7h0M210.7 221.4h0M209.7 221.3h0M207.6 222.9h0M211.9 222.4h0M209.8 221.6h0M211.0 223.2h0M210.0 222.6h0M204.1 237.3h0M203.7 235.0h0M205.6 238.4h0M203.4 233.1h0M199.9 237.5h0M207.4 234.4h0M200.8 233.3h0M207.1 237.9h0M200.2 235.5h0M204.3 234.5h0M204.1 232.7h0M203.7 235.3h0M203.0 238.9h0M207.5 235.1h0M206.3 236.5h0M204.2 237.0h0M204.3 238.0h0M205.8 238.7h0M200.7 232.6h0M201.8 236.2h0M199.6 234.3h0M206.4 236.5h0M204.6 237.4h0M202.9 231.8h0M204.4 237.5h0M200.5 234.2h0M203.9 238.3h0M206.2 236.0h0M203.5 236.9h0M200.1 233.2h0M204.8 235.3h0M205.6 239.2h0M205.0 232.2h0M199.7 235.4h0M200.5 235.0h0M199.9 234.3h0M200.2 234.0h0M199.6 234.4h0M199.0 235.8h0M199.0 235.3h0M199.1 234.0h0M200.5 236.3h0M200.1 235.5h0M198.6 235.4h0M198.7 233.1h0M198.8 235.7h0M199.9 235.5h0M200.9 235.5h0M200.9 233.9h0M201.3 235.1h0M200.0 234.9h0M200.0 234.7h0M198.9 236.3h0M199.6 236.1h0M198.3 236.1h0M198.2 234.1h0M200.8 233.5h0M198.6 235.0h0M195.9 233.7h0M200.2 209.6h0"/>
<path stroke="#BE9C00" stroke-width="1.10" stroke-linecap="round" d="M215.2 235.9h0M212.8 234.6h0M217.4 235.5h0M213.4 237.2h0M213.4 236.1h0M214.7 236.3h0M216.7 236.9h0M216.4 234.5h0M212.9 234.8h0M215.9 236.5h0M216.0 234.5h0M214.1 233.5h0M216.0 235.4h0M214.3 236.2h0M214.7 236.9h0M214.3 234.6h0M215.0 234.9h0M215.3 235.5h0M216.5 233.6h0M213.9 236.5h0M213.0 236.6h0M215.4 233.3h0M214.3 233.6h0M212.7 233.9h0M216.1 237.2h0M215.5 234.8h0M213.3 236.3h0M215.8 236.9h0M214.3 236.5h0M214.4 237.1h0M213.0 236.1h0M215.5 233.1h0M212.2 236.0h0M216.9 234.2h0M216.5 234.7h0M217.0 235.1h0M214.4 233.9h0M215.2 237.7h0M214.1 237.1h0M215.2 233.5h0M214.2 233.2h0M216.0 235.8h0M217.1 235.2h0M213.1 236.3h0M213.1 233.7h0M218.8 238.3h0M216.9 238.3h0M217.6 238.6h0M219.5 236.9h0M217.9 236.6h0M218.8 238.7h0M216.9 237.4h0M219.0 237.8h0M219.2 239.1h0M218.7 236.3h0M219.4 238.7h0M218.2 237.8h0M218.1 238.6h0M224.6 218.0h0M212.7 206.9h0M212.5 221.3h0M205.2 239.8h0M197.6 224.7h0M206.9 242.7h0M227.0 222.6h0"/>
<path stroke="#00BBDA" stroke-width="1.10" stroke-linecap="round" d="M203.4 238.6h0M203.5 238.9h0M201.1 232.1h0M201.0 238.8h0M201.5 234.7h0M202.0 232.7h0M204.8 239.5h0M207.1 236.3h0M205.5 233.3h0M202.3 239.2h0M200.2 233.0h0M201.3 232.4h0M207.1 237.0h0M203.2 239.3h0M203.3 233.8h0M204.1 235.0h0M206.1 236.8h0M205.2 234.1h0M201.8 232.1h0M203.3 238.2h0M206.5 236.2h0M203.0 234.5h0M206.1 237.0h0M202.5 232.8h0M203.0 232.8h0M205.4 237.3h0M200.4 235.3h0M201.3 234.8h0M202.3 231.7h0M201.5 236.6h0M204.7 238.0h0M204.2 232.1h0M201.7 239.3h0M200.6 234.4h0M204.1 239.9h0M205.4 236.0h0M201.7 232.9h0M202.7 236.8h0M206.9 233.0h0M206.4 234.0h0M203.8 234.9h0M200.9 237.8h0M204.7 237.6h0M204.0 232.1h0M202.7 231.6h0M201.1 239.3h0M206.5 238.5h0M203.0 234.5h0M200.7 234.5h0M202.2 233.2h0M200.9 239.1h0M201.8 233.9h0M202.0 234.2h0M199.6 237.8h0M204.3 237.5h0M205.0 237.0h0M200.1 238.4h0M207.9 239.5h0M208.8 239.6h0M205.4 237.6h0M205.8 239.1h0M206.4 241.5h0M208.6 239.9h0M204.6 239.3h0M205.8 239.4h0M205.3 237.9h0M207.6 239.8h0M208.9 239.8h0M209.0 240.6h0M208.6 241.2h0M208.8 241.4h0M205.1 237.8h0M204.3 239.5h0M204.0 238.7h0M205.3 239.4h0M205.7 240.6h0M205.6 240.3h0M204.7 238.7h0M205.5 238.7h0M205.5 240.8h0M208.7 240.6h0M207.4 240.4h0M204.9 240.0h0M204.9 238.0h0M208.5 239.3h0M205.5 238.6h0M206.4 238.0h0M188.9 230.2h0M187.9 231.5h0M188.6 230.2h0M188.2 231.5h0M189.1 231.3h0M207.1 238.7h0M217.3 221.3h0M204.3 215.5h0M202.3 211.7h0M204.6 218.8h0M195.3 231.3h0"/>
<path stroke="#F962DD" stroke-width="1.10" stroke-linecap="round" d="M195.3 236.9h0M193.3 235.9h0M193.5 237.5h0M193.3 237.4h0M193.2 236.1h0M193.4 236.1h0M194.4 236.7h0M194.8 236.7h0M193.9 236.7h0M194.4 236.9h0"/>
<path stroke="#8B93FF" stroke-width="1.10" stroke-linecap="round" d="M199.9 242.5h0M198.7 243.5h0M200.2 243.2h0M198.6 242.3h0M198.2 242.2h0M199.4 242.1h0M197.9 243.4h0M200.7 242.6h0M198.0 242.0h0M197.4 242.8h0M199.2 242.7h0M197.0 242.7h0M197.3 242.3h0M200.1 243.7h0M199.5 242.3h0"/>
<path stroke="#D575FE" stroke-width="1.10" stroke-linecap="round" d="M207.4 245.1h0M207.9 244.4h0M208.6 245.2h0M208.0 245.6h0M208.4 245.6h0M208.2 245.3h0M208.5 245.3h0M208.6 244.1h0M208.2 244.0h0M209.7 244.9h0"/>
<text x="200.2" y="207.9" font-size="3.7" font-weight="bold" fill="#111" stroke="#111" stroke-width="0.12">Mac</text>
<text x="213.0" y="208.4" font-size="3.7" font-weight="bold" fill="#111" stroke="#111" stroke-width="0.12">LOH</text>
<text x="218.8" y="212.9" font-size="3.7" font-weight="bold" fill="#111" stroke="#111" stroke-width="0.12">EPC</text>
<text x="223.2" y="220.9" font-size="3.7" font-weight="bold" fill="#111" stroke="#111" stroke-width="0.12">Endo</text>
<text x="226.5" y="227.4" font-size="3.7" font-weight="bold" fill="#111" stroke="#111" stroke-width="0.12">Mas</text>
<text x="197.1" y="219.8" font-size="3.7" font-weight="bold" fill="#111" stroke="#111" stroke-width="0.12">PT</text>
<text x="212.3" y="227.9" font-size="3.7" font-weight="bold" fill="#111" stroke="#111" stroke-width="0.12">DCT</text>
<text x="186.1" y="231.9" font-size="3.7" font-weight="bold" fill="#111" stroke="#111" stroke-width="0.12">T/NK</text>
<text x="213.8" y="238.4" font-size="3.7" font-weight="bold" fill="#111" stroke="#111" stroke-width="0.12">CD</text>
<text x="193.1" y="237.4" font-size="3.7" font-weight="bold" fill="#111" stroke="#111" stroke-width="0.12">B</text>
<text x="197.5" y="237.4" font-size="3.7" font-weight="bold" fill="#111" stroke="#111" stroke-width="0.12">Fibro</text>
<text x="197.6" y="244.4" font-size="3.7" font-weight="bold" fill="#111" stroke="#111" stroke-width="0.12">Neu</text>
<text x="207.2" y="244.4" font-size="3.7" font-weight="bold" fill="#111" stroke="#111" stroke-width="0.12">Podo</text>
<text x="258.6" y="200.4" font-size="7.3" text-anchor="middle" fill="#111" font-weight="bold" stroke="#111" stroke-width="0.3">HOMO-14</text>
<path stroke="#24B700" stroke-width="1.10" stroke-linecap="round" d="M251.2 209.0h0M249.6 207.3h0M253.6 207.0h0M253.0 210.0h0M249.4 208.8h0M248.8 209.4h0M250.5 208.1h0M250.5 208.4h0M248.7 210.1h0M249.3 210.4h0M253.6 206.8h0M250.9 206.7h0M249.8 210.4h0M251.0 210.5h0M252.6 207.0h0M251.8 206.6h0M249.2 208.2h0M249.1 208.4h0M249.2 211.3h0M253.8 207.8h0M250.5 211.1h0M250.6 207.6h0M252.0 207.6h0M248.3 210.9h0M251.1 210.8h0M252.4 207.0h0M252.2 210.5h0M250.6 208.7h0M253.1 208.1h0M251.4 206.9h0M251.9 207.2h0M253.9 207.2h0M253.2 209.1h0M250.1 209.7h0M251.0 207.7h0M250.7 209.1h0M248.5 209.2h0M251.1 207.5h0M253.7 209.3h0M254.0 208.3h0M252.2 208.3h0M250.2 210.9h0M248.6 210.4h0M250.1 207.0h0M249.0 210.0h0M256.7 207.5h0M256.3 208.5h0M255.3 207.6h0M254.9 206.8h0M254.3 208.2h0M257.5 208.9h0M256.6 207.5h0M257.0 209.2h0M256.5 207.1h0M253.8 207.6h0M256.3 208.6h0M256.2 207.9h0M255.9 207.6h0M256.2 207.2h0M257.1 207.9h0M249.4 210.8h0M238.6 228.6h0M252.9 230.2h0M259.7 207.2h0M243.5 236.7h0M248.9 221.9h0M265.8 242.0h0"/>
<path stroke="#00BE70" stroke-width="1.10" stroke-linecap="round" d="M261.1 208.9h0M266.6 211.0h0M264.5 207.7h0M267.1 211.0h0M262.2 207.9h0M264.3 208.4h0M265.8 210.1h0M261.8 208.6h0M265.3 209.9h0M263.3 207.9h0M264.5 211.3h0M263.1 207.5h0M262.7 207.1h0M265.5 211.6h0M263.9 207.3h0M263.2 211.7h0M264.3 209.6h0M263.0 209.5h0M262.8 207.7h0M264.4 210.6h0M263.9 209.4h0M262.6 211.5h0M263.0 208.4h0M261.8 210.9h0M265.4 212.2h0M262.2 208.7h0M264.1 208.4h0M262.6 207.7h0M261.9 207.6h0M261.7 208.0h0M262.9 211.8h0M266.8 209.8h0M267.0 211.2h0M262.2 208.5h0M261.6 209.4h0M261.1 208.6h0M266.9 211.7h0M264.6 208.0h0M266.7 210.0h0M264.6 207.5h0M266.3 211.7h0M261.4 209.2h0M262.7 208.1h0M265.8 209.0h0M266.4 210.2h0M258.7 208.9h0M261.0 208.0h0M260.3 208.9h0M258.7 209.3h0M258.5 208.4h0M260.0 209.6h0M261.7 208.6h0M258.6 208.8h0M258.5 208.3h0M261.7 208.5h0M275.8 221.4h0M241.8 214.5h0M278.4 217.1h0M255.5 230.8h0"/>
<path stroke="#00ACFC" stroke-width="1.10" stroke-linecap="round" d="M268.4 211.9h0M269.3 211.3h0M268.6 212.3h0M270.2 213.1h0M271.1 211.7h0M269.7 213.2h0M269.7 211.3h0M269.5 211.1h0M270.0 212.5h0M270.0 211.8h0M269.8 211.2h0M270.3 211.6h0M274.8 230.6h0M260.0 208.4h0M240.6 212.9h0M258.8 220.9h0M259.8 222.5h0M247.8 208.5h0"/>
<path stroke="#8CAB00" stroke-width="1.10" stroke-linecap="round" d="M274.9 218.7h0M273.5 221.2h0M270.5 221.8h0M270.7 223.1h0M272.6 220.1h0M275.1 219.7h0M271.1 223.1h0M269.7 223.2h0M268.7 224.9h0M277.1 219.6h0M272.6 219.8h0M271.2 221.2h0M269.0 224.6h0M278.2 218.9h0M276.8 217.1h0M272.1 221.1h0M273.7 221.2h0M276.7 217.8h0M273.0 221.5h0M272.7 222.8h0M270.1 222.2h0M275.9 219.0h0M270.0 221.9h0M273.8 221.5h0M273.8 220.0h0M277.1 219.5h0M274.9 220.5h0M275.5 219.0h0M274.2 221.6h0M276.5 217.4h0M270.7 224.5h0M271.3 223.4h0M268.1 223.3h0M268.9 224.6h0M269.9 223.8h0M275.6 218.1h0M277.0 219.1h0M274.3 219.1h0M269.1 222.7h0M272.8 221.2h0M269.1 225.1h0M271.7 223.4h0M269.0 223.0h0M273.8 218.9h0M275.7 219.8h0M272.5 223.2h0M273.0 221.8h0M272.7 221.5h0M272.4 223.3h0M273.3 221.4h0M276.8 217.0h0M270.0 223.6h0M274.9 219.9h0M271.5 221.3h0M273.4 219.3h0M276.3 226.0h0M274.8 223.8h0M274.7 220.8h0M273.8 221.2h0M272.8 220.1h0M275.0 224.0h0M273.6 221.0h0M274.2 220.8h0M272.8 218.9h0M273.2 220.4h0M275.4 224.1h0M275.5 225.0h0M276.2 224.3h0M275.9 225.7h0M277.5 223.8h0M272.4 218.2h0M271.9 217.8h0M273.0 221.5h0M274.3 223.6h0M274.8 221.6h0M276.1 224.0h0M271.1 219.6h0M271.8 217.3h0M272.2 220.8h0M275.2 224.3h0M275.6 222.2h0M276.2 225.1h0M275.5 224.0h0M275.1 224.4h0M273.4 220.3h0M273.4 220.0h0M276.7 225.1h0M273.7 219.8h0M274.8 223.8h0M273.3 222.4h0M272.1 218.3h0M275.2 224.5h0M273.4 219.9h0M277.4 224.0h0M276.5 223.2h0M277.0 223.5h0M270.6 218.8h0M272.7 218.4h0M276.2 225.1h0M274.2 221.3h0M274.9 213.5h0M236.9 224.1h0M255.7 210.8h0M264.9 241.5h0M248.7 223.5h0M234.9 228.4h0M248.5 239.4h0M257.3 215.2h0M272.5 217.7h0M261.9 207.3h0"/>
<path stroke="#FF65AC" stroke-width="1.10" stroke-linecap="round" d="M278.7 229.4h0M278.3 230.6h0M279.1 230.5h0M279.2 230.2h0M278.9 230.4h0M278.4 229.5h0"/>
<path stroke="#EC8A06" stroke-width="1.10" stroke-linecap="round" d="M247.5 224.4h0M245.7 229.2h0M245.7 217.0h0M247.7 224.6h0M248.0 226.3h0M247.6 226.1h0M241.0 223.9h0M247.5 219.0h0M243.2 221.1h0M242.3 223.4h0M241.3 223.6h0M244.4 220.2h0M248.7 223.3h0M245.8 226.0h0M249.1 218.7h0M244.0 229.2h0M242.4 223.4h0M242.2 222.5h0M249.0 220.6h0M247.0 219.2h0M241.7 220.6h0M248.3 221.6h0M243.6 217.5h0M248.8 220.3h0M248.2 219.0h0M243.2 221.4h0M241.2 226.8h0M245.9 220.4h0M241.7 225.4h0M242.8 218.2h0M241.0 224.0h0M241.2 220.4h0M244.0 223.2h0M245.8 216.5h0M245.9 223.0h0M241.8 220.9h0M247.7 226.8h0M247.1 220.4h0M243.1 225.8h0M242.2 228.1h0M240.8 223.6h0M249.1 220.3h0M242.4 222.5h0M242.2 217.9h0M247.5 218.8h0M244.7 218.5h0M246.6 216.6h0M248.2 223.5h0M242.7 224.7h0M244.9 222.5h0M247.8 223.4h0M244.7 222.9h0M242.7 227.2h0M248.7 221.2h0M241.8 226.8h0M245.4 218.7h0M248.1 220.5h0M244.0 224.2h0M247.5 220.1h0M246.0 222.1h0M241.6 226.6h0M248.7 221.0h0M244.5 227.2h0M247.0 221.8h0M244.0 224.6h0M244.7 221.8h0M247.5 219.4h0M244.1 224.7h0M244.3 222.1h0M243.6 226.7h0M243.8 220.1h0M243.7 217.3h0M240.7 224.1h0M243.1 224.1h0M244.7 217.9h0M243.1 222.8h0M242.8 228.1h0M244.6 225.9h0M242.9 227.5h0M242.3 227.3h0M243.9 223.3h0M246.5 225.4h0M246.3 224.6h0M244.9 222.2h0M244.0 219.8h0M248.7 225.1h0M241.4 223.5h0M246.3 227.4h0M246.9 221.8h0M243.3 226.4h0M243.1 219.6h0M245.7 217.0h0M243.2 227.2h0M243.2 224.0h0M245.0 227.7h0M245.6 221.6h0M245.2 227.4h0M240.8 225.3h0M248.2 221.7h0M242.5 227.9h0M248.0 221.8h0M243.5 219.3h0M241.7 226.2h0M242.2 223.7h0M248.7 225.2h0M246.6 226.8h0M242.2 222.5h0M243.7 225.3h0M246.3 229.0h0M246.7 228.3h0M248.1 217.6h0M244.8 220.6h0M243.0 219.9h0M243.6 224.1h0M243.7 225.8h0M242.7 218.6h0M241.7 223.7h0M243.4 225.7h0M246.1 229.1h0M245.1 216.8h0M245.1 229.2h0M247.0 219.1h0M240.9 225.0h0M244.3 228.6h0M248.4 225.2h0M247.9 226.1h0M246.9 216.7h0M243.9 218.6h0M247.5 227.2h0M244.6 216.2h0M243.5 227.7h0M248.9 223.5h0M247.4 219.7h0M244.5 221.8h0M245.9 222.1h0M242.1 218.7h0M245.2 219.2h0M248.6 220.7h0M244.4 217.6h0M241.4 223.2h0M247.2 224.9h0M244.8 229.5h0M242.8 218.9h0M241.9 224.5h0M243.6 217.3h0M245.1 222.8h0M243.0 225.7h0M244.1 219.4h0M241.6 222.9h0M246.3 219.1h0M245.9 218.2h0M243.9 223.4h0M242.3 217.9h0M242.4 227.9h0M246.5 222.9h0M246.7 224.9h0M241.9 227.0h0M243.7 217.0h0M242.1 226.4h0M243.3 217.9h0M245.6 224.7h0M247.6 223.1h0M244.8 227.0h0M244.1 216.7h0M247.6 226.3h0M242.5 224.1h0M243.6 218.2h0M242.9 221.6h0M244.3 223.1h0M244.9 225.7h0M248.7 219.6h0M244.0 216.3h0M244.9 223.7h0M248.7 224.5h0M246.1 223.6h0M246.1 217.5h0M247.2 226.3h0M245.9 222.9h0M247.1 224.4h0M243.7 225.5h0M240.8 222.0h0M248.8 218.3h0M246.1 223.8h0M248.0 221.4h0M242.4 221.4h0M244.3 218.5h0M241.1 227.2h0M247.6 222.7h0M246.3 223.3h0M247.0 226.0h0M248.8 222.8h0M245.3 224.4h0M242.7 228.2h0M246.3 219.0h0M246.2 222.2h0M243.2 221.2h0M246.5 219.2h0M244.5 224.3h0M244.3 216.1h0M242.8 220.1h0M247.1 219.7h0M241.8 219.0h0M242.5 222.6h0M243.8 217.2h0M242.6 226.1h0M247.3 217.7h0M245.0 218.8h0M247.1 224.0h0M246.7 218.7h0M244.4 220.0h0M247.4 222.6h0M249.1 221.8h0M247.7 221.5h0M245.9 220.4h0M246.5 218.6h0M245.2 223.1h0M249.2 220.9h0M245.8 218.7h0M242.6 220.2h0M242.9 218.7h0M249.7 216.6h0M246.4 215.9h0M249.9 214.4h0M251.0 216.0h0M251.3 213.4h0M248.2 216.7h0M249.6 216.6h0M245.2 217.3h0M250.5 213.7h0M255.6 214.4h0M255.7 214.9h0M253.2 215.2h0M246.8 215.9h0M248.9 216.0h0M245.7 215.6h0M245.9 214.9h0M245.8 216.4h0M244.9 217.2h0M247.6 217.0h0M255.9 212.7h0M247.0 217.3h0M252.3 215.4h0M256.2 215.1h0M250.7 213.7h0M248.3 216.1h0M254.7 214.6h0M248.4 214.0h0M252.7 213.1h0M245.9 217.8h0M253.9 215.1h0M255.9 213.0h0M244.4 215.2h0M245.0 216.5h0M248.4 216.6h0M246.3 215.4h0M252.7 213.9h0M245.5 215.3h0M254.3 213.5h0M245.6 216.8h0M252.5 213.4h0M254.2 214.7h0M252.2 215.9h0M251.8 214.1h0M251.3 213.8h0M254.5 213.8h0M249.0 216.8h0M245.4 217.9h0M247.3 216.2h0M246.4 215.6h0M254.9 214.9h0M245.2 215.3h0M254.3 214.6h0M251.3 215.7h0M254.4 214.8h0M250.9 213.7h0M253.8 215.1h0M251.0 216.6h0M252.7 214.2h0M251.7 213.8h0M250.5 216.8h0M248.3 215.5h0M251.9 215.5h0M256.5 214.2h0M244.5 215.7h0M249.4 214.6h0M255.1 214.9h0M255.1 214.4h0M246.7 215.1h0M254.0 213.4h0M250.2 214.7h0M251.1 215.5h0M255.8 215.4h0M245.9 214.8h0M245.6 215.1h0M250.8 215.5h0M249.7 214.3h0M255.1 214.1h0M252.6 215.9h0M251.2 215.7h0M255.8 213.1h0M243.4 237.3h0M252.7 212.7h0M254.8 219.0h0M243.7 230.4h0"/>
<path stroke="#F8766D" stroke-width="1.10" stroke-linecap="round" d="M266.3 227.8h0M252.3 224.4h0M270.7 231.6h0M257.6 227.2h0M267.9 233.7h0M256.5 226.7h0M260.4 230.1h0M256.9 225.9h0M264.9 232.7h0M264.9 230.0h0M269.8 231.1h0M255.9 227.7h0M263.6 232.9h0M257.1 230.8h0M255.1 226.8h0M253.0 226.8h0M252.8 224.7h0M260.1 230.7h0M252.2 223.4h0M263.2 232.0h0M266.7 230.6h0M272.9 234.6h0M257.0 226.9h0M264.1 229.0h0M268.1 233.0h0M252.5 223.3h0M252.0 226.0h0M262.2 225.1h0M268.2 229.9h0M272.5 231.8h0M257.0 223.0h0M262.4 232.4h0M268.5 233.2h0M272.4 231.5h0M260.0 228.9h0M268.2 233.5h0M253.0 227.5h0M259.5 232.5h0M254.2 225.3h0M263.2 227.3h0M267.0 226.4h0M264.5 229.0h0M260.5 232.8h0M263.8 225.0h0M267.6 234.9h0M269.3 231.5h0M268.4 233.6h0M270.4 232.6h0M258.6 223.7h0M257.5 229.9h0M261.0 231.8h0M271.0 231.2h0M272.6 233.4h0M266.9 234.3h0M255.2 228.6h0M270.2 232.9h0M263.4 226.9h0M269.7 230.8h0M262.1 229.7h0M258.9 225.5h0M253.2 227.7h0M262.2 228.4h0M257.5 224.1h0M266.2 234.4h0M266.4 229.9h0M265.6 233.5h0M263.0 231.6h0M268.8 231.6h0M264.6 235.0h0M261.1 232.9h0M268.5 229.3h0M263.7 230.4h0M263.5 234.3h0M270.0 236.0h0M263.4 225.8h0M255.6 229.5h0M260.4 229.0h0M269.4 234.5h0M264.8 232.4h0M261.2 225.7h0M259.1 224.4h0M269.3 229.8h0M256.7 222.9h0M272.0 235.3h0M267.9 233.9h0M259.8 230.9h0M264.0 227.8h0M266.9 232.0h0M261.4 227.1h0M260.4 231.2h0M254.7 224.0h0M262.6 233.2h0M260.7 229.1h0M258.3 229.8h0M258.1 227.1h0M262.5 229.5h0M257.0 225.3h0M263.1 228.9h0M265.8 231.4h0M262.1 229.3h0M259.6 232.2h0M269.7 234.0h0M265.5 233.9h0M261.6 229.9h0M264.5 231.1h0M256.7 230.3h0M254.0 227.9h0M265.0 228.8h0M267.3 234.0h0M257.0 223.3h0M267.5 228.7h0M264.4 231.7h0M260.1 231.6h0M259.5 226.2h0M261.4 233.5h0M269.1 228.5h0M254.2 225.5h0M254.3 227.3h0M259.8 230.9h0M256.6 228.7h0M252.3 223.1h0M269.5 235.2h0M261.1 227.0h0M269.8 232.8h0M268.4 232.8h0M267.8 230.1h0M271.6 230.6h0M270.5 231.3h0M258.1 225.9h0M256.0 225.4h0M262.8 226.1h0M267.6 236.0h0M267.4 230.8h0M260.0 224.8h0M269.9 235.3h0M272.7 234.4h0M267.2 227.2h0M260.1 232.6h0M266.1 232.1h0M262.5 228.7h0M268.1 228.9h0M263.5 226.9h0M256.9 229.7h0M264.8 225.6h0M266.2 234.3h0M252.3 224.4h0M271.5 235.9h0M255.0 223.7h0M260.4 223.3h0M261.6 225.5h0M265.0 232.6h0M264.4 233.3h0M266.6 227.4h0M270.2 231.7h0M258.8 226.6h0M261.0 230.9h0M254.3 223.3h0M266.1 228.2h0M253.5 223.0h0M261.9 228.3h0M271.9 232.9h0M268.6 235.3h0M271.1 229.8h0M260.3 226.9h0M256.1 223.7h0M259.8 224.2h0M252.9 224.5h0M268.4 230.1h0M263.6 232.4h0M266.3 228.6h0M261.5 227.2h0M265.3 233.3h0M269.4 229.8h0M255.2 224.6h0M255.8 222.3h0M259.0 227.8h0M255.9 230.3h0M262.5 228.3h0M262.0 227.6h0M267.4 235.6h0M262.1 229.7h0M258.4 230.7h0M261.5 226.7h0M255.1 224.0h0M266.7 228.0h0M262.7 227.5h0M259.3 230.7h0M270.4 233.3h0M261.2 231.7h0M270.6 230.0h0M262.7 232.0h0M255.7 225.5h0M270.0 235.8h0M259.0 228.8h0M259.2 225.6h0M268.1 233.7h0M258.6 225.1h0M258.8 223.0h0M257.8 223.2h0M260.2 227.4h0M253.7 228.1h0M258.4 229.6h0M267.7 230.4h0M262.1 227.9h0M263.1 225.4h0M254.6 223.6h0M266.2 226.0h0M259.4 229.6h0M260.5 227.9h0M255.9 223.6h0M268.9 232.1h0M258.6 225.1h0M273.2 233.9h0M257.7 230.0h0M261.4 229.4h0M262.9 233.2h0M258.7 225.7h0M252.0 226.0h0M254.7 222.9h0M266.5 233.0h0M261.0 225.4h0M272.5 231.5h0M257.3 227.4h0M271.6 235.6h0M252.8 225.1h0M266.6 235.1h0M255.8 228.6h0M270.7 235.7h0M269.9 229.4h0M261.8 228.0h0M255.6 223.2h0M268.6 231.6h0M254.4 226.7h0M254.5 228.2h0M253.1 223.0h0M269.4 233.9h0M256.4 222.2h0M262.9 231.3h0M263.5 228.8h0M270.3 234.6h0M257.0 227.5h0M262.9 232.2h0M259.3 230.3h0M253.7 227.6h0M268.2 233.6h0M256.5 223.3h0M263.6 232.6h0M267.8 227.7h0M272.2 235.7h0M252.0 224.4h0M258.1 231.3h0M264.2 232.3h0M267.2 231.3h0M272.7 233.1h0M255.9 224.2h0M262.2 227.7h0M265.7 234.6h0M272.5 233.5h0M263.0 231.6h0M256.9 227.5h0M256.9 229.5h0M256.3 227.6h0M264.1 229.2h0M269.9 230.8h0M263.8 231.8h0M270.0 231.0h0M260.4 231.1h0M256.4 226.1h0M267.9 232.0h0M260.5 231.7h0M273.3 234.1h0M260.0 229.1h0M267.8 227.2h0M259.3 232.7h0M265.3 235.5h0M264.2 231.2h0M259.9 227.7h0M253.4 222.6h0M261.6 229.0h0M256.0 226.9h0M253.2 224.2h0M265.8 233.8h0M264.6 232.5h0M266.0 227.3h0M272.0 234.5h0M254.8 228.1h0M271.5 231.0h0M257.9 227.1h0M263.2 234.2h0M270.1 229.5h0M255.1 226.4h0M266.3 228.2h0M257.6 226.0h0M270.3 229.6h0M270.0 230.8h0M258.2 224.6h0M271.2 235.9h0M255.2 226.5h0M260.6 224.0h0M262.6 227.9h0M263.9 226.9h0M267.0 228.2h0M266.2 233.0h0M260.8 229.3h0M266.5 226.8h0M263.2 225.1h0M264.2 234.9h0M259.0 229.3h0M255.8 230.1h0M260.5 224.4h0M273.1 233.7h0M266.0 235.5h0M263.0 228.9h0M272.6 233.8h0M257.3 230.5h0M258.2 232.0h0M254.8 225.6h0M270.6 231.3h0M256.9 231.2h0M260.2 232.8h0M261.8 231.7h0M257.7 222.6h0M265.4 228.4h0M269.3 230.4h0M254.2 225.6h0M259.2 225.1h0M259.6 233.0h0M263.4 227.4h0M256.9 225.1h0M263.3 230.7h0M271.7 231.3h0M268.1 232.6h0M269.5 235.5h0M272.8 234.2h0M272.6 233.3h0M268.8 234.8h0M273.1 233.4h0M268.5 233.7h0M270.9 234.0h0M272.2 235.0h0M268.6 233.4h0M271.3 231.8h0M270.3 231.4h0M269.5 232.9h0M270.1 232.9h0M270.1 233.8h0M267.6 233.2h0M268.6 235.7h0M270.2 235.8h0M270.7 236.6h0M271.3 233.7h0M270.0 231.2h0M271.4 234.9h0M269.5 236.2h0M268.8 235.7h0M269.9 236.4h0M271.1 230.9h0M270.8 230.8h0M271.6 234.5h0M268.7 231.5h0M255.9 234.1h0M257.7 214.9h0M247.9 220.0h0M260.9 244.5h0M263.2 221.1h0M270.6 237.2h0"/>
<path stroke="#00C1AB" stroke-width="1.10" stroke-linecap="round" d="M256.5 222.3h0M258.4 224.2h0M260.3 223.4h0M260.4 221.4h0M261.3 221.6h0M260.9 221.3h0M258.7 223.6h0M260.1 223.8h0M256.8 222.4h0M258.1 223.1h0M259.0 224.0h0M260.8 221.7h0M257.9 223.1h0M257.7 222.7h0M257.6 224.1h0M259.2 221.8h0M260.2 221.6h0M257.3 222.2h0M258.7 223.7h0M260.6 222.3h0M259.7 222.3h0M258.5 222.3h0M259.2 221.3h0M260.8 223.0h0M258.6 221.7h0M261.0 221.8h0M256.6 222.9h0M259.4 223.0h0M258.3 224.1h0M259.8 222.2h0M259.4 224.0h0M257.4 222.8h0M258.7 223.7h0M260.0 221.2h0M257.7 224.0h0M254.3 234.2h0M256.4 235.7h0M251.0 235.6h0M256.0 235.3h0M249.4 236.1h0M253.1 234.9h0M254.0 231.9h0M253.4 239.9h0M255.2 236.0h0M254.3 235.7h0M250.6 233.6h0M255.3 235.1h0M256.6 235.8h0M254.3 238.6h0M251.2 237.4h0M253.6 234.8h0M252.8 238.6h0M255.0 235.9h0M256.0 237.5h0M253.9 233.2h0M255.6 238.0h0M252.1 237.4h0M253.0 232.8h0M251.4 235.1h0M248.5 233.8h0M249.2 235.6h0M248.7 233.9h0M250.9 233.8h0M247.7 235.5h0M249.6 236.5h0M248.7 236.3h0M250.3 234.7h0M250.2 236.0h0M249.8 234.6h0M249.9 234.7h0M247.9 233.9h0M249.0 235.6h0M250.9 235.2h0M251.2 234.2h0M251.1 234.8h0M250.4 235.4h0M250.3 235.7h0M248.8 233.6h0M250.1 233.0h0M247.9 233.8h0M249.9 233.5h0M249.0 235.2h0M249.4 235.2h0M250.0 235.2h0M258.5 229.0h0M255.7 235.5h0"/>
<path stroke="#BE9C00" stroke-width="1.10" stroke-linecap="round" d="M266.5 241.2h0M270.3 238.7h0M264.2 239.3h0M270.4 232.7h0M269.8 234.2h0M264.5 232.7h0M271.6 237.9h0M261.6 234.1h0M267.6 236.3h0M268.7 240.8h0M264.8 234.9h0M266.3 231.8h0M264.3 240.1h0M266.0 236.0h0M264.6 236.0h0M269.4 239.5h0M263.9 236.8h0M263.0 233.6h0M265.1 238.0h0M270.4 235.2h0M262.4 233.7h0M269.7 241.9h0M270.6 233.3h0M268.6 235.8h0M266.5 233.8h0M264.9 240.9h0M269.5 241.9h0M273.3 237.0h0M270.6 235.4h0M268.3 233.5h0M264.2 233.7h0M266.2 238.7h0M261.9 237.6h0M271.5 235.4h0M264.2 232.9h0M271.1 235.4h0M263.1 236.1h0M269.5 234.8h0M265.5 233.3h0M270.5 236.3h0M268.5 241.6h0M265.2 237.3h0M269.8 233.4h0M273.1 239.7h0M267.2 234.5h0M267.1 235.3h0M271.6 234.4h0M271.7 240.5h0M268.5 237.0h0M268.9 237.3h0M272.0 238.0h0M264.7 237.6h0M264.6 234.3h0M268.4 232.6h0M264.7 239.8h0M264.9 240.1h0M268.5 232.8h0M270.5 236.9h0M264.1 238.5h0M267.1 241.9h0M273.3 238.9h0M268.2 232.4h0M272.8 239.3h0M266.0 240.8h0M268.4 238.2h0M267.5 235.4h0M262.1 236.3h0M273.1 236.5h0M267.1 238.3h0M270.6 232.8h0M269.4 234.6h0M269.8 237.8h0M265.0 236.7h0M270.6 238.7h0M266.7 235.6h0M262.5 233.5h0M272.3 238.7h0M264.9 235.2h0M268.7 239.7h0M272.6 235.3h0M263.2 239.5h0M268.1 238.3h0M262.6 233.2h0M265.0 239.5h0M265.6 240.5h0M258.5 209.7h0M254.0 225.0h0M282.0 228.3h0M241.9 221.8h0M257.5 225.4h0M244.4 217.6h0M256.1 215.6h0"/>
<path stroke="#00BBDA" stroke-width="1.10" stroke-linecap="round" d="M250.1 233.4h0M256.1 233.9h0M254.4 238.7h0M250.6 233.4h0M251.7 233.8h0M250.8 235.4h0M249.1 234.8h0M253.0 236.8h0M253.6 235.2h0M253.4 239.0h0M256.4 236.0h0M252.5 239.1h0M252.9 236.0h0M255.7 233.7h0M254.3 232.7h0M252.3 235.3h0M257.9 236.0h0M252.8 232.4h0M250.5 232.4h0M251.4 238.7h0M255.0 234.3h0M256.2 233.2h0M256.7 233.5h0M256.7 236.5h0M255.6 233.5h0M250.0 236.2h0M258.0 235.8h0M252.2 233.4h0M256.9 235.6h0M252.3 232.1h0M256.1 237.3h0M254.6 233.5h0M256.5 233.5h0M257.4 235.1h0M254.4 234.2h0M253.7 231.2h0M257.7 236.3h0M255.7 237.8h0M250.9 232.9h0M253.7 232.8h0M253.5 237.5h0M252.7 237.7h0M253.9 233.5h0M253.7 231.7h0M254.3 233.8h0M251.2 233.8h0M250.1 236.1h0M255.4 233.8h0M249.7 236.8h0M252.7 234.2h0M253.6 235.7h0M257.8 236.8h0M256.6 234.9h0M255.9 235.1h0M250.5 233.2h0M255.6 237.2h0M254.5 233.2h0M255.1 235.1h0M255.5 233.7h0M252.2 237.9h0M257.3 236.9h0M249.2 236.5h0M250.9 235.4h0M251.3 239.3h0M251.9 238.8h0M253.4 234.9h0M255.1 240.2h0M257.1 240.5h0M254.3 238.9h0M257.9 239.0h0M256.3 238.1h0M255.7 239.6h0M257.0 239.6h0M254.4 238.0h0M257.7 239.8h0M257.1 241.2h0M258.6 240.1h0M256.6 239.6h0M258.7 241.2h0M259.3 240.6h0M257.4 239.8h0M254.4 239.8h0M258.3 241.8h0M254.8 240.7h0M256.1 238.0h0M255.4 238.6h0M257.8 238.8h0M256.9 238.0h0M256.4 241.4h0M255.2 240.7h0M256.5 239.0h0M256.4 238.0h0M255.5 241.2h0M258.7 241.6h0M257.5 241.2h0M258.4 240.4h0M239.2 230.3h0M238.9 230.5h0M239.1 231.4h0M237.6 230.6h0M238.5 230.0h0M239.9 229.8h0M266.5 235.3h0"/>
<path stroke="#F962DD" stroke-width="1.10" stroke-linecap="round" d="M244.9 235.8h0M244.3 236.2h0M243.7 236.7h0M244.1 237.9h0M243.2 236.2h0M244.1 236.1h0M243.8 237.6h0M244.3 237.0h0M243.5 237.4h0M243.2 237.0h0"/>
<path stroke="#8B93FF" stroke-width="1.10" stroke-linecap="round" d="M247.8 242.1h0M250.5 243.0h0M249.0 242.3h0M249.7 242.7h0M249.5 243.0h0M247.9 243.4h0M249.5 242.3h0M249.8 242.3h0M248.0 243.6h0M249.1 243.8h0M250.5 243.4h0M248.5 242.4h0M249.2 242.8h0M250.1 243.5h0M250.2 243.7h0"/>
<path stroke="#D575FE" stroke-width="1.10" stroke-linecap="round" d="M257.5 245.2h0M258.8 244.2h0M257.7 244.5h0M259.1 245.9h0M258.0 245.5h0M259.0 244.2h0M257.8 245.2h0M259.0 244.5h0M257.9 245.2h0M258.4 245.7h0"/>
<text x="250.2" y="207.9" font-size="3.7" font-weight="bold" fill="#111" stroke="#111" stroke-width="0.12">Mac</text>
<text x="263.0" y="208.4" font-size="3.7" font-weight="bold" fill="#111" stroke="#111" stroke-width="0.12">LOH</text>
<text x="268.8" y="212.9" font-size="3.7" font-weight="bold" fill="#111" stroke="#111" stroke-width="0.12">EPC</text>
<text x="273.2" y="220.9" font-size="3.7" font-weight="bold" fill="#111" stroke="#111" stroke-width="0.12">Endo</text>
<text x="276.5" y="227.4" font-size="3.7" font-weight="bold" fill="#111" stroke="#111" stroke-width="0.12">Mas</text>
<text x="246.8" y="219.8" font-size="3.7" font-weight="bold" fill="#111" stroke="#111" stroke-width="0.12">PT</text>
<text x="262.3" y="227.9" font-size="3.7" font-weight="bold" fill="#111" stroke="#111" stroke-width="0.12">DCT</text>
<text x="236.1" y="231.9" font-size="3.7" font-weight="bold" fill="#111" stroke="#111" stroke-width="0.12">T/NK</text>
<text x="257.0" y="234.5" font-size="3.7" font-weight="bold" fill="#111" stroke="#111" stroke-width="0.12">CD</text>
<text x="243.1" y="237.4" font-size="3.7" font-weight="bold" fill="#111" stroke="#111" stroke-width="0.12">B</text>
<text x="247.5" y="237.4" font-size="3.7" font-weight="bold" fill="#111" stroke="#111" stroke-width="0.12">Fibro</text>
<text x="247.6" y="244.4" font-size="3.7" font-weight="bold" fill="#111" stroke="#111" stroke-width="0.12">Neu</text>
<text x="257.2" y="244.4" font-size="3.7" font-weight="bold" fill="#111" stroke="#111" stroke-width="0.12">Podo</text>
<text x="310" y="200.4" font-size="7.3" text-anchor="middle" fill="#111" font-weight="bold" stroke="#111" stroke-width="0.3">HOMO-21</text>
<path stroke="#24B700" stroke-width="1.10" stroke-linecap="round" d="M300.6 211.4h0M303.7 208.2h0M299.7 211.0h0M301.8 210.2h0M307.1 211.6h0M306.2 209.8h0M307.3 207.7h0M308.7 210.5h0M301.4 208.4h0M309.7 210.1h0M304.2 207.4h0M307.3 208.1h0M300.4 211.4h0M310.6 207.1h0M307.2 206.9h0M302.7 211.9h0M302.0 209.5h0M309.8 207.4h0M305.7 207.2h0M308.5 209.0h0M309.0 210.9h0M306.7 207.3h0M304.5 209.3h0M301.1 209.6h0M304.8 207.2h0M305.6 206.8h0M300.5 210.8h0M305.3 208.7h0M304.4 209.4h0M302.8 207.7h0M302.9 209.8h0M304.9 208.8h0M301.4 208.3h0M305.2 211.9h0M308.4 210.4h0M309.6 209.9h0M300.1 208.1h0M308.2 210.3h0M303.9 212.1h0M307.1 206.9h0M305.1 211.1h0M305.9 206.2h0M307.1 211.1h0M305.3 207.7h0M299.9 210.8h0M308.1 211.4h0M304.6 208.7h0M309.6 208.0h0M311.0 207.9h0M309.1 210.3h0M300.3 209.2h0M308.0 210.3h0M308.4 206.3h0M310.4 208.8h0M305.4 207.4h0M305.4 209.7h0M307.3 211.3h0M303.6 210.6h0M304.9 208.5h0M311.2 207.7h0M306.0 209.3h0M305.8 210.9h0M298.9 210.1h0M302.0 208.7h0M308.5 206.9h0M310.3 208.5h0M302.2 208.3h0M302.7 207.9h0M300.8 208.6h0M305.8 210.6h0M307.5 206.3h0M304.0 209.9h0M300.6 208.4h0M305.6 207.0h0M303.3 210.2h0M308.3 210.0h0M308.4 207.0h0M310.4 207.4h0M300.1 210.1h0M307.9 208.1h0M307.3 208.7h0M307.5 206.9h0M305.2 208.0h0M304.5 210.9h0M303.2 212.2h0M299.8 209.2h0M309.7 207.8h0M305.7 210.9h0M303.4 209.9h0M309.2 206.4h0M299.1 210.0h0M308.7 206.6h0M305.1 208.4h0M299.2 209.5h0M298.8 209.8h0M300.4 208.7h0M305.4 211.4h0M302.6 208.7h0M307.0 207.2h0M307.6 209.5h0M304.5 210.7h0M302.7 209.8h0M309.9 208.2h0M300.0 211.4h0M305.5 211.1h0M299.0 210.3h0M299.0 210.0h0M305.7 210.3h0M305.1 211.1h0M302.9 212.0h0M307.8 210.5h0M307.7 209.8h0M304.8 211.7h0M300.4 208.0h0M304.1 212.0h0M300.4 208.3h0M305.1 206.8h0M305.6 211.2h0M304.6 209.0h0M304.7 210.0h0M299.1 210.6h0M301.5 208.6h0M308.6 206.7h0M303.4 206.8h0M304.4 208.3h0M310.8 209.5h0M300.0 209.5h0M308.3 208.5h0M299.3 210.8h0M300.3 208.9h0M299.3 211.2h0M306.5 206.3h0M301.1 211.1h0M308.1 207.3h0M306.2 206.7h0M309.8 209.2h0M307.2 211.0h0M303.0 209.5h0M306.0 206.1h0M303.1 209.7h0M302.1 208.2h0M302.6 211.1h0M303.7 210.9h0M301.0 209.8h0M308.0 211.2h0M309.3 209.3h0M308.5 207.4h0M308.9 210.1h0M299.6 210.2h0M309.4 206.8h0M302.3 212.1h0M300.7 210.0h0M301.3 211.1h0M300.2 208.8h0M310.6 209.1h0M300.8 211.2h0M309.1 209.2h0M304.2 208.9h0M302.2 210.3h0M305.1 209.8h0M302.0 209.6h0M308.7 224.9h0M307.3 218.5h0M307.6 241.4h0M304.5 224.0h0M329.3 226.5h0M296.6 219.2h0"/>
<path stroke="#00BE70" stroke-width="1.10" stroke-linecap="round" d="M316.1 208.5h0M314.1 212.3h0M315.3 210.9h0M316.5 209.2h0M313.3 208.7h0M316.8 210.6h0M317.3 209.8h0M312.2 208.8h0M312.4 209.7h0M314.1 210.6h0M315.8 210.0h0M312.1 209.2h0M314.6 209.7h0M312.5 209.4h0M314.9 208.3h0M315.5 208.8h0M314.3 211.4h0M317.2 211.2h0M316.4 209.7h0M314.6 210.5h0M311.8 209.9h0M313.1 211.1h0M315.2 212.4h0M313.0 211.9h0M313.4 207.9h0M314.3 211.1h0M316.3 210.4h0M312.7 210.0h0M317.0 210.1h0M311.6 210.1h0M314.3 208.7h0M311.7 210.0h0M315.6 211.1h0M315.0 207.7h0M315.2 211.6h0M316.5 209.7h0M312.2 209.1h0M314.5 211.1h0M315.3 209.1h0M314.7 208.2h0M313.3 207.6h0M315.4 210.0h0M314.8 210.7h0M315.6 210.3h0M312.6 209.6h0M310.3 208.5h0M311.6 209.5h0M311.6 208.0h0M311.8 209.2h0M311.8 208.7h0M310.2 209.3h0M310.3 208.2h0M312.3 208.8h0M312.1 209.2h0M310.4 208.2h0M316.7 243.1h0M291.7 231.5h0"/>
<path stroke="#00ACFC" stroke-width="1.10" stroke-linecap="round" d="M320.7 212.9h0M320.5 212.3h0M321.3 212.0h0M319.4 211.8h0M320.4 212.8h0M319.2 211.8h0M321.1 211.5h0M320.3 213.0h0M319.4 211.4h0M321.1 211.1h0M321.3 212.0h0M319.2 212.5h0M296.3 223.4h0M322.0 230.8h0M292.7 234.0h0M303.8 220.7h0M289.0 220.4h0"/>
<path stroke="#8CAB00" stroke-width="1.10" stroke-linecap="round" d="M318.9 224.6h0M322.8 220.3h0M320.9 224.2h0M325.0 218.8h0M323.9 221.7h0M325.9 220.2h0M319.8 225.0h0M319.0 224.7h0M321.5 223.6h0M326.5 219.4h0M325.5 220.8h0M326.3 218.8h0M320.8 223.1h0M323.2 223.0h0M325.7 218.7h0M325.2 219.8h0M322.0 220.7h0M325.1 220.7h0M323.5 221.3h0M324.4 221.8h0M325.4 220.4h0M327.5 219.8h0M324.1 220.6h0M325.1 219.5h0M320.6 224.9h0M322.2 221.1h0M320.2 224.2h0M324.4 220.6h0M320.6 225.1h0M323.4 220.3h0M322.5 221.1h0M328.3 218.3h0M328.3 219.0h0M322.0 221.7h0M319.0 223.9h0M327.5 219.0h0M325.0 220.1h0M324.9 218.5h0M325.6 218.2h0M321.2 223.4h0M322.5 221.0h0M323.8 220.9h0M323.3 221.8h0M326.8 220.1h0M322.1 223.4h0M328.0 218.2h0M327.8 218.6h0M320.1 222.7h0M325.1 221.1h0M324.5 219.5h0M323.5 222.5h0M326.0 218.8h0M327.1 219.3h0M321.3 221.7h0M320.4 221.9h0M322.1 217.9h0M326.9 224.7h0M320.5 218.2h0M322.2 219.0h0M321.3 217.8h0M324.3 219.7h0M326.7 223.8h0M326.6 222.8h0M323.6 220.5h0M327.8 224.0h0M322.2 219.8h0M323.2 221.2h0M326.4 223.5h0M322.8 220.3h0M322.4 219.2h0M323.1 220.8h0M326.3 221.8h0M323.0 219.5h0M321.8 219.3h0M322.6 221.3h0M323.4 220.1h0M327.7 224.1h0M323.5 221.6h0M327.2 225.3h0M321.4 219.6h0M323.1 220.3h0M324.6 220.1h0M321.9 218.2h0M322.5 218.6h0M326.5 224.9h0M326.8 225.2h0M325.2 222.3h0M323.4 221.1h0M320.4 218.2h0M326.6 223.6h0M323.9 222.0h0M323.7 220.2h0M325.5 221.2h0M322.6 219.9h0M321.5 218.9h0M324.8 222.4h0M326.2 222.8h0M327.7 225.9h0M324.8 221.5h0M320.9 219.0h0M308.2 230.4h0M321.4 235.7h0M320.8 235.3h0M295.9 213.6h0M303.5 216.8h0"/>
<path stroke="#FF65AC" stroke-width="1.10" stroke-linecap="round" d="M329.2 229.3h0M328.7 228.4h0M329.7 229.2h0M329.1 229.6h0M328.5 229.6h0M329.4 229.2h0"/>
<path stroke="#EC8A06" stroke-width="1.10" stroke-linecap="round" d="M297.6 223.6h0M295.8 224.3h0M295.9 221.1h0M296.5 221.8h0M296.1 220.6h0M296.9 224.7h0M296.8 221.9h0M296.2 219.5h0M295.6 224.0h0M296.1 223.1h0M294.1 222.4h0M295.2 225.6h0M294.8 224.1h0M294.7 223.2h0M294.2 221.8h0M295.3 225.3h0M296.3 221.7h0M295.0 224.0h0M297.4 221.8h0M294.3 223.5h0M298.1 222.0h0M296.5 222.9h0M294.8 221.0h0M297.7 221.8h0M297.5 220.8h0M295.6 226.1h0M297.3 222.0h0M295.2 223.8h0M295.9 220.8h0M297.5 224.1h0M306.4 214.1h0M299.0 215.1h0M305.3 213.4h0M302.3 214.6h0M299.7 215.1h0M300.2 216.4h0M300.9 215.1h0M301.7 214.8h0M302.1 214.9h0M300.5 216.2h0M302.6 215.7h0M305.4 214.1h0M305.5 214.2h0M304.7 213.5h0M301.5 214.7h0M303.2 214.7h0M301.0 214.2h0M301.6 215.1h0M301.2 215.1h0M306.8 213.2h0M308.7 224.1h0M306.3 216.0h0M296.8 225.5h0M299.5 221.1h0M310.9 224.6h0M309.3 216.8h0M305.9 221.6h0M313.5 214.4h0M297.0 220.1h0M300.9 220.9h0M307.9 222.3h0M310.3 221.1h0M298.7 213.6h0M312.7 217.2h0M308.3 214.9h0M311.6 214.9h0M312.5 220.8h0M309.8 217.3h0M301.9 215.1h0M300.9 213.8h0M299.2 214.6h0M299.0 218.4h0M298.5 214.8h0M312.2 220.8h0M308.5 223.9h0M309.1 218.0h0M299.8 223.4h0M297.5 213.3h0M306.0 218.9h0M301.1 222.0h0M310.5 213.0h0M302.3 223.1h0M295.7 215.9h0M308.3 218.8h0M298.7 213.3h0M313.7 220.0h0M310.8 223.0h0M314.4 222.1h0M299.9 218.9h0M314.8 221.5h0M310.1 243.7h0M292.8 211.3h0M319.4 220.4h0M311.5 222.8h0M298.4 230.7h0"/>
<path stroke="#F8766D" stroke-width="1.10" stroke-linecap="round" d="M307.4 229.0h0M319.7 231.6h0M316.1 228.2h0M314.7 232.8h0M317.9 232.6h0M318.1 227.9h0M317.6 227.9h0M314.4 234.2h0M318.9 232.3h0M321.5 230.7h0M313.5 229.8h0M321.2 230.8h0M320.5 235.1h0M311.4 225.7h0M317.2 232.3h0M314.2 234.6h0M315.3 229.1h0M319.3 229.3h0M311.0 228.7h0M313.7 226.7h0M314.1 234.5h0M315.0 227.8h0M317.0 230.4h0M322.3 235.4h0M310.4 231.4h0M318.1 232.2h0M310.6 226.6h0M313.7 231.4h0M315.7 227.2h0M316.6 234.8h0M317.9 227.8h0M318.4 232.4h0M310.7 232.3h0M309.6 231.6h0M310.5 226.3h0M318.5 232.0h0M316.0 227.8h0M315.0 233.5h0M308.3 227.5h0M313.9 231.2h0M317.9 230.4h0M309.8 230.2h0M313.3 229.9h0M307.7 228.6h0M318.2 229.0h0M312.1 227.3h0M312.4 228.2h0M322.8 234.0h0M313.2 228.8h0M310.0 227.8h0M312.7 230.3h0M314.2 228.1h0M309.7 228.9h0M321.6 235.3h0M314.1 230.7h0M309.2 229.2h0M311.7 226.1h0M313.2 229.2h0M308.6 228.5h0M320.1 231.1h0M321.5 233.2h0M312.2 227.9h0M316.0 227.6h0M314.2 229.3h0M315.2 233.7h0M321.3 234.1h0M313.5 228.4h0M317.5 232.4h0M316.8 232.5h0M309.8 230.7h0M290.8 229.5h0M326.9 231.3h0M303.6 217.6h0M328.9 224.0h0M311.3 230.5h0"/>
<path stroke="#00C1AB" stroke-width="1.10" stroke-linecap="round" d="M310.9 221.7h0M306.8 222.8h0M307.9 223.4h0M310.0 222.5h0M309.1 223.4h0M310.7 223.4h0M307.6 222.9h0M310.4 223.6h0M309.3 222.0h0M311.8 223.0h0M309.5 222.5h0M311.1 223.6h0M312.0 222.8h0M310.3 223.2h0M309.1 223.1h0M310.8 222.8h0M308.7 221.7h0M310.0 222.5h0M311.2 221.8h0M308.3 222.3h0M307.9 223.1h0M310.1 221.6h0M310.5 222.0h0M312.2 222.8h0M310.2 223.0h0M309.9 221.4h0M307.7 223.3h0M310.0 223.8h0M309.3 223.2h0M307.1 223.3h0M310.6 223.4h0M307.8 223.7h0M307.9 223.3h0M309.5 221.5h0M309.5 222.3h0M302.1 234.9h0M302.0 236.2h0M306.8 233.2h0M306.4 235.8h0M304.3 231.8h0M300.8 235.6h0M305.1 232.2h0M306.8 238.0h0M305.4 231.7h0M306.8 237.3h0M304.7 232.7h0M301.8 234.8h0M301.5 238.6h0M305.6 239.9h0M306.2 239.0h0M302.5 232.7h0M303.2 239.0h0M300.1 235.0h0M300.7 237.4h0M306.7 233.6h0M303.4 238.2h0M304.0 234.3h0M304.6 239.2h0M304.8 232.5h0M301.1 232.8h0M306.7 237.8h0M300.3 236.3h0M303.1 236.4h0M302.0 237.5h0M302.3 235.7h0M300.4 237.0h0M307.8 233.4h0M300.6 233.9h0M298.4 235.5h0M300.9 235.2h0M298.6 234.4h0M300.1 236.7h0M298.6 235.0h0M300.0 236.1h0M299.4 233.0h0M300.9 233.4h0M299.3 234.9h0M300.0 236.2h0M299.4 235.4h0M299.5 236.1h0M301.4 235.8h0M299.2 235.5h0M301.1 235.0h0M298.9 236.1h0M298.7 235.2h0M300.9 233.8h0M300.5 235.4h0M299.9 233.8h0M300.9 233.7h0M300.4 234.7h0M300.0 233.5h0M299.9 234.6h0M312.5 235.4h0M308.2 218.3h0M318.9 232.0h0M304.3 242.9h0M306.0 206.0h0M290.6 216.8h0M305.5 228.8h0M313.8 207.3h0M290.3 232.5h0M293.1 213.4h0M310.8 207.4h0"/>
<path stroke="#BE9C00" stroke-width="1.10" stroke-linecap="round" d="M301.8 228.2h0M319.2 237.2h0M311.5 239.9h0M319.4 242.1h0M303.3 227.7h0M300.7 231.6h0M324.7 241.7h0M301.1 230.0h0M308.5 230.6h0M311.8 239.1h0M318.4 236.7h0M304.7 232.4h0M322.9 244.9h0M310.8 232.7h0M322.0 245.8h0M306.4 229.5h0M312.4 229.7h0M321.6 241.1h0M323.2 239.0h0M313.1 231.8h0M319.9 241.4h0M311.8 238.4h0M320.8 239.1h0M304.1 226.9h0M308.2 234.1h0M312.8 236.6h0M314.7 231.9h0M301.8 230.6h0M311.5 237.0h0M323.4 242.0h0M304.1 229.5h0M309.8 229.8h0M300.9 230.2h0M314.1 237.5h0M310.5 236.8h0M312.9 236.1h0M316.4 233.0h0M310.6 230.3h0M322.8 243.9h0M318.7 239.8h0M319.3 242.9h0M316.3 242.8h0M305.6 229.9h0M320.7 241.6h0M320.9 237.3h0M303.1 224.9h0M306.4 229.3h0M316.5 237.5h0M321.4 243.6h0M319.5 244.5h0M319.5 243.1h0M313.6 235.8h0M304.3 233.6h0M315.5 236.7h0M302.9 229.6h0M306.8 226.1h0M301.9 229.9h0M305.4 229.0h0M306.6 229.8h0M320.6 240.8h0M312.3 235.2h0M323.4 242.0h0M305.6 233.9h0M300.4 229.0h0M300.0 231.0h0M310.0 238.8h0M306.3 234.5h0M300.1 230.9h0M304.0 227.0h0M307.8 235.9h0M324.8 242.0h0M318.4 241.2h0M317.3 239.7h0M318.4 244.7h0M303.0 227.9h0M316.4 240.1h0M310.1 229.9h0M301.9 228.0h0M312.9 236.5h0M310.7 232.9h0M317.3 239.2h0M308.2 232.1h0M322.7 243.4h0M321.2 236.9h0M316.0 238.8h0M317.5 243.2h0M311.0 239.3h0M321.5 243.6h0M311.1 231.3h0M324.8 239.9h0M310.1 231.3h0M316.7 243.3h0M322.2 244.5h0M304.0 226.3h0M325.0 241.5h0M321.9 238.6h0M321.8 239.1h0M307.7 229.1h0M317.9 237.3h0M321.0 245.0h0M306.8 229.8h0M304.7 226.0h0M310.3 231.2h0M319.2 239.7h0M316.4 241.5h0M301.3 227.7h0M308.2 232.7h0M304.6 230.3h0M310.1 229.1h0M322.2 238.1h0M309.7 235.8h0M312.8 235.5h0M307.3 233.9h0M308.7 230.2h0M318.0 242.2h0M309.6 231.5h0M312.1 239.9h0M318.0 242.0h0M303.9 230.1h0M301.5 231.6h0M321.5 237.8h0M312.2 232.5h0M307.6 229.2h0M305.2 230.5h0M319.0 244.3h0M306.5 231.7h0M317.5 239.7h0M312.8 235.5h0M320.9 240.4h0M313.2 238.0h0M309.1 237.7h0M314.9 235.1h0M312.6 234.7h0M308.7 231.0h0M319.7 242.0h0M317.4 240.5h0M310.7 231.7h0M304.8 232.3h0M305.8 226.5h0M320.3 241.0h0M305.4 227.3h0M322.7 244.5h0M318.6 238.6h0M321.6 241.3h0M307.4 235.9h0M309.2 234.7h0M304.1 230.5h0M304.0 233.5h0M311.5 238.1h0M323.3 238.5h0M317.6 235.9h0M315.0 242.5h0M310.8 237.5h0M317.7 240.0h0M311.3 228.8h0M302.8 230.0h0M303.3 227.7h0M311.3 236.8h0M323.1 242.1h0M315.9 235.2h0M312.8 234.6h0M320.9 246.4h0M303.2 225.5h0M320.4 243.4h0M319.1 239.2h0M305.4 232.4h0M313.6 230.9h0M322.1 240.9h0M312.3 236.6h0M321.1 244.4h0M312.0 231.1h0M316.8 239.5h0M309.5 233.1h0M309.1 234.7h0M312.1 234.5h0M323.9 239.7h0M308.5 233.3h0M307.4 230.7h0M309.1 230.9h0M303.8 229.6h0M312.2 239.9h0M317.1 233.6h0M303.6 230.4h0M304.3 226.9h0M320.3 237.3h0M310.4 235.5h0M302.5 231.9h0M306.9 232.8h0M314.6 236.8h0M317.5 236.4h0M306.6 232.3h0M321.6 243.8h0M307.3 229.2h0M306.4 236.1h0M317.3 240.3h0M314.4 241.0h0M314.2 241.5h0M306.0 225.7h0M306.1 227.1h0M320.1 244.9h0M309.1 231.1h0M303.2 227.0h0M307.9 228.2h0M308.0 234.1h0M310.2 238.7h0M316.4 238.9h0M314.7 238.4h0M321.1 246.9h0M321.6 243.2h0M321.3 245.3h0M313.1 239.3h0M311.9 235.9h0M311.1 232.7h0M312.7 233.7h0M309.3 236.4h0M314.3 241.1h0M319.8 244.8h0M311.9 232.0h0M316.5 242.2h0M313.7 232.6h0M313.9 235.3h0M313.5 240.4h0M315.3 235.8h0M311.4 234.0h0M321.0 239.3h0M301.7 229.5h0M302.3 230.7h0M315.9 235.5h0M305.0 230.3h0M315.3 239.6h0M319.3 239.1h0M300.3 228.3h0M307.9 227.7h0M318.3 237.1h0M323.9 242.0h0M309.1 231.0h0M314.8 236.4h0M316.5 240.5h0M316.8 242.4h0M310.4 232.2h0M314.6 234.6h0M321.0 240.4h0M318.3 236.3h0M310.0 233.6h0M303.6 231.0h0M314.9 239.4h0M316.3 238.7h0M322.5 238.9h0M302.0 229.8h0M320.0 243.5h0M316.9 239.6h0M316.8 240.3h0M308.4 231.6h0M322.7 241.7h0M318.4 241.4h0M319.7 242.8h0M304.0 223.5h0M308.5 229.6h0M316.2 233.5h0M314.7 239.4h0M318.6 245.1h0M320.0 245.0h0M300.9 227.2h0M306.1 226.9h0M313.5 232.2h0M301.0 227.6h0M305.9 234.7h0M313.3 234.2h0M314.8 240.8h0M322.2 241.4h0M306.5 226.1h0M300.7 227.8h0M315.7 232.3h0M307.0 231.9h0M309.7 231.5h0M320.3 237.9h0M316.1 239.3h0M324.2 238.9h0M312.9 232.2h0M302.0 228.4h0M310.3 235.4h0M317.5 242.2h0M317.6 234.4h0M307.6 236.4h0M314.7 239.7h0M309.3 230.2h0M309.4 229.7h0M311.8 237.6h0M305.3 234.5h0M306.9 225.8h0M318.5 237.1h0M321.6 242.6h0M324.0 242.6h0M319.9 240.4h0M321.2 240.5h0M316.2 243.4h0M310.9 230.4h0M324.2 239.4h0M306.1 230.7h0M319.0 241.8h0M318.4 235.7h0M302.3 232.9h0M310.5 233.3h0M315.4 237.5h0M300.6 227.5h0M307.1 231.2h0M308.2 228.4h0M313.2 233.6h0M301.7 228.8h0M304.6 228.0h0M312.6 233.2h0M307.9 231.2h0M311.6 231.4h0M306.2 227.2h0M312.6 238.4h0M307.3 236.6h0M320.4 243.5h0M316.2 235.7h0M319.1 244.5h0M299.9 230.4h0M317.9 241.1h0M311.6 239.9h0M308.6 231.0h0M306.1 227.4h0M304.5 225.4h0M303.1 228.2h0M314.9 238.1h0M318.6 240.9h0M307.8 234.8h0M308.1 233.7h0M322.6 244.4h0M303.9 226.7h0M312.2 232.3h0M324.2 240.5h0M319.9 239.1h0M303.2 230.3h0M325.6 240.2h0M301.5 230.2h0M304.2 233.7h0M304.2 224.4h0M314.0 240.7h0M316.5 238.0h0M316.3 241.9h0M309.9 232.7h0M306.3 234.5h0M313.2 234.8h0M302.3 225.4h0M309.6 227.9h0M321.2 236.2h0M314.3 234.3h0M321.8 240.2h0M302.6 230.6h0M309.1 236.8h0M318.7 244.3h0M309.6 235.6h0M309.3 233.1h0M323.1 244.8h0M305.9 232.3h0M310.1 235.1h0M310.6 237.4h0M310.6 233.1h0M303.6 234.1h0M315.8 237.2h0M316.7 239.9h0M309.7 234.9h0M319.2 238.4h0M316.3 243.2h0M322.6 242.9h0M308.3 229.8h0M316.7 235.4h0M311.8 234.5h0M308.2 231.3h0M315.1 237.5h0M308.6 229.6h0M321.0 238.9h0M308.7 229.7h0M305.8 230.0h0M321.6 238.4h0M321.3 236.4h0M316.3 242.2h0M305.5 224.8h0M313.9 240.7h0M310.1 232.8h0M303.4 228.0h0M315.4 232.0h0M301.4 226.3h0M307.7 236.7h0M313.2 236.1h0M319.9 242.8h0M320.7 245.9h0M324.7 240.1h0M301.3 227.7h0M316.4 233.6h0M304.9 230.5h0M322.1 240.2h0M316.0 240.1h0M315.0 239.3h0M312.2 235.5h0M311.0 236.4h0M314.7 238.4h0M305.9 230.5h0M320.1 239.6h0M319.8 236.5h0M309.2 236.5h0M326.1 240.2h0M308.5 231.3h0M302.4 225.1h0M314.8 241.1h0M304.0 229.9h0M304.7 233.3h0M312.6 239.4h0M307.0 229.0h0M303.7 223.5h0M313.8 240.5h0M308.2 234.0h0M318.9 238.9h0M305.5 230.6h0M304.4 225.9h0M308.2 230.1h0M305.7 231.6h0M315.9 239.1h0M318.8 235.2h0M317.5 240.3h0M313.3 237.7h0M318.5 239.1h0M317.6 235.3h0M320.5 236.3h0M313.7 238.9h0M319.3 239.9h0M319.0 236.6h0M319.2 236.7h0M316.5 238.1h0M315.3 239.1h0M314.5 238.3h0M316.9 236.6h0M318.1 239.1h0M315.8 238.7h0M318.6 239.3h0M317.4 240.5h0M319.1 235.2h0M314.7 239.7h0M316.4 235.7h0M318.7 237.1h0M318.4 237.2h0M317.4 236.1h0M313.8 238.9h0M317.5 238.9h0M315.5 239.4h0M316.3 235.9h0M317.7 239.4h0M315.1 239.0h0M316.4 236.0h0M314.9 239.8h0M313.6 239.0h0M316.0 235.7h0M317.4 238.9h0M313.8 239.3h0M317.7 240.4h0M317.2 236.7h0M315.0 235.3h0M315.6 240.5h0M318.0 237.5h0M317.7 237.3h0M315.9 236.7h0M316.2 236.0h0M316.3 239.3h0M315.5 235.2h0M319.1 238.6h0M317.9 237.9h0M319.2 240.1h0M315.5 237.8h0M316.6 237.2h0M319.8 235.9h0M318.6 235.7h0M317.6 235.3h0M320.7 237.0h0M316.3 238.3h0M318.5 237.9h0M313.9 237.4h0M319.1 235.4h0M301.5 209.4h0M323.1 237.0h0M293.1 233.1h0"/>
<path stroke="#00BBDA" stroke-width="1.10" stroke-linecap="round" d="M303.3 239.1h0M305.7 237.1h0M307.3 233.5h0M301.8 232.7h0M304.4 238.8h0M300.8 235.1h0M301.9 237.3h0M304.4 236.0h0M308.0 235.4h0M304.5 236.4h0M303.4 232.4h0M305.1 235.5h0M304.0 234.0h0M303.5 232.6h0M303.6 237.2h0M306.0 236.4h0M304.0 237.7h0M303.0 236.8h0M303.5 238.0h0M301.5 234.0h0M300.2 234.7h0M306.7 235.8h0M300.7 237.9h0M302.7 235.9h0M302.1 238.5h0M306.9 234.5h0M307.2 235.8h0M306.4 235.7h0M305.5 232.0h0M304.9 233.5h0M302.1 238.3h0M303.2 235.7h0M306.8 237.8h0M301.3 232.3h0M306.0 233.3h0M302.3 234.2h0M307.6 235.9h0M304.9 239.8h0M307.2 234.9h0M303.8 231.9h0M304.2 232.4h0M307.1 236.4h0M305.8 233.8h0M303.4 236.0h0M306.8 235.0h0M302.8 239.7h0M301.6 237.6h0M303.2 235.3h0M305.0 235.1h0M303.2 235.3h0M306.8 234.0h0M300.2 234.3h0M307.3 236.1h0M304.4 238.8h0M304.0 232.5h0M305.4 237.7h0M300.7 236.0h0M301.2 238.6h0M309.8 240.2h0M308.7 238.9h0M306.5 237.7h0M305.5 239.6h0M304.9 239.6h0M308.6 239.0h0M306.3 238.8h0M308.5 240.9h0M306.1 239.2h0M307.1 241.3h0M307.1 240.9h0M309.5 241.2h0M305.9 239.5h0M306.7 240.7h0M308.6 241.2h0M307.7 241.1h0M308.0 239.3h0M308.4 240.5h0M306.3 237.9h0M309.5 239.8h0M306.8 239.3h0M304.7 239.3h0M309.2 240.7h0M309.1 240.3h0M306.9 237.9h0M305.3 238.0h0M307.6 241.3h0M306.0 240.1h0M307.7 239.2h0M307.2 238.6h0M289.5 231.0h0M289.8 230.9h0M289.2 230.4h0M288.9 231.6h0M289.0 230.6h0M288.4 223.3h0M303.7 241.4h0M290.7 224.2h0M324.9 228.1h0M292.8 226.0h0M315.5 228.5h0M304.5 217.5h0"/>
<path stroke="#F962DD" stroke-width="1.10" stroke-linecap="round" d="M293.6 236.9h0M295.4 237.1h0M293.8 237.5h0M293.9 236.1h0M294.7 235.9h0M294.0 237.3h0M295.8 236.4h0M294.1 236.8h0M293.9 236.2h0M294.5 236.1h0"/>
<path stroke="#8B93FF" stroke-width="1.10" stroke-linecap="round" d="M298.8 243.8h0M300.8 242.3h0M299.5 242.3h0M299.1 243.4h0M301.6 243.2h0M298.5 242.0h0M300.2 243.6h0M298.5 242.3h0M301.3 242.8h0M299.8 242.3h0M297.9 242.5h0M297.6 242.1h0M299.8 243.2h0M299.4 242.3h0M300.1 243.8h0"/>
<path stroke="#D575FE" stroke-width="1.10" stroke-linecap="round" d="M308.6 245.9h0M309.6 243.9h0M308.1 245.2h0M308.9 245.8h0M309.0 245.8h0M309.7 245.7h0M309.3 243.7h0M309.0 245.3h0M309.0 244.0h0M308.8 243.8h0"/>
<text x="301.3" y="209.5" font-size="3.7" font-weight="bold" fill="#111" stroke="#111" stroke-width="0.12">Mac</text>
<text x="313.5" y="209.9" font-size="3.7" font-weight="bold" fill="#111" stroke="#111" stroke-width="0.12">LOH</text>
<text x="319.3" y="214.4" font-size="3.7" font-weight="bold" fill="#111" stroke="#111" stroke-width="0.12">EPC</text>
<text x="323.7" y="222.4" font-size="3.7" font-weight="bold" fill="#111" stroke="#111" stroke-width="0.12">Endo</text>
<text x="327.0" y="228.9" font-size="3.7" font-weight="bold" fill="#111" stroke="#111" stroke-width="0.12">Mas</text>
<text x="298.0" y="221.0" font-size="3.7" font-weight="bold" fill="#111" stroke="#111" stroke-width="0.12">PT</text>
<text x="313.5" y="229.4" font-size="3.7" font-weight="bold" fill="#111" stroke="#111" stroke-width="0.12">DCT</text>
<text x="286.6" y="233.4" font-size="3.7" font-weight="bold" fill="#111" stroke="#111" stroke-width="0.12">T/NK</text>
<text x="307.7" y="236.5" font-size="3.7" font-weight="bold" fill="#111" stroke="#111" stroke-width="0.12">CD</text>
<text x="293.6" y="238.9" font-size="3.7" font-weight="bold" fill="#111" stroke="#111" stroke-width="0.12">B</text>
<text x="298.0" y="238.9" font-size="3.7" font-weight="bold" fill="#111" stroke="#111" stroke-width="0.12">Fibro</text>
<text x="298.1" y="245.9" font-size="3.7" font-weight="bold" fill="#111" stroke="#111" stroke-width="0.12">Neu</text>
<text x="307.7" y="245.9" font-size="3.7" font-weight="bold" fill="#111" stroke="#111" stroke-width="0.12">Podo</text>
<path d="M184.8,148.7 V194.4 M184.8,203 V250.6" fill="none" stroke="#9a9a9a" stroke-width="0.8"/>
<text x="182.4" y="161.3" font-size="7.5" text-anchor="end" fill="#111" font-weight="bold" stroke="#111" stroke-width="0.3">-25</text>
<text x="182.4" y="173.9" font-size="7.5" text-anchor="end" fill="#111" font-weight="bold" stroke="#111" stroke-width="0.3">0</text>
<text x="182.4" y="186.7" font-size="7.5" text-anchor="end" fill="#111" font-weight="bold" stroke="#111" stroke-width="0.3">25</text>
<text x="182.4" y="215.7" font-size="7.5" text-anchor="end" fill="#111" font-weight="bold" stroke="#111" stroke-width="0.3">-25</text>
<text x="182.4" y="228.3" font-size="7.5" text-anchor="end" fill="#111" font-weight="bold" stroke="#111" stroke-width="0.3">0</text>
<text x="182.4" y="241.1" font-size="7.5" text-anchor="end" fill="#111" font-weight="bold" stroke="#111" stroke-width="0.3">25</text>
<path d="M184.8,250.6 H235 M237,250.6 H288 M290,250.6 H340" fill="none" stroke="#9a9a9a" stroke-width="0.8"/>
<text x="196" y="259.6" font-size="7.5" text-anchor="middle" fill="#111" font-weight="bold" stroke="#111" stroke-width="0.3">-25</text>
<text x="208" y="259.6" font-size="7.5" text-anchor="middle" fill="#111" font-weight="bold" stroke="#111" stroke-width="0.3">0</text>
<text x="219.3" y="259.6" font-size="7.5" text-anchor="middle" fill="#111" font-weight="bold" stroke="#111" stroke-width="0.3">25</text>
<text x="231.8" y="259.6" font-size="7.5" text-anchor="middle" fill="#111" font-weight="bold" stroke="#111" stroke-width="0.3">50</text>
<text x="247.4" y="259.6" font-size="7.5" text-anchor="middle" fill="#111" font-weight="bold" stroke="#111" stroke-width="0.3">-25</text>
<text x="259.9" y="259.6" font-size="7.5" text-anchor="middle" fill="#111" font-weight="bold" stroke="#111" stroke-width="0.3">0</text>
<text x="270.2" y="259.6" font-size="7.5" text-anchor="middle" fill="#111" font-weight="bold" stroke="#111" stroke-width="0.3">25</text>
<text x="284.3" y="259.6" font-size="7.5" text-anchor="middle" fill="#111" font-weight="bold" stroke="#111" stroke-width="0.3">50</text>
<text x="301" y="259.6" font-size="7.5" text-anchor="middle" fill="#111" font-weight="bold" stroke="#111" stroke-width="0.3">-25</text>
<text x="313.5" y="259.6" font-size="7.5" text-anchor="middle" fill="#111" font-weight="bold" stroke="#111" stroke-width="0.3">0</text>
<text x="324.5" y="259.6" font-size="7.5" text-anchor="middle" fill="#111" font-weight="bold" stroke="#111" stroke-width="0.3">25</text>
<text x="336.6" y="259.6" font-size="7.5" text-anchor="middle" fill="#111" font-weight="bold" stroke="#111" stroke-width="0.3">50</text>
<text x="255" y="270.3" font-size="7.5" text-anchor="middle" fill="#111" font-weight="bold" stroke="#111" stroke-width="0.3">tSNE−1</text>
<text x="171.2" y="195.3" font-size="7.5" text-anchor="middle" fill="#111" font-weight="bold" transform="rotate(-90 171.2 195.3)" stroke="#111" stroke-width="0.3">tSNE−2</text>
<circle cx="337.8" cy="148.70" r="2.0" fill="#F8766D"/>
<text x="340.0" y="150.80" font-size="5.75" text-anchor="start" fill="#111" font-weight="bold" stroke="#111" stroke-width="0.3">Distal convoluted tubule (DCT)</text>
<circle cx="337.8" cy="156.65" r="2.0" fill="#EC8A06"/>
<text x="340.0" y="158.75" font-size="5.75" text-anchor="start" fill="#111" font-weight="bold" stroke="#111" stroke-width="0.3">Proximal tubule (PT)</text>
<circle cx="337.8" cy="164.60" r="2.0" fill="#BE9C00"/>
<text x="340.0" y="166.70" font-size="5.75" text-anchor="start" fill="#111" font-weight="bold" stroke="#111" stroke-width="0.3">Collecting duct cells (CD)</text>
<circle cx="337.8" cy="172.55" r="2.0" fill="#8CAB00"/>
<text x="340.0" y="174.65" font-size="5.75" text-anchor="start" fill="#111" font-weight="bold" stroke="#111" stroke-width="0.3">Endothelial (Endo)</text>
<circle cx="337.8" cy="180.50" r="2.0" fill="#24B700"/>
<text x="340.0" y="182.60" font-size="5.75" text-anchor="start" fill="#111" font-weight="bold" stroke="#111" stroke-width="0.3">Macrophage (Mac)</text>
<circle cx="337.8" cy="188.45" r="2.0" fill="#00BE70"/>
<text x="340.0" y="190.55" font-size="5.75" text-anchor="start" fill="#111" font-weight="bold" stroke="#111" stroke-width="0.3">Loop of Henle (LOH)</text>
<circle cx="337.8" cy="196.40" r="2.0" fill="#00C1AB"/>
<text x="340.0" y="198.50" font-size="5.75" text-anchor="start" fill="#111" font-weight="bold" stroke="#111" stroke-width="0.3">T/NK cells</text>
<circle cx="337.8" cy="204.35" r="2.0" fill="#00BBDA"/>
<text x="340.0" y="206.45" font-size="5.75" text-anchor="start" fill="#111" font-weight="bold" stroke="#111" stroke-width="0.3">Fibroblast (Fibro)</text>
<circle cx="337.8" cy="212.30" r="2.0" fill="#00ACFC"/>
<text x="340.0" y="214.40" font-size="5.75" text-anchor="start" fill="#111" font-weight="bold" stroke="#111" stroke-width="0.3">Erythroid precursor cells (EPC)</text>
<circle cx="337.8" cy="220.25" r="2.0" fill="#8B93FF"/>
<text x="340.0" y="222.35" font-size="5.75" text-anchor="start" fill="#111" font-weight="bold" stroke="#111" stroke-width="0.3">Neutrophil (Neu)</text>
<circle cx="337.8" cy="228.20" r="2.0" fill="#D575FE"/>
<text x="340.0" y="230.30" font-size="5.75" text-anchor="start" fill="#111" font-weight="bold" stroke="#111" stroke-width="0.3">Podocytes (Podo)</text>
<circle cx="337.8" cy="236.15" r="2.0" fill="#F962DD"/>
<text x="340.0" y="238.25" font-size="5.75" text-anchor="start" fill="#111" font-weight="bold" stroke="#111" stroke-width="0.3">B cells</text>
<circle cx="337.8" cy="244.10" r="2.0" fill="#FF65AC"/>
<text x="340.0" y="246.20" font-size="5.75" text-anchor="start" fill="#111" font-weight="bold" stroke="#111" stroke-width="0.3">Mast cells (Mas)</text>
<text x="4.2" y="279.7" font-size="7" text-anchor="start" fill="#111" font-weight="bold" stroke="#111" stroke-width="0.3">d</text>
<text x="103.0" y="284.9" font-size="6.95" text-anchor="end" fill="#111" font-weight="bold" stroke="#111" stroke-width="0.3">Mast cells</text>
<text x="103.0" y="292.0" font-size="6.95" text-anchor="end" fill="#111" font-weight="bold" stroke="#111" stroke-width="0.3">B cells</text>
<text x="103.0" y="299.1" font-size="6.95" text-anchor="end" fill="#111" font-weight="bold" stroke="#111" stroke-width="0.3">Podocytes</text>
<text x="103.0" y="306.2" font-size="6.95" text-anchor="end" fill="#111" font-weight="bold" stroke="#111" stroke-width="0.3">Neutrophils</text>
<text x="103.0" y="313.3" font-size="6.95" text-anchor="end" fill="#111" font-weight="bold" stroke="#111" stroke-width="0.3">Erythroid precursor cells</text>
<text x="103.0" y="320.4" font-size="6.95" text-anchor="end" fill="#111" font-weight="bold" stroke="#111" stroke-width="0.3">Fibroblasts</text>
<text x="103.0" y="327.5" font-size="6.95" text-anchor="end" fill="#111" font-weight="bold" stroke="#111" stroke-width="0.3">NK and T cells</text>
<text x="103.0" y="334.6" font-size="6.95" text-anchor="end" fill="#111" font-weight="bold" stroke="#111" stroke-width="0.3">Loop of Henle cells</text>
<text x="103.0" y="341.7" font-size="6.95" text-anchor="end" fill="#111" font-weight="bold" stroke="#111" stroke-width="0.3">Macrophages</text>
<text x="103.0" y="348.8" font-size="6.95" text-anchor="end" fill="#111" font-weight="bold" stroke="#111" stroke-width="0.3">Endothelial cells</text>
<text x="103.0" y="355.9" font-size="6.95" text-anchor="end" fill="#111" font-weight="bold" stroke="#111" stroke-width="0.3">Collecting duct cells</text>
<text x="103.0" y="363.0" font-size="6.95" text-anchor="end" fill="#111" font-weight="bold" stroke="#111" stroke-width="0.3">Proximal tubule cells</text>
<text x="103.0" y="370.1" font-size="6.95" text-anchor="end" fill="#111" font-weight="bold" stroke="#111" stroke-width="0.3">Distal tubule cells</text>
<path d="M106.4,279.3 V372.3 H362.5 M104.6,283.1H106.4M104.6,290.2H106.4M104.6,297.3H106.4M104.6,304.4H106.4M104.6,311.5H106.4M104.6,318.6H106.4M104.6,325.7H106.4M104.6,332.8H106.4M104.6,339.9H106.4M104.6,347.0H106.4M104.6,354.1H106.4M104.6,361.2H106.4M104.6,368.3H106.4M109.8,372.3V373.9M116.0,372.3V373.9M122.2,372.3V373.9M128.4,372.3V373.9M134.6,372.3V373.9M140.8,372.3V373.9M147.0,372.3V373.9M153.2,372.3V373.9M159.4,372.3V373.9M165.6,372.3V373.9M171.8,372.3V373.9M178.0,372.3V373.9M184.2,372.3V373.9M190.4,372.3V373.9M196.6,372.3V373.9M202.8,372.3V373.9M209.0,372.3V373.9M215.2,372.3V373.9M221.4,372.3V373.9M227.6,372.3V373.9M233.8,372.3V373.9M240.0,372.3V373.9M246.2,372.3V373.9M252.4,372.3V373.9M258.6,372.3V373.9M264.8,372.3V373.9M271.0,372.3V373.9M277.2,372.3V373.9M283.4,372.3V373.9M289.6,372.3V373.9M295.8,372.3V373.9M302.0,372.3V373.9M308.2,372.3V373.9M314.4,372.3V373.9M320.6,372.3V373.9M326.8,372.3V373.9M333.0,372.3V373.9M339.2,372.3V373.9M345.4,372.3V373.9M351.6,372.3V373.9M357.8,372.3V373.9" fill="none" stroke="#333" stroke-width="0.6"/>
<text x="110.8" y="376.0" font-size="4.9" font-weight="bold" fill="#111" text-anchor="end" transform="rotate(-90 110.8 376.0)" stroke="#111" stroke-width="0.12">Ms4a2</text>
<text x="117.0" y="376.0" font-size="4.9" font-weight="bold" fill="#111" text-anchor="end" transform="rotate(-90 117.0 376.0)" stroke="#111" stroke-width="0.12">Fcer1a</text>
<text x="123.2" y="376.0" font-size="4.9" font-weight="bold" fill="#111" text-anchor="end" transform="rotate(-90 123.2 376.0)" stroke="#111" stroke-width="0.12">Il1rl1</text>
<text x="129.4" y="376.0" font-size="4.9" font-weight="bold" fill="#111" text-anchor="end" transform="rotate(-90 129.4 376.0)" stroke="#111" stroke-width="0.12">Mzb1</text>
<text x="135.6" y="376.0" font-size="4.9" font-weight="bold" fill="#111" text-anchor="end" transform="rotate(-90 135.6 376.0)" stroke="#111" stroke-width="0.12">Cd79b</text>
<text x="141.8" y="376.0" font-size="4.9" font-weight="bold" fill="#111" text-anchor="end" transform="rotate(-90 141.8 376.0)" stroke="#111" stroke-width="0.12">Cd79a</text>
<text x="148.0" y="376.0" font-size="4.9" font-weight="bold" fill="#111" text-anchor="end" transform="rotate(-90 148.0 376.0)" stroke="#111" stroke-width="0.12">Nphs1</text>
<text x="154.2" y="376.0" font-size="4.9" font-weight="bold" fill="#111" text-anchor="end" transform="rotate(-90 154.2 376.0)" stroke="#111" stroke-width="0.12">Nphs2</text>
<text x="160.4" y="376.0" font-size="4.9" font-weight="bold" fill="#111" text-anchor="end" transform="rotate(-90 160.4 376.0)" stroke="#111" stroke-width="0.12">Podxl</text>
<text x="166.6" y="376.0" font-size="4.9" font-weight="bold" fill="#111" text-anchor="end" transform="rotate(-90 166.6 376.0)" stroke="#111" stroke-width="0.12">S100a8</text>
<text x="172.8" y="376.0" font-size="4.9" font-weight="bold" fill="#111" text-anchor="end" transform="rotate(-90 172.8 376.0)" stroke="#111" stroke-width="0.12">S100a9</text>
<text x="179.0" y="376.0" font-size="4.9" font-weight="bold" fill="#111" text-anchor="end" transform="rotate(-90 179.0 376.0)" stroke="#111" stroke-width="0.12">Retnlg</text>
<text x="185.2" y="376.0" font-size="4.9" font-weight="bold" fill="#111" text-anchor="end" transform="rotate(-90 185.2 376.0)" stroke="#111" stroke-width="0.12">Hbb-bs</text>
<text x="191.4" y="376.0" font-size="4.9" font-weight="bold" fill="#111" text-anchor="end" transform="rotate(-90 191.4 376.0)" stroke="#111" stroke-width="0.12">Hba-a1</text>
<text x="197.6" y="376.0" font-size="4.9" font-weight="bold" fill="#111" text-anchor="end" transform="rotate(-90 197.6 376.0)" stroke="#111" stroke-width="0.12">Hbb-bt</text>
<text x="203.8" y="376.0" font-size="4.9" font-weight="bold" fill="#111" text-anchor="end" transform="rotate(-90 203.8 376.0)" stroke="#111" stroke-width="0.12">Col1a1</text>
<text x="210.0" y="376.0" font-size="4.9" font-weight="bold" fill="#111" text-anchor="end" transform="rotate(-90 210.0 376.0)" stroke="#111" stroke-width="0.12">Fn1</text>
<text x="216.2" y="376.0" font-size="4.9" font-weight="bold" fill="#111" text-anchor="end" transform="rotate(-90 216.2 376.0)" stroke="#111" stroke-width="0.12">Col3a1</text>
<text x="222.4" y="376.0" font-size="4.9" font-weight="bold" fill="#111" text-anchor="end" transform="rotate(-90 222.4 376.0)" stroke="#111" stroke-width="0.12">Ccl5</text>
<text x="228.6" y="376.0" font-size="4.9" font-weight="bold" fill="#111" text-anchor="end" transform="rotate(-90 228.6 376.0)" stroke="#111" stroke-width="0.12">Il7r</text>
<text x="234.8" y="376.0" font-size="4.9" font-weight="bold" fill="#111" text-anchor="end" transform="rotate(-90 234.8 376.0)" stroke="#111" stroke-width="0.12">Ltb</text>
<text x="241.0" y="376.0" font-size="4.9" font-weight="bold" fill="#111" text-anchor="end" transform="rotate(-90 241.0 376.0)" stroke="#111" stroke-width="0.12">Slc12a1</text>
<text x="247.2" y="376.0" font-size="4.9" font-weight="bold" fill="#111" text-anchor="end" transform="rotate(-90 247.2 376.0)" stroke="#111" stroke-width="0.12">Umod</text>
<text x="253.4" y="376.0" font-size="4.9" font-weight="bold" fill="#111" text-anchor="end" transform="rotate(-90 253.4 376.0)" stroke="#111" stroke-width="0.12">Mt2</text>
<text x="259.6" y="376.0" font-size="4.9" font-weight="bold" fill="#111" text-anchor="end" transform="rotate(-90 259.6 376.0)" stroke="#111" stroke-width="0.12">Cd74</text>
<text x="265.8" y="376.0" font-size="4.9" font-weight="bold" fill="#111" text-anchor="end" transform="rotate(-90 265.8 376.0)" stroke="#111" stroke-width="0.12">C1qa</text>
<text x="272.0" y="376.0" font-size="4.9" font-weight="bold" fill="#111" text-anchor="end" transform="rotate(-90 272.0 376.0)" stroke="#111" stroke-width="0.12">C1qb</text>
<text x="278.2" y="376.0" font-size="4.9" font-weight="bold" fill="#111" text-anchor="end" transform="rotate(-90 278.2 376.0)" stroke="#111" stroke-width="0.12">Kdr</text>
<text x="284.4" y="376.0" font-size="4.9" font-weight="bold" fill="#111" text-anchor="end" transform="rotate(-90 284.4 376.0)" stroke="#111" stroke-width="0.12">Nrp1</text>
<text x="290.6" y="376.0" font-size="4.9" font-weight="bold" fill="#111" text-anchor="end" transform="rotate(-90 290.6 376.0)" stroke="#111" stroke-width="0.12">Plvap</text>
<text x="296.8" y="376.0" font-size="4.9" font-weight="bold" fill="#111" text-anchor="end" transform="rotate(-90 296.8 376.0)" stroke="#111" stroke-width="0.12">Atp6v1g3</text>
<text x="303.0" y="376.0" font-size="4.9" font-weight="bold" fill="#111" text-anchor="end" transform="rotate(-90 303.0 376.0)" stroke="#111" stroke-width="0.12">Atp6v0d2</text>
<text x="309.2" y="376.0" font-size="4.9" font-weight="bold" fill="#111" text-anchor="end" transform="rotate(-90 309.2 376.0)" stroke="#111" stroke-width="0.12">Aqp2</text>
<text x="315.4" y="376.0" font-size="4.9" font-weight="bold" fill="#111" text-anchor="end" transform="rotate(-90 315.4 376.0)" stroke="#111" stroke-width="0.12">Hsd11b2</text>
<text x="321.6" y="376.0" font-size="4.9" font-weight="bold" fill="#111" text-anchor="end" transform="rotate(-90 321.6 376.0)" stroke="#111" stroke-width="0.12">Fxyd4</text>
<text x="327.8" y="376.0" font-size="4.9" font-weight="bold" fill="#111" text-anchor="end" transform="rotate(-90 327.8 376.0)" stroke="#111" stroke-width="0.12">Miox</text>
<text x="334.0" y="376.0" font-size="4.9" font-weight="bold" fill="#111" text-anchor="end" transform="rotate(-90 334.0 376.0)" stroke="#111" stroke-width="0.12">Lrp2</text>
<text x="340.2" y="376.0" font-size="4.9" font-weight="bold" fill="#111" text-anchor="end" transform="rotate(-90 340.2 376.0)" stroke="#111" stroke-width="0.12">Slc27a2</text>
<text x="346.4" y="376.0" font-size="4.9" font-weight="bold" fill="#111" text-anchor="end" transform="rotate(-90 346.4 376.0)" stroke="#111" stroke-width="0.12">Slc12a3</text>
<text x="352.6" y="376.0" font-size="4.9" font-weight="bold" fill="#111" text-anchor="end" transform="rotate(-90 352.6 376.0)" stroke="#111" stroke-width="0.12">Wnk4</text>
<text x="358.8" y="376.0" font-size="4.9" font-weight="bold" fill="#111" text-anchor="end" transform="rotate(-90 358.8 376.0)" stroke="#111" stroke-width="0.12">Pgam2</text>
<g fill="#1010f4"><circle cx="109.8" cy="283.1" r="2.10"/><circle cx="116.0" cy="283.1" r="1.30"/><circle cx="122.2" cy="283.1" r="2.00"/><circle cx="128.4" cy="290.2" r="1.50"/><circle cx="134.6" cy="290.2" r="2.40"/><circle cx="140.8" cy="290.2" r="2.40"/><circle cx="258.6" cy="290.2" r="2.50"/><circle cx="147.0" cy="297.3" r="2.40"/><circle cx="153.2" cy="297.3" r="2.40"/><circle cx="159.4" cy="297.3" r="2.40"/><circle cx="165.6" cy="304.4" r="2.50"/><circle cx="171.8" cy="304.4" r="2.50"/><circle cx="178.0" cy="304.4" r="2.00"/><circle cx="184.2" cy="311.5" r="2.60"/><circle cx="190.4" cy="311.5" r="2.60"/><circle cx="196.6" cy="311.5" r="2.60"/><circle cx="202.8" cy="318.6" r="2.50"/><circle cx="209.0" cy="318.6" r="2.50"/><circle cx="215.2" cy="318.6" r="2.50"/><circle cx="221.4" cy="325.7" r="1.20"/><circle cx="227.6" cy="325.7" r="1.70"/><circle cx="233.8" cy="325.7" r="2.20"/><circle cx="240.0" cy="332.8" r="2.20"/><circle cx="246.2" cy="332.8" r="2.20"/><circle cx="264.8" cy="339.9" r="1.70"/><circle cx="271.0" cy="339.9" r="1.70"/><circle cx="277.2" cy="347.0" r="2.00"/><circle cx="283.4" cy="347.0" r="2.00"/><circle cx="289.6" cy="347.0" r="2.00"/><circle cx="295.8" cy="354.1" r="0.90"/><circle cx="302.0" cy="354.1" r="0.70"/><circle cx="308.2" cy="354.1" r="1.70"/><circle cx="314.4" cy="354.1" r="1.70"/><circle cx="320.6" cy="354.1" r="1.70"/><circle cx="326.8" cy="361.2" r="2.50"/><circle cx="333.0" cy="361.2" r="2.50"/><circle cx="339.2" cy="361.2" r="2.50"/><circle cx="345.4" cy="368.3" r="1.30"/><circle cx="351.6" cy="368.3" r="1.30"/><circle cx="357.8" cy="368.3" r="1.30"/></g>
<g fill="#d4d0e0"><circle cx="128.4" cy="283.1" r="0.69"/><circle cx="134.6" cy="283.1" r="0.63"/><circle cx="140.8" cy="283.1" r="0.68"/><circle cx="147.0" cy="283.1" r="0.46"/><circle cx="153.2" cy="283.1" r="0.57"/><circle cx="159.4" cy="283.1" r="0.69"/><circle cx="165.6" cy="283.1" r="0.61"/><circle cx="171.8" cy="283.1" r="0.68"/><circle cx="178.0" cy="283.1" r="0.48"/><circle cx="190.4" cy="283.1" r="0.51"/><circle cx="196.6" cy="283.1" r="0.59"/><circle cx="202.8" cy="283.1" r="0.59"/><circle cx="209.0" cy="283.1" r="0.45"/><circle cx="221.4" cy="283.1" r="0.52"/><circle cx="264.8" cy="283.1" r="0.48"/><circle cx="271.0" cy="283.1" r="0.45"/><circle cx="277.2" cy="283.1" r="0.67"/><circle cx="283.4" cy="283.1" r="0.50"/><circle cx="289.6" cy="283.1" r="0.50"/><circle cx="295.8" cy="283.1" r="0.70"/><circle cx="302.0" cy="283.1" r="0.67"/><circle cx="345.4" cy="283.1" r="0.62"/><circle cx="351.6" cy="283.1" r="0.69"/><circle cx="357.8" cy="283.1" r="0.67"/><circle cx="109.8" cy="290.2" r="0.52"/><circle cx="116.0" cy="290.2" r="0.54"/><circle cx="122.2" cy="290.2" r="0.49"/><circle cx="147.0" cy="290.2" r="0.60"/><circle cx="153.2" cy="290.2" r="0.45"/><circle cx="159.4" cy="290.2" r="0.62"/><circle cx="165.6" cy="290.2" r="0.53"/><circle cx="171.8" cy="290.2" r="0.53"/><circle cx="178.0" cy="290.2" r="0.65"/><circle cx="190.4" cy="290.2" r="0.53"/><circle cx="196.6" cy="290.2" r="0.57"/><circle cx="202.8" cy="290.2" r="0.63"/><circle cx="221.4" cy="290.2" r="0.46"/><circle cx="264.8" cy="290.2" r="0.45"/><circle cx="271.0" cy="290.2" r="0.46"/><circle cx="277.2" cy="290.2" r="0.50"/><circle cx="283.4" cy="290.2" r="0.69"/><circle cx="289.6" cy="290.2" r="0.50"/><circle cx="295.8" cy="290.2" r="0.64"/><circle cx="302.0" cy="290.2" r="0.68"/><circle cx="345.4" cy="290.2" r="0.64"/><circle cx="351.6" cy="290.2" r="0.65"/><circle cx="357.8" cy="290.2" r="0.66"/><circle cx="109.8" cy="297.3" r="0.46"/><circle cx="116.0" cy="297.3" r="0.69"/><circle cx="122.2" cy="297.3" r="0.47"/><circle cx="128.4" cy="297.3" r="0.54"/><circle cx="134.6" cy="297.3" r="0.60"/><circle cx="140.8" cy="297.3" r="0.68"/><circle cx="165.6" cy="297.3" r="0.53"/><circle cx="171.8" cy="297.3" r="0.53"/><circle cx="178.0" cy="297.3" r="0.49"/><circle cx="190.4" cy="297.3" r="0.49"/><circle cx="196.6" cy="297.3" r="0.62"/><circle cx="202.8" cy="297.3" r="0.70"/><circle cx="209.0" cy="297.3" r="0.49"/><circle cx="215.2" cy="297.3" r="0.46"/><circle cx="264.8" cy="297.3" r="0.56"/><circle cx="271.0" cy="297.3" r="0.46"/><circle cx="277.2" cy="297.3" r="0.68"/><circle cx="289.6" cy="297.3" r="0.57"/><circle cx="295.8" cy="297.3" r="0.66"/><circle cx="302.0" cy="297.3" r="0.48"/><circle cx="345.4" cy="297.3" r="0.49"/><circle cx="351.6" cy="297.3" r="0.66"/><circle cx="357.8" cy="297.3" r="0.52"/><circle cx="109.8" cy="304.4" r="0.56"/><circle cx="116.0" cy="304.4" r="0.70"/><circle cx="122.2" cy="304.4" r="0.66"/><circle cx="128.4" cy="304.4" r="0.69"/><circle cx="134.6" cy="304.4" r="0.56"/><circle cx="140.8" cy="304.4" r="0.57"/><circle cx="147.0" cy="304.4" r="0.63"/><circle cx="153.2" cy="304.4" r="0.57"/><circle cx="159.4" cy="304.4" r="0.52"/><circle cx="190.4" cy="304.4" r="0.69"/><circle cx="196.6" cy="304.4" r="0.61"/><circle cx="202.8" cy="304.4" r="0.57"/><circle cx="209.0" cy="304.4" r="0.53"/><circle cx="215.2" cy="304.4" r="0.47"/><circle cx="221.4" cy="304.4" r="0.52"/><circle cx="264.8" cy="304.4" r="0.62"/><circle cx="271.0" cy="304.4" r="0.64"/><circle cx="277.2" cy="304.4" r="0.54"/><circle cx="283.4" cy="304.4" r="0.63"/><circle cx="289.6" cy="304.4" r="0.52"/><circle cx="295.8" cy="304.4" r="0.57"/><circle cx="302.0" cy="304.4" r="0.64"/><circle cx="345.4" cy="304.4" r="0.59"/><circle cx="351.6" cy="304.4" r="0.51"/><circle cx="357.8" cy="304.4" r="0.62"/><circle cx="109.8" cy="311.5" r="0.57"/><circle cx="116.0" cy="311.5" r="0.65"/><circle cx="122.2" cy="311.5" r="0.61"/><circle cx="128.4" cy="311.5" r="0.65"/><circle cx="134.6" cy="311.5" r="0.54"/><circle cx="140.8" cy="311.5" r="0.61"/><circle cx="147.0" cy="311.5" r="0.63"/><circle cx="153.2" cy="311.5" r="0.66"/><circle cx="159.4" cy="311.5" r="0.54"/><circle cx="165.6" cy="311.5" r="0.66"/><circle cx="171.8" cy="311.5" r="0.67"/><circle cx="178.0" cy="311.5" r="0.62"/><circle cx="215.2" cy="311.5" r="0.66"/><circle cx="264.8" cy="311.5" r="0.60"/><circle cx="271.0" cy="311.5" r="0.62"/><circle cx="277.2" cy="311.5" r="0.56"/><circle cx="283.4" cy="311.5" r="0.61"/><circle cx="289.6" cy="311.5" r="0.64"/><circle cx="295.8" cy="311.5" r="0.61"/><circle cx="302.0" cy="311.5" r="0.63"/><circle cx="345.4" cy="311.5" r="0.61"/><circle cx="351.6" cy="311.5" r="0.46"/><circle cx="357.8" cy="311.5" r="0.57"/><circle cx="109.8" cy="318.6" r="0.51"/><circle cx="116.0" cy="318.6" r="0.46"/><circle cx="122.2" cy="318.6" r="0.48"/><circle cx="128.4" cy="318.6" r="0.53"/><circle cx="134.6" cy="318.6" r="0.50"/><circle cx="140.8" cy="318.6" r="0.50"/><circle cx="147.0" cy="318.6" r="0.46"/><circle cx="153.2" cy="318.6" r="0.57"/><circle cx="159.4" cy="318.6" r="0.55"/><circle cx="165.6" cy="318.6" r="0.60"/><circle cx="171.8" cy="318.6" r="0.60"/><circle cx="178.0" cy="318.6" r="0.51"/><circle cx="221.4" cy="318.6" r="0.66"/><circle cx="264.8" cy="318.6" r="0.60"/><circle cx="271.0" cy="318.6" r="0.69"/><circle cx="277.2" cy="318.6" r="0.65"/><circle cx="289.6" cy="318.6" r="0.65"/><circle cx="295.8" cy="318.6" r="0.61"/><circle cx="302.0" cy="318.6" r="0.54"/><circle cx="345.4" cy="318.6" r="0.54"/><circle cx="351.6" cy="318.6" r="0.67"/><circle cx="357.8" cy="318.6" r="0.45"/><circle cx="109.8" cy="325.7" r="0.48"/><circle cx="116.0" cy="325.7" r="0.59"/><circle cx="122.2" cy="325.7" r="0.60"/><circle cx="128.4" cy="325.7" r="0.49"/><circle cx="134.6" cy="325.7" r="0.61"/><circle cx="140.8" cy="325.7" r="0.67"/><circle cx="147.0" cy="325.7" r="0.54"/><circle cx="153.2" cy="325.7" r="0.56"/><circle cx="159.4" cy="325.7" r="0.51"/><circle cx="165.6" cy="325.7" r="0.52"/><circle cx="171.8" cy="325.7" r="0.69"/><circle cx="178.0" cy="325.7" r="0.54"/><circle cx="202.8" cy="325.7" r="0.51"/><circle cx="209.0" cy="325.7" r="0.70"/><circle cx="215.2" cy="325.7" r="0.57"/><circle cx="264.8" cy="325.7" r="0.61"/><circle cx="271.0" cy="325.7" r="0.56"/><circle cx="277.2" cy="325.7" r="0.52"/><circle cx="283.4" cy="325.7" r="0.65"/><circle cx="289.6" cy="325.7" r="0.66"/><circle cx="295.8" cy="325.7" r="0.45"/><circle cx="302.0" cy="325.7" r="0.58"/><circle cx="345.4" cy="325.7" r="0.70"/><circle cx="351.6" cy="325.7" r="0.52"/><circle cx="357.8" cy="325.7" r="0.60"/><circle cx="109.8" cy="332.8" r="0.57"/><circle cx="116.0" cy="332.8" r="0.61"/><circle cx="122.2" cy="332.8" r="0.60"/><circle cx="128.4" cy="332.8" r="0.64"/><circle cx="134.6" cy="332.8" r="0.48"/><circle cx="140.8" cy="332.8" r="0.64"/><circle cx="147.0" cy="332.8" r="0.53"/><circle cx="153.2" cy="332.8" r="0.58"/><circle cx="159.4" cy="332.8" r="0.53"/><circle cx="165.6" cy="332.8" r="0.52"/><circle cx="171.8" cy="332.8" r="0.58"/><circle cx="178.0" cy="332.8" r="0.57"/><circle cx="202.8" cy="332.8" r="0.46"/><circle cx="209.0" cy="332.8" r="0.51"/><circle cx="215.2" cy="332.8" r="0.56"/><circle cx="264.8" cy="332.8" r="0.63"/><circle cx="271.0" cy="332.8" r="0.61"/><circle cx="277.2" cy="332.8" r="0.57"/><circle cx="289.6" cy="332.8" r="0.55"/><circle cx="295.8" cy="332.8" r="0.55"/><circle cx="302.0" cy="332.8" r="0.66"/><circle cx="345.4" cy="332.8" r="0.56"/><circle cx="357.8" cy="332.8" r="0.65"/><circle cx="109.8" cy="339.9" r="0.68"/><circle cx="116.0" cy="339.9" r="0.49"/><circle cx="122.2" cy="339.9" r="0.57"/><circle cx="128.4" cy="339.9" r="0.59"/><circle cx="134.6" cy="339.9" r="0.57"/><circle cx="140.8" cy="339.9" r="0.53"/><circle cx="147.0" cy="339.9" r="0.49"/><circle cx="153.2" cy="339.9" r="0.60"/><circle cx="159.4" cy="339.9" r="0.65"/><circle cx="165.6" cy="339.9" r="0.47"/><circle cx="171.8" cy="339.9" r="0.51"/><circle cx="178.0" cy="339.9" r="0.65"/><circle cx="202.8" cy="339.9" r="0.63"/><circle cx="221.4" cy="339.9" r="0.63"/><circle cx="277.2" cy="339.9" r="0.68"/><circle cx="289.6" cy="339.9" r="0.60"/><circle cx="295.8" cy="339.9" r="0.55"/><circle cx="302.0" cy="339.9" r="0.49"/><circle cx="345.4" cy="339.9" r="0.59"/><circle cx="351.6" cy="339.9" r="0.64"/><circle cx="357.8" cy="339.9" r="0.67"/><circle cx="109.8" cy="347.0" r="0.48"/><circle cx="116.0" cy="347.0" r="0.56"/><circle cx="122.2" cy="347.0" r="0.53"/><circle cx="128.4" cy="347.0" r="0.60"/><circle cx="134.6" cy="347.0" r="0.57"/><circle cx="140.8" cy="347.0" r="0.68"/><circle cx="147.0" cy="347.0" r="0.54"/><circle cx="153.2" cy="347.0" r="0.46"/><circle cx="165.6" cy="347.0" r="0.49"/><circle cx="171.8" cy="347.0" r="0.61"/><circle cx="178.0" cy="347.0" r="0.58"/><circle cx="209.0" cy="347.0" r="0.59"/><circle cx="215.2" cy="347.0" r="0.51"/><circle cx="221.4" cy="347.0" r="0.64"/><circle cx="264.8" cy="347.0" r="0.63"/><circle cx="271.0" cy="347.0" r="0.61"/><circle cx="295.8" cy="347.0" r="0.48"/><circle cx="302.0" cy="347.0" r="0.60"/><circle cx="308.2" cy="347.0" r="0.51"/><circle cx="314.4" cy="347.0" r="0.67"/><circle cx="320.6" cy="347.0" r="0.57"/><circle cx="326.8" cy="347.0" r="0.53"/><circle cx="333.0" cy="347.0" r="0.65"/><circle cx="339.2" cy="347.0" r="0.46"/><circle cx="345.4" cy="347.0" r="0.63"/><circle cx="351.6" cy="347.0" r="0.46"/><circle cx="357.8" cy="347.0" r="0.49"/><circle cx="109.8" cy="354.1" r="0.69"/><circle cx="116.0" cy="354.1" r="0.62"/><circle cx="122.2" cy="354.1" r="0.51"/><circle cx="128.4" cy="354.1" r="0.48"/><circle cx="134.6" cy="354.1" r="0.69"/><circle cx="140.8" cy="354.1" r="0.62"/><circle cx="147.0" cy="354.1" r="0.66"/><circle cx="153.2" cy="354.1" r="0.48"/><circle cx="159.4" cy="354.1" r="0.61"/><circle cx="165.6" cy="354.1" r="0.54"/><circle cx="171.8" cy="354.1" r="0.51"/><circle cx="178.0" cy="354.1" r="0.53"/><circle cx="202.8" cy="354.1" r="0.48"/><circle cx="215.2" cy="354.1" r="0.61"/><circle cx="221.4" cy="354.1" r="0.65"/><circle cx="227.6" cy="354.1" r="0.56"/><circle cx="233.8" cy="354.1" r="0.66"/><circle cx="258.6" cy="354.1" r="0.64"/><circle cx="264.8" cy="354.1" r="0.55"/><circle cx="271.0" cy="354.1" r="0.47"/><circle cx="277.2" cy="354.1" r="0.46"/><circle cx="283.4" cy="354.1" r="0.50"/><circle cx="289.6" cy="354.1" r="0.46"/><circle cx="333.0" cy="354.1" r="0.60"/><circle cx="339.2" cy="354.1" r="0.56"/><circle cx="345.4" cy="354.1" r="0.57"/><circle cx="351.6" cy="354.1" r="0.47"/><circle cx="357.8" cy="354.1" r="0.49"/><circle cx="109.8" cy="361.2" r="0.49"/><circle cx="116.0" cy="361.2" r="0.54"/><circle cx="122.2" cy="361.2" r="0.55"/><circle cx="128.4" cy="361.2" r="0.67"/><circle cx="134.6" cy="361.2" r="0.49"/><circle cx="140.8" cy="361.2" r="0.51"/><circle cx="147.0" cy="361.2" r="0.52"/><circle cx="153.2" cy="361.2" r="0.49"/><circle cx="159.4" cy="361.2" r="0.52"/><circle cx="165.6" cy="361.2" r="0.51"/><circle cx="171.8" cy="361.2" r="0.57"/><circle cx="178.0" cy="361.2" r="0.46"/><circle cx="202.8" cy="361.2" r="0.62"/><circle cx="209.0" cy="361.2" r="0.62"/><circle cx="215.2" cy="361.2" r="0.57"/><circle cx="221.4" cy="361.2" r="0.69"/><circle cx="227.6" cy="361.2" r="0.48"/><circle cx="233.8" cy="361.2" r="0.62"/><circle cx="258.6" cy="361.2" r="0.49"/><circle cx="264.8" cy="361.2" r="0.50"/><circle cx="271.0" cy="361.2" r="0.46"/><circle cx="277.2" cy="361.2" r="0.51"/><circle cx="283.4" cy="361.2" r="0.47"/><circle cx="289.6" cy="361.2" r="0.55"/><circle cx="295.8" cy="361.2" r="0.69"/><circle cx="302.0" cy="361.2" r="0.54"/><circle cx="308.2" cy="361.2" r="0.53"/><circle cx="314.4" cy="361.2" r="0.57"/><circle cx="320.6" cy="361.2" r="0.52"/><circle cx="357.8" cy="361.2" r="0.69"/><circle cx="109.8" cy="368.3" r="0.61"/><circle cx="116.0" cy="368.3" r="0.56"/><circle cx="122.2" cy="368.3" r="0.69"/><circle cx="128.4" cy="368.3" r="0.45"/><circle cx="134.6" cy="368.3" r="0.47"/><circle cx="140.8" cy="368.3" r="0.64"/><circle cx="147.0" cy="368.3" r="0.55"/><circle cx="153.2" cy="368.3" r="0.46"/><circle cx="159.4" cy="368.3" r="0.59"/><circle cx="165.6" cy="368.3" r="0.70"/><circle cx="171.8" cy="368.3" r="0.58"/><circle cx="178.0" cy="368.3" r="0.54"/><circle cx="190.4" cy="368.3" r="0.47"/><circle cx="196.6" cy="368.3" r="0.67"/><circle cx="209.0" cy="368.3" r="0.68"/><circle cx="215.2" cy="368.3" r="0.46"/><circle cx="227.6" cy="368.3" r="0.46"/><circle cx="233.8" cy="368.3" r="0.55"/><circle cx="258.6" cy="368.3" r="0.53"/><circle cx="264.8" cy="368.3" r="0.46"/><circle cx="271.0" cy="368.3" r="0.46"/><circle cx="277.2" cy="368.3" r="0.69"/><circle cx="283.4" cy="368.3" r="0.49"/><circle cx="289.6" cy="368.3" r="0.58"/><circle cx="295.8" cy="368.3" r="0.55"/><circle cx="302.0" cy="368.3" r="0.58"/><circle cx="308.2" cy="368.3" r="0.47"/><circle cx="314.4" cy="368.3" r="0.53"/><circle cx="320.6" cy="368.3" r="0.48"/><circle cx="339.2" cy="368.3" r="0.60"/></g>
<g fill="#b49ae6"><circle cx="184.2" cy="283.1" r="0.80"/><circle cx="240.0" cy="283.1" r="0.74"/><circle cx="252.4" cy="283.1" r="0.68"/><circle cx="308.2" cy="283.1" r="0.77"/><circle cx="314.4" cy="283.1" r="0.82"/><circle cx="320.6" cy="283.1" r="0.61"/><circle cx="326.8" cy="283.1" r="0.79"/><circle cx="333.0" cy="283.1" r="0.65"/><circle cx="339.2" cy="283.1" r="0.75"/><circle cx="184.2" cy="290.2" r="1.50"/><circle cx="308.2" cy="290.2" r="0.81"/><circle cx="314.4" cy="290.2" r="0.74"/><circle cx="320.6" cy="290.2" r="0.79"/><circle cx="326.8" cy="290.2" r="0.66"/><circle cx="333.0" cy="290.2" r="0.55"/><circle cx="339.2" cy="290.2" r="0.70"/><circle cx="184.2" cy="297.3" r="1.30"/><circle cx="227.6" cy="297.3" r="0.57"/><circle cx="252.4" cy="297.3" r="0.64"/><circle cx="258.6" cy="297.3" r="0.72"/><circle cx="308.2" cy="297.3" r="0.73"/><circle cx="314.4" cy="297.3" r="0.61"/><circle cx="320.6" cy="297.3" r="0.67"/><circle cx="326.8" cy="297.3" r="0.65"/><circle cx="333.0" cy="297.3" r="0.56"/><circle cx="339.2" cy="297.3" r="0.64"/><circle cx="184.2" cy="304.4" r="1.50"/><circle cx="227.6" cy="304.4" r="0.75"/><circle cx="240.0" cy="304.4" r="0.80"/><circle cx="246.2" cy="304.4" r="0.84"/><circle cx="246.2" cy="311.5" r="0.57"/><circle cx="184.2" cy="318.6" r="1.50"/><circle cx="190.4" cy="318.6" r="1.15"/><circle cx="196.6" cy="318.6" r="0.93"/><circle cx="227.6" cy="318.6" r="0.66"/><circle cx="233.8" cy="318.6" r="0.83"/><circle cx="258.6" cy="318.6" r="0.80"/><circle cx="283.4" cy="318.6" r="1.70"/><circle cx="184.2" cy="325.7" r="1.50"/><circle cx="190.4" cy="325.7" r="1.15"/><circle cx="196.6" cy="325.7" r="1.08"/><circle cx="240.0" cy="325.7" r="0.68"/><circle cx="252.4" cy="325.7" r="0.65"/><circle cx="308.2" cy="325.7" r="0.66"/><circle cx="314.4" cy="325.7" r="0.72"/><circle cx="320.6" cy="325.7" r="0.78"/><circle cx="326.8" cy="325.7" r="0.76"/><circle cx="333.0" cy="325.7" r="0.64"/><circle cx="339.2" cy="325.7" r="0.83"/><circle cx="184.2" cy="332.8" r="1.50"/><circle cx="190.4" cy="332.8" r="1.13"/><circle cx="196.6" cy="332.8" r="1.13"/><circle cx="227.6" cy="332.8" r="0.68"/><circle cx="283.4" cy="332.8" r="1.30"/><circle cx="308.2" cy="332.8" r="0.63"/><circle cx="314.4" cy="332.8" r="0.76"/><circle cx="320.6" cy="332.8" r="0.57"/><circle cx="326.8" cy="332.8" r="1.10"/><circle cx="333.0" cy="332.8" r="1.10"/><circle cx="339.2" cy="332.8" r="0.84"/><circle cx="184.2" cy="339.9" r="1.80"/><circle cx="190.4" cy="339.9" r="1.32"/><circle cx="196.6" cy="339.9" r="1.14"/><circle cx="240.0" cy="339.9" r="0.99"/><circle cx="246.2" cy="339.9" r="1.09"/><circle cx="252.4" cy="339.9" r="0.83"/><circle cx="283.4" cy="339.9" r="1.20"/><circle cx="308.2" cy="339.9" r="0.82"/><circle cx="314.4" cy="339.9" r="0.76"/><circle cx="320.6" cy="339.9" r="0.80"/><circle cx="326.8" cy="339.9" r="0.77"/><circle cx="333.0" cy="339.9" r="0.73"/><circle cx="339.2" cy="339.9" r="0.61"/><circle cx="159.4" cy="347.0" r="1.50"/><circle cx="184.2" cy="347.0" r="1.80"/><circle cx="190.4" cy="347.0" r="1.34"/><circle cx="196.6" cy="347.0" r="1.11"/><circle cx="227.6" cy="347.0" r="0.62"/><circle cx="233.8" cy="347.0" r="0.80"/><circle cx="240.0" cy="347.0" r="0.83"/><circle cx="246.2" cy="347.0" r="0.82"/><circle cx="252.4" cy="347.0" r="0.86"/><circle cx="184.2" cy="354.1" r="1.80"/><circle cx="190.4" cy="354.1" r="1.38"/><circle cx="196.6" cy="354.1" r="1.19"/><circle cx="240.0" cy="354.1" r="0.91"/><circle cx="246.2" cy="354.1" r="0.94"/><circle cx="252.4" cy="354.1" r="1.00"/><circle cx="326.8" cy="354.1" r="1.20"/><circle cx="184.2" cy="361.2" r="2.20"/><circle cx="190.4" cy="361.2" r="2.00"/><circle cx="196.6" cy="361.2" r="2.00"/><circle cx="240.0" cy="361.2" r="1.02"/><circle cx="246.2" cy="361.2" r="0.83"/><circle cx="252.4" cy="361.2" r="0.92"/><circle cx="184.2" cy="368.3" r="0.80"/><circle cx="240.0" cy="368.3" r="0.96"/><circle cx="246.2" cy="368.3" r="0.91"/></g>
<g fill="#c9bde6"><circle cx="215.2" cy="283.1" r="0.79"/><circle cx="246.2" cy="283.1" r="0.82"/><circle cx="258.6" cy="283.1" r="0.62"/><circle cx="209.0" cy="290.2" r="0.65"/><circle cx="215.2" cy="290.2" r="0.71"/><circle cx="227.6" cy="290.2" r="0.64"/><circle cx="240.0" cy="290.2" r="0.64"/><circle cx="246.2" cy="290.2" r="0.57"/><circle cx="252.4" cy="290.2" r="0.58"/><circle cx="221.4" cy="297.3" r="0.72"/><circle cx="233.8" cy="297.3" r="0.56"/><circle cx="240.0" cy="297.3" r="0.64"/><circle cx="246.2" cy="297.3" r="0.58"/><circle cx="252.4" cy="304.4" r="0.76"/><circle cx="258.6" cy="304.4" r="0.79"/><circle cx="202.8" cy="311.5" r="0.63"/><circle cx="209.0" cy="311.5" r="0.71"/><circle cx="221.4" cy="311.5" r="0.71"/><circle cx="227.6" cy="311.5" r="0.59"/><circle cx="233.8" cy="311.5" r="0.60"/><circle cx="240.0" cy="311.5" r="0.75"/><circle cx="252.4" cy="311.5" r="0.72"/><circle cx="258.6" cy="311.5" r="0.57"/><circle cx="240.0" cy="318.6" r="0.62"/><circle cx="246.2" cy="318.6" r="0.66"/><circle cx="246.2" cy="325.7" r="0.79"/><circle cx="258.6" cy="325.7" r="0.69"/><circle cx="221.4" cy="332.8" r="0.70"/><circle cx="233.8" cy="332.8" r="0.83"/><circle cx="258.6" cy="332.8" r="0.84"/><circle cx="215.2" cy="339.9" r="0.69"/><circle cx="227.6" cy="339.9" r="0.72"/><circle cx="233.8" cy="339.9" r="0.81"/><circle cx="202.8" cy="347.0" r="0.60"/><circle cx="258.6" cy="347.0" r="0.60"/><circle cx="209.0" cy="354.1" r="0.67"/><circle cx="202.8" cy="368.3" r="0.72"/><circle cx="221.4" cy="368.3" r="0.60"/></g>
<g fill="#7444ea"><circle cx="227.6" cy="283.1" r="0.90"/><circle cx="233.8" cy="283.1" r="0.90"/><circle cx="233.8" cy="290.2" r="1.60"/><circle cx="283.4" cy="297.3" r="1.50"/><circle cx="233.8" cy="304.4" r="1.10"/><circle cx="252.4" cy="318.6" r="1.30"/><circle cx="351.6" cy="332.8" r="1.70"/><circle cx="209.0" cy="339.9" r="1.40"/><circle cx="345.4" cy="361.2" r="0.80"/><circle cx="351.6" cy="361.2" r="0.90"/><circle cx="252.4" cy="368.3" r="1.00"/><circle cx="326.8" cy="368.3" r="1.00"/><circle cx="333.0" cy="368.3" r="1.00"/></g>
<g fill="#9a72ea"><circle cx="308.2" cy="304.4" r="0.86"/><circle cx="314.4" cy="304.4" r="0.89"/><circle cx="320.6" cy="304.4" r="0.96"/><circle cx="326.8" cy="304.4" r="0.87"/><circle cx="333.0" cy="304.4" r="1.04"/><circle cx="339.2" cy="304.4" r="0.99"/><circle cx="308.2" cy="311.5" r="1.03"/><circle cx="314.4" cy="311.5" r="0.96"/><circle cx="320.6" cy="311.5" r="0.95"/><circle cx="326.8" cy="311.5" r="0.91"/><circle cx="333.0" cy="311.5" r="0.99"/><circle cx="339.2" cy="311.5" r="0.86"/><circle cx="308.2" cy="318.6" r="0.93"/><circle cx="314.4" cy="318.6" r="0.95"/><circle cx="320.6" cy="318.6" r="0.91"/><circle cx="326.8" cy="318.6" r="0.84"/><circle cx="333.0" cy="318.6" r="0.77"/><circle cx="339.2" cy="318.6" r="0.78"/></g>
<g fill="#5a30ee"><circle cx="252.4" cy="332.8" r="1.80"/></g>
<g fill="#6a3aea"><circle cx="258.6" cy="339.9" r="2.30"/></g>
<text x="383.3" y="279.8" font-size="7" text-anchor="middle" fill="#111" font-weight="bold" stroke="#111" stroke-width="0.3">Average</text>
<text x="383.1" y="287.4" font-size="7" text-anchor="middle" fill="#111" font-weight="bold" stroke="#111" stroke-width="0.3">Expression</text>
<rect x="374" y="291.3" width="6.9" height="40.7" fill="url(#cbar)"/>
<text x="384.7" y="300.6" font-size="7" text-anchor="start" fill="#111" font-weight="bold" stroke="#111" stroke-width="0.3">2</text>
<text x="384.7" y="310.9" font-size="7" text-anchor="start" fill="#111" font-weight="bold" stroke="#111" stroke-width="0.3">1</text>
<text x="384.7" y="321.2" font-size="7" text-anchor="start" fill="#111" font-weight="bold" stroke="#111" stroke-width="0.3">0</text>
<text x="384.7" y="332.9" font-size="7" text-anchor="start" fill="#111" font-weight="bold" stroke="#111" stroke-width="0.3">-1</text>
<text x="384.5" y="342.3" font-size="7" text-anchor="middle" fill="#111" font-weight="bold" stroke="#111" stroke-width="0.3">Percent</text>
<text x="384.3" y="350.6" font-size="7" text-anchor="middle" fill="#111" font-weight="bold" stroke="#111" stroke-width="0.3">Expressed</text>
<circle cx="376.4" cy="358.2" r="0.35" fill="#111"/>
<text x="380.6" y="360.6" font-size="7" text-anchor="start" fill="#111" font-weight="bold" stroke="#111" stroke-width="0.3">0</text>
<circle cx="376.4" cy="366.2" r="0.8" fill="#111"/>
<text x="380.6" y="368.6" font-size="7" text-anchor="start" fill="#111" font-weight="bold" stroke="#111" stroke-width="0.3">25</text>
<circle cx="376.4" cy="374.2" r="1.5" fill="#111"/>
<text x="380.6" y="376.6" font-size="7" text-anchor="start" fill="#111" font-weight="bold" stroke="#111" stroke-width="0.3">50</text>
<circle cx="376.4" cy="382.0" r="2.3" fill="#111"/>
<text x="380.6" y="384.4" font-size="7" text-anchor="start" fill="#111" font-weight="bold" stroke="#111" stroke-width="0.3">75</text>
<circle cx="376.4" cy="389.8" r="3.0" fill="#111"/>
<text x="380.6" y="392.2" font-size="7" text-anchor="start" fill="#111" font-weight="bold" stroke="#111" stroke-width="0.3">100</text>
<text x="4.1" y="403.5" font-size="7" text-anchor="start" fill="#111" font-weight="bold" stroke="#111" stroke-width="0.3">e</text>
<path d="M26.2,409 V531.6 M21.3,409.0H26.2M21.3,433.5H26.2M21.3,458.0H26.2M21.3,482.5H26.2M21.3,507.0H26.2M21.3,531.6H26.2" fill="none" stroke="#555" stroke-width="0.7"/>
<text x="19.8" y="412.2" font-size="7" text-anchor="end" fill="#111" font-weight="bold" stroke="#111" stroke-width="0.3">1.0</text>
<text x="19.8" y="436.7" font-size="7" text-anchor="end" fill="#111" font-weight="bold" stroke="#111" stroke-width="0.3">0 .8</text>
<text x="19.8" y="461.2" font-size="7" text-anchor="end" fill="#111" font-weight="bold" stroke="#111" stroke-width="0.3">0 .6</text>
<text x="19.8" y="485.7" font-size="7" text-anchor="end" fill="#111" font-weight="bold" stroke="#111" stroke-width="0.3">0 .4</text>
<text x="19.8" y="510.2" font-size="7" text-anchor="end" fill="#111" font-weight="bold" stroke="#111" stroke-width="0.3">0 .2</text>
<text x="19.8" y="534.8" font-size="7" text-anchor="end" fill="#111" font-weight="bold" stroke="#111" stroke-width="0.3">0</text>
<rect x="37.5" y="409.3" width="39.0" height="1.00" fill="#5fba82" stroke="#555" stroke-width="0.45"/>
<rect x="37.5" y="410.3" width="39.0" height="1.30" fill="#a9a9a9" stroke="#555" stroke-width="0.45"/>
<rect x="37.5" y="411.6" width="39.0" height="8.50" fill="#fdf5d6" stroke="#555" stroke-width="0.45"/>
<rect x="37.5" y="420.1" width="39.0" height="6.00" fill="#ff7c4c" stroke="#555" stroke-width="0.45"/>
<rect x="37.5" y="426.1" width="39.0" height="1.30" fill="#f4b27e" stroke="#555" stroke-width="0.45"/>
<rect x="37.5" y="427.4" width="39.0" height="6.70" fill="#fcf3dc" stroke="#555" stroke-width="0.45"/>
<rect x="37.5" y="434.1" width="39.0" height="11.20" fill="#edf9fc" stroke="#555" stroke-width="0.45"/>
<rect x="37.5" y="445.3" width="39.0" height="13.50" fill="#ffffff" stroke="#555" stroke-width="0.45"/>
<rect x="37.5" y="458.8" width="39.0" height="3.70" fill="#ffd400" stroke="#555" stroke-width="0.45"/>
<rect x="37.5" y="462.5" width="39.0" height="4.80" fill="#ffa300" stroke="#555" stroke-width="0.45"/>
<rect x="37.5" y="467.3" width="39.0" height="3.70" fill="#1ee61e" stroke="#555" stroke-width="0.45"/>
<rect x="37.5" y="471.0" width="39.0" height="19.80" fill="#f50f0f" stroke="#555" stroke-width="0.45"/>
<rect x="37.5" y="490.8" width="39.0" height="40.80" fill="#0f0fee" stroke="#555" stroke-width="0.45"/>
<rect x="84.5" y="409.3" width="39.1" height="1.20" fill="#5fba82" stroke="#555" stroke-width="0.45"/>
<rect x="84.5" y="410.5" width="39.1" height="0.30" fill="#a9a9a9" stroke="#555" stroke-width="0.45"/>
<rect x="84.5" y="410.8" width="39.1" height="9.00" fill="#fdf5d6" stroke="#555" stroke-width="0.45"/>
<rect x="84.5" y="419.8" width="39.1" height="5.60" fill="#ff7c4c" stroke="#555" stroke-width="0.45"/>
<rect x="84.5" y="425.4" width="39.1" height="0.50" fill="#f4b27e" stroke="#555" stroke-width="0.45"/>
<rect x="84.5" y="425.9" width="39.1" height="6.90" fill="#fcf3dc" stroke="#555" stroke-width="0.45"/>
<rect x="84.5" y="432.8" width="39.1" height="7.30" fill="#edf9fc" stroke="#555" stroke-width="0.45"/>
<rect x="84.5" y="440.1" width="39.1" height="15.90" fill="#ffffff" stroke="#555" stroke-width="0.45"/>
<rect x="84.5" y="456.0" width="39.1" height="3.00" fill="#ffd400" stroke="#555" stroke-width="0.45"/>
<rect x="84.5" y="459.0" width="39.1" height="5.20" fill="#ffa300" stroke="#555" stroke-width="0.45"/>
<rect x="84.5" y="464.2" width="39.1" height="3.40" fill="#1ee61e" stroke="#555" stroke-width="0.45"/>
<rect x="84.5" y="467.6" width="39.1" height="16.20" fill="#f50f0f" stroke="#555" stroke-width="0.45"/>
<rect x="84.5" y="483.8" width="39.1" height="47.80" fill="#0f0fee" stroke="#555" stroke-width="0.45"/>
<rect x="131.5" y="409.3" width="38.6" height="0.30" fill="#5fba82" stroke="#555" stroke-width="0.45"/>
<rect x="131.5" y="409.6" width="38.6" height="5.10" fill="#a9a9a9" stroke="#555" stroke-width="0.45"/>
<rect x="131.5" y="414.7" width="38.6" height="1.60" fill="#fdf5d6" stroke="#555" stroke-width="0.45"/>
<rect x="131.5" y="416.3" width="38.6" height="1.40" fill="#ff7c4c" stroke="#555" stroke-width="0.45"/>
<rect x="131.5" y="417.7" width="38.6" height="2.10" fill="#f4b27e" stroke="#555" stroke-width="0.45"/>
<rect x="131.5" y="419.8" width="38.6" height="3.70" fill="#fcf3dc" stroke="#555" stroke-width="0.45"/>
<rect x="131.5" y="423.5" width="38.6" height="5.60" fill="#edf9fc" stroke="#555" stroke-width="0.45"/>
<rect x="131.5" y="429.1" width="38.6" height="8.90" fill="#ffffff" stroke="#555" stroke-width="0.45"/>
<rect x="131.5" y="438.0" width="38.6" height="3.00" fill="#ffd400" stroke="#555" stroke-width="0.45"/>
<rect x="131.5" y="441.0" width="38.6" height="10.00" fill="#ffa300" stroke="#555" stroke-width="0.45"/>
<rect x="131.5" y="451.0" width="38.6" height="9.20" fill="#1ee61e" stroke="#555" stroke-width="0.45"/>
<rect x="131.5" y="460.2" width="38.6" height="29.90" fill="#f50f0f" stroke="#555" stroke-width="0.45"/>
<rect x="131.5" y="490.1" width="38.6" height="41.50" fill="#0f0fee" stroke="#555" stroke-width="0.45"/>
<rect x="178.6" y="409.3" width="38.5" height="0.30" fill="#5fba82" stroke="#555" stroke-width="0.45"/>
<rect x="178.6" y="409.6" width="38.5" height="2.70" fill="#a9a9a9" stroke="#555" stroke-width="0.45"/>
<rect x="178.6" y="412.3" width="38.5" height="0.30" fill="#fdf5d6" stroke="#555" stroke-width="0.45"/>
<rect x="178.6" y="412.6" width="38.5" height="2.10" fill="#ff7c4c" stroke="#555" stroke-width="0.45"/>
<rect x="178.6" y="414.7" width="38.5" height="1.30" fill="#f4b27e" stroke="#555" stroke-width="0.45"/>
<rect x="178.6" y="416.0" width="38.5" height="6.80" fill="#fcf3dc" stroke="#555" stroke-width="0.45"/>
<rect x="178.6" y="422.8" width="38.5" height="3.50" fill="#edf9fc" stroke="#555" stroke-width="0.45"/>
<rect x="178.6" y="426.3" width="38.5" height="10.00" fill="#ffffff" stroke="#555" stroke-width="0.45"/>
<rect x="178.6" y="436.3" width="38.5" height="5.70" fill="#ffd400" stroke="#555" stroke-width="0.45"/>
<rect x="178.6" y="442.0" width="38.5" height="6.20" fill="#ffa300" stroke="#555" stroke-width="0.45"/>
<rect x="178.6" y="448.2" width="38.5" height="15.80" fill="#1ee61e" stroke="#555" stroke-width="0.45"/>
<rect x="178.6" y="464.0" width="38.5" height="24.50" fill="#f50f0f" stroke="#555" stroke-width="0.45"/>
<rect x="178.6" y="488.5" width="38.5" height="43.10" fill="#0f0fee" stroke="#555" stroke-width="0.45"/>
<rect x="225.5" y="409.3" width="38.5" height="0.50" fill="#5fba82" stroke="#555" stroke-width="0.45"/>
<rect x="225.5" y="409.8" width="38.5" height="1.20" fill="#a9a9a9" stroke="#555" stroke-width="0.45"/>
<rect x="225.5" y="411.0" width="38.5" height="0.20" fill="#fdf5d6" stroke="#555" stroke-width="0.45"/>
<rect x="225.5" y="411.2" width="38.5" height="0.60" fill="#ff7c4c" stroke="#555" stroke-width="0.45"/>
<rect x="225.5" y="411.8" width="38.5" height="4.00" fill="#f4b27e" stroke="#555" stroke-width="0.45"/>
<rect x="225.5" y="415.8" width="38.5" height="2.40" fill="#fcf3dc" stroke="#555" stroke-width="0.45"/>
<rect x="225.5" y="418.2" width="38.5" height="3.40" fill="#edf9fc" stroke="#555" stroke-width="0.45"/>
<rect x="225.5" y="421.6" width="38.5" height="4.00" fill="#ffffff" stroke="#555" stroke-width="0.45"/>
<rect x="225.5" y="425.6" width="38.5" height="3.50" fill="#ffd400" stroke="#555" stroke-width="0.45"/>
<rect x="225.5" y="429.1" width="38.5" height="11.20" fill="#ffa300" stroke="#555" stroke-width="0.45"/>
<rect x="225.5" y="440.3" width="38.5" height="3.10" fill="#1ee61e" stroke="#555" stroke-width="0.45"/>
<rect x="225.5" y="443.4" width="38.5" height="85.20" fill="#f50f0f" stroke="#555" stroke-width="0.45"/>
<rect x="225.5" y="528.6" width="38.5" height="3.00" fill="#0f0fee" stroke="#555" stroke-width="0.45"/>
<rect x="271.6" y="409.3" width="39.0" height="0.30" fill="#5fba82" stroke="#555" stroke-width="0.45"/>
<rect x="271.6" y="409.6" width="39.0" height="2.70" fill="#a9a9a9" stroke="#555" stroke-width="0.45"/>
<rect x="271.6" y="412.3" width="39.0" height="2.80" fill="#fdf5d6" stroke="#555" stroke-width="0.45"/>
<rect x="271.6" y="415.1" width="39.0" height="4.20" fill="#ff7c4c" stroke="#555" stroke-width="0.45"/>
<rect x="271.6" y="419.3" width="39.0" height="5.40" fill="#f4b27e" stroke="#555" stroke-width="0.45"/>
<rect x="271.6" y="424.7" width="39.0" height="8.60" fill="#fcf3dc" stroke="#555" stroke-width="0.45"/>
<rect x="271.6" y="433.3" width="39.0" height="11.00" fill="#edf9fc" stroke="#555" stroke-width="0.45"/>
<rect x="271.6" y="444.3" width="39.0" height="1.60" fill="#ffffff" stroke="#555" stroke-width="0.45"/>
<rect x="271.6" y="445.9" width="39.0" height="18.60" fill="#ffd400" stroke="#555" stroke-width="0.45"/>
<rect x="271.6" y="464.5" width="39.0" height="8.60" fill="#ffa300" stroke="#555" stroke-width="0.45"/>
<rect x="271.6" y="473.1" width="39.0" height="45.00" fill="#1ee61e" stroke="#555" stroke-width="0.45"/>
<rect x="271.6" y="518.1" width="39.0" height="8.60" fill="#f50f0f" stroke="#555" stroke-width="0.45"/>
<rect x="271.6" y="526.7" width="39.0" height="4.90" fill="#0f0fee" stroke="#555" stroke-width="0.45"/>
<path d="M37.4,532.7 H311 M57.0,532.7V535M104.0,532.7V535M150.8,532.7V535M197.8,532.7V535M244.8,532.7V535M291.1,532.7V535" fill="none" stroke="#555" stroke-width="0.7"/>
<text x="55.7" y="544.5" font-size="7" text-anchor="middle" fill="#111" font-weight="bold" stroke="#111" stroke-width="0.3">HET 07</text>
<text x="102.9" y="544.5" font-size="7" text-anchor="middle" fill="#111" font-weight="bold" stroke="#111" stroke-width="0.3">HOMO 07</text>
<text x="150.2" y="544.5" font-size="7" text-anchor="middle" fill="#111" font-weight="bold" stroke="#111" stroke-width="0.3">HET 14</text>
<text x="197.8" y="544.5" font-size="7" text-anchor="middle" fill="#111" font-weight="bold" stroke="#111" stroke-width="0.3">HOMO 14</text>
<text x="245.0" y="544.5" font-size="7" text-anchor="middle" fill="#111" font-weight="bold" stroke="#111" stroke-width="0.3">HET 21</text>
<text x="292.3" y="544.5" font-size="7" text-anchor="middle" fill="#111" font-weight="bold" stroke="#111" stroke-width="0.3">HOMO 21</text>
<rect x="313.7" y="409.8" width="4.5" height="4.5" fill="#5fba82" stroke="#444" stroke-width="0.5"/>
<text x="321" y="414.6" font-size="7" text-anchor="start" fill="#111" font-weight="bold" stroke="#111" stroke-width="0.3">Mast cells</text>
<rect x="313.7" y="419.6" width="4.5" height="4.5" fill="#a9a9a9" stroke="#444" stroke-width="0.5"/>
<text x="321" y="424.4" font-size="7" text-anchor="start" fill="#111" font-weight="bold" stroke="#111" stroke-width="0.3">B cells</text>
<rect x="313.7" y="429.4" width="4.5" height="4.5" fill="#fdf5d6" stroke="#444" stroke-width="0.5"/>
<text x="321" y="434.2" font-size="7" text-anchor="start" fill="#111" font-weight="bold" stroke="#111" stroke-width="0.3">Podocytes</text>
<rect x="313.7" y="439.2" width="4.5" height="4.5" fill="#ff7c4c" stroke="#444" stroke-width="0.5"/>
<text x="321" y="444.0" font-size="7" text-anchor="start" fill="#111" font-weight="bold" stroke="#111" stroke-width="0.3">Neutrophils</text>
<rect x="313.7" y="449.0" width="4.5" height="4.5" fill="#f4b27e" stroke="#444" stroke-width="0.5"/>
<text x="321" y="453.8" font-size="7" text-anchor="start" fill="#111" font-weight="bold" stroke="#111" stroke-width="0.3">Erythroid precursor cells</text>
<rect x="313.7" y="458.8" width="4.5" height="4.5" fill="#fcf3dc" stroke="#444" stroke-width="0.5"/>
<text x="321" y="463.6" font-size="7" text-anchor="start" fill="#111" font-weight="bold" stroke="#111" stroke-width="0.3">Fibroblasts</text>
<rect x="313.7" y="468.6" width="4.5" height="4.5" fill="#edf9fc" stroke="#444" stroke-width="0.5"/>
<text x="321" y="473.4" font-size="7" text-anchor="start" fill="#111" font-weight="bold" stroke="#111" stroke-width="0.3">NK and T cells</text>
<rect x="313.7" y="478.4" width="4.5" height="4.5" fill="#ffffff" stroke="#444" stroke-width="0.5"/>
<text x="321" y="483.2" font-size="7" text-anchor="start" fill="#111" font-weight="bold" stroke="#111" stroke-width="0.3">Loop of Henle cells</text>
<rect x="313.7" y="488.2" width="4.5" height="4.5" fill="#ffd400" stroke="#444" stroke-width="0.5"/>
<text x="321" y="493.0" font-size="7" text-anchor="start" fill="#111" font-weight="bold" stroke="#111" stroke-width="0.3">Macrophages</text>
<rect x="313.7" y="498.0" width="4.5" height="4.5" fill="#ffa300" stroke="#444" stroke-width="0.5"/>
<text x="321" y="502.8" font-size="7" text-anchor="start" fill="#111" font-weight="bold" stroke="#111" stroke-width="0.3">Endothelia cells</text>
<rect x="313.7" y="507.8" width="4.5" height="4.5" fill="#1ee61e" stroke="#444" stroke-width="0.5"/>
<text x="321" y="512.6" font-size="7" text-anchor="start" fill="#111" font-weight="bold" stroke="#111" stroke-width="0.3">Collecting duct cells</text>
<rect x="313.7" y="517.6" width="4.5" height="4.5" fill="#f50f0f" stroke="#444" stroke-width="0.5"/>
<text x="321" y="522.4" font-size="7" text-anchor="start" fill="#111" font-weight="bold" stroke="#111" stroke-width="0.3">Proximal tubule cells</text>
<rect x="313.7" y="527.4" width="4.5" height="4.5" fill="#0f0fee" stroke="#444" stroke-width="0.5"/>
<text x="321" y="532.2" font-size="7" text-anchor="start" fill="#111" font-weight="bold" stroke="#111" stroke-width="0.3">Distal tubule cells</text>
</svg>
</body></html>
